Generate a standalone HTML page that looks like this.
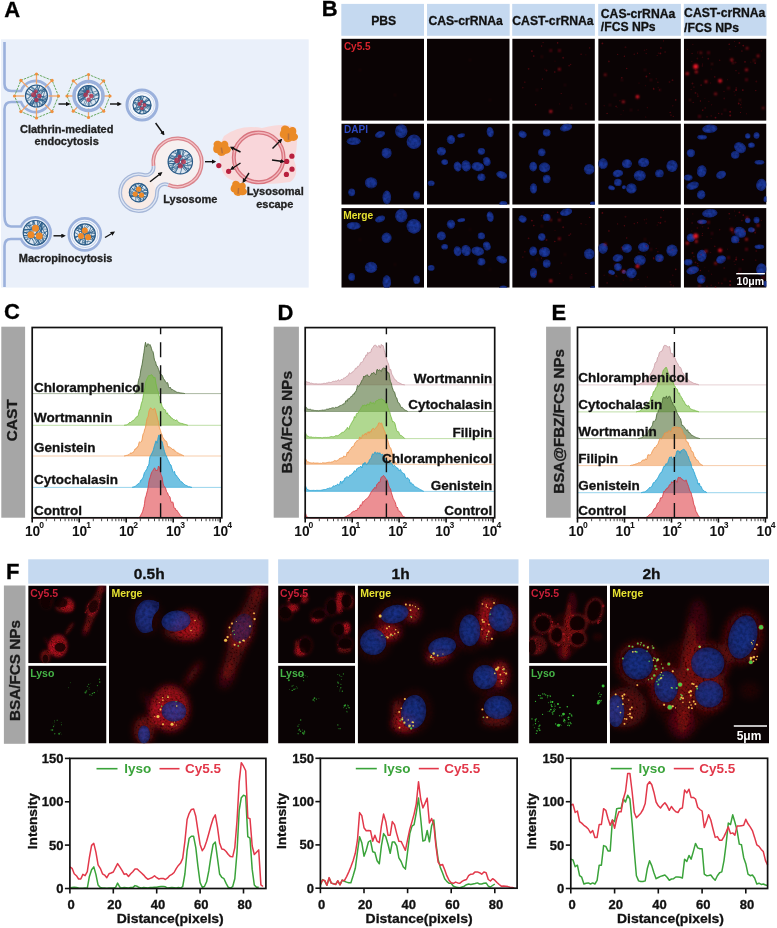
<!DOCTYPE html>
<html><head><meta charset="utf-8"><title>Figure</title>
<style>
html,body{margin:0;padding:0;background:#fff;}
svg{display:block;}
svg text{font-family:"Liberation Sans", Arial, Helvetica, sans-serif;}
</style></head><body>
<svg width="777" height="928" viewBox="0 0 777 928">
<defs>
<radialGradient id="nucg" cx="50%" cy="50%" r="50%">
  <stop offset="0" stop-color="#2040b4"/>
  <stop offset="0.65" stop-color="#1c3aa2"/>
  <stop offset="1" stop-color="#14287a"/>
</radialGradient>
<filter id="b06" x="-20%" y="-20%" width="140%" height="140%"><feGaussianBlur stdDeviation="0.6"/></filter>
<filter id="b08" x="-50%" y="-50%" width="200%" height="200%"><feGaussianBlur stdDeviation="0.8"/></filter>
<filter id="b1" x="-50%" y="-50%" width="200%" height="200%"><feGaussianBlur stdDeviation="1"/></filter>
<filter id="b2" x="-50%" y="-50%" width="200%" height="200%"><feGaussianBlur stdDeviation="2"/></filter>
<filter id="b4" x="-50%" y="-50%" width="200%" height="200%"><feGaussianBlur stdDeviation="4"/></filter>
<filter id="ntex" x="-10%" y="-10%" width="120%" height="120%">
  <feGaussianBlur in="SourceGraphic" stdDeviation="0.7" result="b"/>
  <feTurbulence type="fractalNoise" baseFrequency="0.3" numOctaves="2" seed="7" result="n"/>
  <feColorMatrix in="n" type="matrix" values="1 0 0 0 0  1 0 0 0 0  1 0 0 0 0  0 0 0 0 1" result="g"/>
  <feComposite in="b" in2="g" operator="arithmetic" k1="1.2" k2="0.25" k3="0" k4="0"/>
</filter>
<filter id="rtex" x="-20%" y="-20%" width="140%" height="140%">
  <feGaussianBlur in="SourceGraphic" stdDeviation="3.5" result="b"/>
  <feTurbulence type="fractalNoise" baseFrequency="0.45" numOctaves="2" seed="3" result="n"/>
  <feColorMatrix in="n" type="matrix" values="1 0 0 0 0  1 0 0 0 0  1 0 0 0 0  0 0 0 0 1" result="g"/>
  <feComposite in="b" in2="g" operator="arithmetic" k1="1.9" k2="-0.1" k3="0" k4="0"/>
</filter>

<marker id="ah" viewBox="0 0 10 10" refX="6" refY="5" markerWidth="3.2" markerHeight="3.2" orient="auto-start-reverse"><path d="M0,0 L10,5 L0,10 z" fill="#111"/></marker>
<clipPath id="ballclip"><circle cx="0" cy="0" r="1"/></clipPath>
<clipPath id="c1"><rect x="341.3" y="38.6" width="82.7" height="82.2"/></clipPath>
<clipPath id="c2"><rect x="341.3" y="123.5" width="82.7" height="81.2"/></clipPath>
<clipPath id="c3"><rect x="341.3" y="208.1" width="82.7" height="79.6"/></clipPath>
<clipPath id="c4"><rect x="427" y="38.6" width="82.7" height="82.2"/></clipPath>
<clipPath id="c5"><rect x="427" y="123.5" width="82.7" height="81.2"/></clipPath>
<clipPath id="c6"><rect x="427" y="208.1" width="82.7" height="79.6"/></clipPath>
<clipPath id="c7"><rect x="512.2" y="38.6" width="82.7" height="82.2"/></clipPath>
<clipPath id="c8"><rect x="512.2" y="123.5" width="82.7" height="81.2"/></clipPath>
<clipPath id="c9"><rect x="512.2" y="208.1" width="82.7" height="79.6"/></clipPath>
<clipPath id="c10"><rect x="598.2" y="38.6" width="82.7" height="82.2"/></clipPath>
<clipPath id="c11"><rect x="598.2" y="123.5" width="82.7" height="81.2"/></clipPath>
<clipPath id="c12"><rect x="598.2" y="208.1" width="82.7" height="79.6"/></clipPath>
<clipPath id="c13"><rect x="683.8" y="38.6" width="82.7" height="82.2"/></clipPath>
<clipPath id="c14"><rect x="683.8" y="123.5" width="82.7" height="81.2"/></clipPath>
<clipPath id="c15"><rect x="683.8" y="208.1" width="82.7" height="79.6"/></clipPath><clipPath id="c16"><rect x="109" y="585.5" width="159.4" height="158"/></clipPath>
<clipPath id="c17"><rect x="28.2" y="585.5" width="78.3" height="77.7"/></clipPath>
<clipPath id="c18"><rect x="28.2" y="665.6" width="78.3" height="77.9"/></clipPath>
<clipPath id="c19"><rect x="357.7" y="585.5" width="160.8" height="158"/></clipPath>
<clipPath id="c20"><rect x="278.1" y="585.5" width="77" height="77.7"/></clipPath>
<clipPath id="c21"><rect x="278.1" y="665.6" width="77" height="77.9"/></clipPath>
<clipPath id="c22"><rect x="609.8" y="585.5" width="159.2" height="158"/></clipPath>
<clipPath id="c23"><rect x="529.1" y="585.5" width="77.9" height="77.7"/></clipPath>
<clipPath id="c24"><rect x="529.1" y="665.6" width="77.9" height="77.9"/></clipPath></defs>
<rect width="777" height="928" fill="#fff"/>
<text x="4.2" y="16.5" font-size="22" fill="#000" text-anchor="start" font-weight="bold" stroke="#000" stroke-width="0.3" >A</text>
<rect x="1" y="39.3" width="307.7" height="248.3" fill="#eaf0fa" />
<path d="M4.5,42 L4.5,84 Q4.5,91 11.5,91 L21,91 A15.5,15.5 0 1 1 21,102 L11.5,102 Q4.5,102 4.5,109 L4.5,216 Q4.5,226.5 11,226.5 L21,226.5 A15.5,15.5 0 1 1 21,239 L11,239 Q4.5,239 4.5,246 L4.5,287" fill="none" stroke="#9bb1dc" stroke-width="2.6"/>
<line x1="48.6" y1="96" x2="58.5" y2="96" stroke="#f2a468" stroke-width="1.3"/><line x1="45.1" y1="104.6" x2="52.1" y2="111.6" stroke="#f2a468" stroke-width="1.3"/><line x1="36.5" y1="108.1" x2="36.5" y2="118" stroke="#f2a468" stroke-width="1.3"/><line x1="27.9" y1="104.6" x2="20.9" y2="111.6" stroke="#f2a468" stroke-width="1.3"/><line x1="24.4" y1="96" x2="14.5" y2="96" stroke="#f2a468" stroke-width="1.3"/><line x1="27.9" y1="87.4" x2="20.9" y2="80.4" stroke="#f2a468" stroke-width="1.3"/><line x1="36.5" y1="83.9" x2="36.5" y2="74" stroke="#f2a468" stroke-width="1.3"/><line x1="45.1" y1="87.4" x2="52.1" y2="80.4" stroke="#f2a468" stroke-width="1.3"/><polygon points="58.5,96 52.1,111.6 36.5,118 20.9,111.6 14.5,96 20.9,80.4 36.5,74 52.1,80.4" fill="none" stroke="#5aa050" stroke-width="0.9" stroke-dasharray="2.5,1"/><circle cx="58.5" cy="96" r="1.6" fill="#f09040"/><circle cx="52.1" cy="111.6" r="1.6" fill="#f09040"/><circle cx="36.5" cy="118" r="1.6" fill="#f09040"/><circle cx="20.9" cy="111.6" r="1.6" fill="#f09040"/><circle cx="14.5" cy="96" r="1.6" fill="#f09040"/><circle cx="20.9" cy="80.4" r="1.6" fill="#f09040"/><circle cx="36.5" cy="74" r="1.6" fill="#f09040"/><circle cx="52.1" cy="80.4" r="1.6" fill="#f09040"/>
<g transform="translate(36.5 96)"><circle r="11.5" fill="#dce6f0"/><path d="M-9.7,5.6 Q-5.7,-2.3 1.7,-11" fill="none" stroke="#2a5f8a" stroke-width="0.6"/><path d="M9.3,6.1 Q-1.8,-1.2 -2,11" fill="none" stroke="#2a5f8a" stroke-width="0.7"/><path d="M-9.7,5.4 Q-3.4,4.3 1,-11.1" fill="none" stroke="#2a5f8a" stroke-width="0.5"/><path d="M-5.3,-9.8 Q0.7,-4.1 10.1,-4.7" fill="none" stroke="#2a5f8a" stroke-width="0.6"/><path d="M3.5,-10.6 Q-2.1,2.2 1,11.1" fill="none" stroke="#2a5f8a" stroke-width="0.9"/><path d="M8.8,-6.9 Q-5.3,-3.8 10.6,3.4" fill="none" stroke="#2a5f8a" stroke-width="0.9"/><path d="M9.1,6.5 Q5.3,0.4 -7.1,8.6" fill="none" stroke="#2a5f8a" stroke-width="0.8"/><path d="M-4.5,10.2 Q3.8,-5.5 -5.9,-9.5" fill="none" stroke="#2a5f8a" stroke-width="0.8"/><path d="M11.1,-0.8 Q-2.5,3.3 -6.8,8.8" fill="none" stroke="#2a5f8a" stroke-width="0.5"/><path d="M-10.6,3.6 Q-2.4,-2.4 7.3,-8.4" fill="none" stroke="#2a5f8a" stroke-width="0.6"/><path d="M11.1,1.4 Q-3.3,-2.7 -7.3,8.5" fill="none" stroke="#2a5f8a" stroke-width="0.7"/><path d="M10.5,3.7 Q-4.1,1 -7.3,8.4" fill="none" stroke="#2a5f8a" stroke-width="0.8"/><path d="M8.9,6.7 Q2.2,-1 -7.2,8.5" fill="none" stroke="#2a5f8a" stroke-width="0.5"/><path d="M-10.9,-2.5 Q0.2,5.1 7.9,-7.9" fill="none" stroke="#2a5f8a" stroke-width="0.7"/><path d="M9.2,-6.4 Q-4.1,3.5 10,5" fill="none" stroke="#2a5f8a" stroke-width="0.7"/><path d="M5.7,9.6 Q-1.8,2.9 -9.5,-5.9" fill="none" stroke="#2a5f8a" stroke-width="0.8"/><path d="M8.3,-7.5 Q2.9,-1.7 2.8,10.8" fill="none" stroke="#2a5f8a" stroke-width="0.6"/><path d="M8.9,-6.8 Q5.3,1.9 6,9.4" fill="none" stroke="#2a5f8a" stroke-width="0.7"/><path d="M8.4,7.4 Q-0.6,0.9 -10.7,-3.1" fill="none" stroke="#2a5f8a" stroke-width="0.7"/><path d="M0.9,11.1 Q0.8,-5.7 -6.4,-9.1" fill="none" stroke="#2a5f8a" stroke-width="0.7"/><path d="M-5.2,9.9 Q4.4,-1.6 -8,-7.7" fill="none" stroke="#2a5f8a" stroke-width="0.9"/><path d="M-8,-7.8 Q4.9,2.2 0.4,-11.1" fill="none" stroke="#2a5f8a" stroke-width="0.9"/><path d="M5.2,9.9 Q5,2.3 -6.2,9.3" fill="none" stroke="#2a5f8a" stroke-width="0.5"/><circle cx="-2.9" cy="-1.2" r="2.5" fill="#b8304a" fill-opacity="0.8"/><circle cx="2.9" cy="0" r="2.3" fill="#b8304a" fill-opacity="0.8"/><circle cx="0" cy="4" r="2.3" fill="#b8304a" fill-opacity="0.8"/><circle cx="-0.6" cy="-4.6" r="1.8" fill="#b8304a" fill-opacity="0.8"/><circle r="11" fill="none" stroke="#2a5a86" stroke-width="1.2"/></g>
<line x1="100.3" y1="96" x2="110" y2="96" stroke="#f2a468" stroke-width="1.3"/><line x1="96.9" y1="104.4" x2="103.7" y2="111.2" stroke="#f2a468" stroke-width="1.3"/><line x1="88.5" y1="107.8" x2="88.5" y2="117.5" stroke="#f2a468" stroke-width="1.3"/><line x1="80.1" y1="104.4" x2="73.3" y2="111.2" stroke="#f2a468" stroke-width="1.3"/><line x1="76.7" y1="96" x2="67" y2="96" stroke="#f2a468" stroke-width="1.3"/><line x1="80.1" y1="87.6" x2="73.3" y2="80.8" stroke="#f2a468" stroke-width="1.3"/><line x1="88.5" y1="84.2" x2="88.5" y2="74.5" stroke="#f2a468" stroke-width="1.3"/><line x1="96.9" y1="87.6" x2="103.7" y2="80.8" stroke="#f2a468" stroke-width="1.3"/><polygon points="110,96 103.7,111.2 88.5,117.5 73.3,111.2 67,96 73.3,80.8 88.5,74.5 103.7,80.8" fill="none" stroke="#5aa050" stroke-width="0.9" stroke-dasharray="2.5,1"/><circle cx="110" cy="96" r="1.6" fill="#f09040"/><circle cx="103.7" cy="111.2" r="1.6" fill="#f09040"/><circle cx="88.5" cy="117.5" r="1.6" fill="#f09040"/><circle cx="73.3" cy="111.2" r="1.6" fill="#f09040"/><circle cx="67" cy="96" r="1.6" fill="#f09040"/><circle cx="73.3" cy="80.8" r="1.6" fill="#f09040"/><circle cx="88.5" cy="74.5" r="1.6" fill="#f09040"/><circle cx="103.7" cy="80.8" r="1.6" fill="#f09040"/>
<circle cx="88.5" cy="96" r="14.5" fill="none" stroke="#9bb1dc" stroke-width="3.5"/>
<circle cx="88.5" cy="96" r="12.6" fill="#f4f7fc"/>
<g transform="translate(88.5 96)"><circle r="11" fill="#dce6f0"/><path d="M-9.8,4.2 Q0.5,-0.7 -9.6,-4.6" fill="none" stroke="#2a5f8a" stroke-width="0.7"/><path d="M-5.2,9.3 Q1.3,-2.2 -10.6,-1.5" fill="none" stroke="#2a5f8a" stroke-width="0.6"/><path d="M-7.7,-7.4 Q-4,0.1 9.2,-5.3" fill="none" stroke="#2a5f8a" stroke-width="0.6"/><path d="M2.3,-10.4 Q-0.1,3.8 4.3,9.8" fill="none" stroke="#2a5f8a" stroke-width="0.5"/><path d="M-10.7,-0.4 Q-0.8,-4.4 -6.1,-8.8" fill="none" stroke="#2a5f8a" stroke-width="0.6"/><path d="M-8.8,-6.1 Q-4.3,-3.1 3,-10.2" fill="none" stroke="#2a5f8a" stroke-width="0.6"/><path d="M-10.5,2.1 Q1.5,-0.2 -5.8,-9" fill="none" stroke="#2a5f8a" stroke-width="0.7"/><path d="M-8.1,7 Q0.9,-3.7 1.1,-10.6" fill="none" stroke="#2a5f8a" stroke-width="0.8"/><path d="M10.4,-2.4 Q4.3,-1.7 -0.1,10.7" fill="none" stroke="#2a5f8a" stroke-width="0.7"/><path d="M-9.6,4.7 Q3,0.4 -3.7,-10" fill="none" stroke="#2a5f8a" stroke-width="0.9"/><path d="M-10.3,-2.9 Q-1.5,3.9 -3.4,-10.1" fill="none" stroke="#2a5f8a" stroke-width="0.7"/><path d="M10.5,1.8 Q-4.8,5.4 1.1,10.6" fill="none" stroke="#2a5f8a" stroke-width="0.9"/><path d="M3.3,-10.1 Q2.9,-3.6 7.8,7.3" fill="none" stroke="#2a5f8a" stroke-width="0.6"/><path d="M-10.5,-1.6 Q-5,5.3 1,-10.6" fill="none" stroke="#2a5f8a" stroke-width="0.7"/><path d="M-10.7,-0.3 Q-2.6,-1.2 -1.1,-10.6" fill="none" stroke="#2a5f8a" stroke-width="0.8"/><path d="M-0.9,-10.6 Q-5.4,3.3 10.6,-1" fill="none" stroke="#2a5f8a" stroke-width="0.6"/><path d="M-9.3,-5.3 Q1.8,-1.2 -2.1,-10.5" fill="none" stroke="#2a5f8a" stroke-width="0.7"/><path d="M-9.2,5.4 Q0.6,5.2 -6.1,-8.8" fill="none" stroke="#2a5f8a" stroke-width="0.5"/><path d="M-4.1,9.8 Q2.6,1.7 -10.2,3" fill="none" stroke="#2a5f8a" stroke-width="0.6"/><path d="M-9.2,5.3 Q1.8,-3.6 -0.1,-10.7" fill="none" stroke="#2a5f8a" stroke-width="0.9"/><path d="M1.9,-10.5 Q4.1,2.7 10.1,-3.4" fill="none" stroke="#2a5f8a" stroke-width="0.8"/><path d="M-10.3,-2.9 Q4.6,1 -0.6,-10.7" fill="none" stroke="#2a5f8a" stroke-width="0.6"/><circle cx="-2.8" cy="-1.1" r="2.4" fill="#b8304a" fill-opacity="0.8"/><circle cx="2.8" cy="0" r="2.2" fill="#b8304a" fill-opacity="0.8"/><circle cx="0" cy="3.8" r="2.2" fill="#b8304a" fill-opacity="0.8"/><circle cx="-0.6" cy="-4.4" r="1.8" fill="#b8304a" fill-opacity="0.8"/><circle r="10.5" fill="none" stroke="#2a5a86" stroke-width="1.2"/></g>
<circle cx="142" cy="105" r="15" fill="#f4f7fc" stroke="#9bb1dc" stroke-width="3"/>
<circle cx="142" cy="105" r="12.3" fill="none" stroke="#c8d4ec" stroke-width="0.8"/>
<g transform="translate(142 105)"><circle r="9.5" fill="#dce6f0"/><path d="M-8.7,-2.9 Q-2,0.1 7.6,-5.2" fill="none" stroke="#2a5f8a" stroke-width="0.9"/><path d="M7.3,-5.6 Q-2.8,-4.3 8.5,3.6" fill="none" stroke="#2a5f8a" stroke-width="0.7"/><path d="M9.1,1.7 Q1.4,-2.1 -3,8.7" fill="none" stroke="#2a5f8a" stroke-width="0.8"/><path d="M-7.8,-5 Q0.6,-2.3 -1.4,-9.1" fill="none" stroke="#2a5f8a" stroke-width="0.7"/><path d="M-1.9,9 Q-0.6,-3.3 -6.2,-6.8" fill="none" stroke="#2a5f8a" stroke-width="0.7"/><path d="M1.7,-9 Q-2.6,-1.1 9.2,0.3" fill="none" stroke="#2a5f8a" stroke-width="0.9"/><path d="M9.1,-1.4 Q3.8,3.3 -3.8,8.4" fill="none" stroke="#2a5f8a" stroke-width="0.7"/><path d="M7.7,5 Q0.5,-1.3 -8.3,4.1" fill="none" stroke="#2a5f8a" stroke-width="0.6"/><path d="M-7.7,5.1 Q-2.2,-2 -3.8,-8.4" fill="none" stroke="#2a5f8a" stroke-width="0.7"/><path d="M5.9,-7.1 Q-2.1,-2.1 4.2,8.2" fill="none" stroke="#2a5f8a" stroke-width="0.7"/><path d="M2.5,8.9 Q0.1,-3.9 -7.3,5.6" fill="none" stroke="#2a5f8a" stroke-width="0.7"/><path d="M-6,7 Q2.3,1.8 -2,-9" fill="none" stroke="#2a5f8a" stroke-width="0.8"/><path d="M-6.5,6.6 Q-1.5,0.7 -2.1,-9" fill="none" stroke="#2a5f8a" stroke-width="0.6"/><path d="M-8.7,3.1 Q-2.4,4.5 -7.7,-5" fill="none" stroke="#2a5f8a" stroke-width="0.6"/><path d="M-3.3,-8.6 Q2.1,-0.2 9.1,1.5" fill="none" stroke="#2a5f8a" stroke-width="0.7"/><path d="M8.4,3.8 Q-2.9,-3.3 1.9,9" fill="none" stroke="#2a5f8a" stroke-width="0.5"/><path d="M6.3,6.7 Q-3,4.3 -8.4,3.8" fill="none" stroke="#2a5f8a" stroke-width="0.8"/><path d="M-8.9,-2.3 Q-2.2,4.1 7.2,-5.7" fill="none" stroke="#2a5f8a" stroke-width="0.8"/><path d="M-1.4,-9.1 Q3.2,2.3 9.2,0.4" fill="none" stroke="#2a5f8a" stroke-width="0.8"/><circle cx="-2.4" cy="-1" r="2.1" fill="#b8304a" fill-opacity="0.8"/><circle cx="2.4" cy="0" r="1.9" fill="#b8304a" fill-opacity="0.8"/><circle cx="0" cy="3.3" r="1.9" fill="#b8304a" fill-opacity="0.8"/><circle cx="-0.5" cy="-3.8" r="1.5" fill="#b8304a" fill-opacity="0.8"/><circle r="9" fill="none" stroke="#2a5a86" stroke-width="1.2"/></g>
<line x1="58.5" y1="104" x2="68.5" y2="104" stroke="#111" stroke-width="1.4" marker-end="url(#ah)"/>
<line x1="110" y1="104" x2="120" y2="104" stroke="#111" stroke-width="1.4" marker-end="url(#ah)"/>
<line x1="155.6" y1="123" x2="163.5" y2="134" stroke="#111" stroke-width="1.4" marker-end="url(#ah)"/>
<g transform="translate(35.5 232.8)"><circle r="12.8" fill="#dce6f0"/><path d="M12.2,-2.6 Q6.1,2.7 -1.4,12.3" fill="none" stroke="#2a5f8a" stroke-width="0.8"/><path d="M2.6,12.1 Q-6.3,-3.2 -7,-10.2" fill="none" stroke="#2a5f8a" stroke-width="0.7"/><path d="M2.3,-12.2 Q4.6,6.2 12.2,-2.4" fill="none" stroke="#2a5f8a" stroke-width="0.6"/><path d="M-10.2,-7.1 Q-1.5,-5.8 -1.7,-12.3" fill="none" stroke="#2a5f8a" stroke-width="0.9"/><path d="M-11.4,4.8 Q3.7,4.7 8.2,-9.3" fill="none" stroke="#2a5f8a" stroke-width="0.6"/><path d="M11.1,5.6 Q-4.2,3 -9.7,7.7" fill="none" stroke="#2a5f8a" stroke-width="0.7"/><path d="M-12.2,-2.2 Q0.3,-5 11.9,-3.6" fill="none" stroke="#2a5f8a" stroke-width="0.6"/><path d="M-11.9,-3.5 Q1.8,-1.3 6.6,-10.5" fill="none" stroke="#2a5f8a" stroke-width="0.8"/><path d="M-9.9,7.5 Q3.4,-4.1 -2.1,-12.2" fill="none" stroke="#2a5f8a" stroke-width="0.7"/><path d="M-12.4,-0.2 Q-3.2,0.7 7.2,-10.1" fill="none" stroke="#2a5f8a" stroke-width="0.7"/><path d="M9.8,-7.6 Q1.8,-3.9 8,9.5" fill="none" stroke="#2a5f8a" stroke-width="0.7"/><path d="M5.1,11.3 Q-0.9,4.2 -9.9,-7.4" fill="none" stroke="#2a5f8a" stroke-width="0.7"/><path d="M10.3,-7 Q-2.2,0.9 6.6,10.5" fill="none" stroke="#2a5f8a" stroke-width="0.8"/><path d="M8,-9.5 Q-5.3,1.2 5.4,11.2" fill="none" stroke="#2a5f8a" stroke-width="0.6"/><path d="M-1.4,-12.3 Q0.2,1.3 7.6,9.8" fill="none" stroke="#2a5f8a" stroke-width="0.5"/><path d="M-12,-3.1 Q1.5,-1.7 -3.2,-12" fill="none" stroke="#2a5f8a" stroke-width="0.8"/><path d="M11.8,3.7 Q2.4,0.2 3,12" fill="none" stroke="#2a5f8a" stroke-width="0.7"/><path d="M6.9,-10.3 Q4,0.1 8.7,8.8" fill="none" stroke="#2a5f8a" stroke-width="0.9"/><path d="M-6.2,-10.8 Q-1.7,4.7 6.8,-10.4" fill="none" stroke="#2a5f8a" stroke-width="0.6"/><path d="M4.6,11.5 Q-1.4,1.5 -12.1,2.6" fill="none" stroke="#2a5f8a" stroke-width="0.7"/><path d="M-0.9,12.4 Q-1,5.2 -12.3,-1.5" fill="none" stroke="#2a5f8a" stroke-width="0.9"/><path d="M-8.9,-8.7 Q3,2.3 2.1,-12.2" fill="none" stroke="#2a5f8a" stroke-width="0.8"/><path d="M-7.1,10.2 Q1.4,-4.8 -12.4,0.5" fill="none" stroke="#2a5f8a" stroke-width="0.8"/><path d="M3.4,-11.9 Q5.7,-4.2 11.8,4" fill="none" stroke="#2a5f8a" stroke-width="0.9"/><path d="M-12.1,2.7 Q3.2,6.2 6.4,-10.7" fill="none" stroke="#2a5f8a" stroke-width="0.9"/><circle cx="0" cy="-4.5" r="3.5" fill="#ee8a2a"/><circle cx="-4.5" cy="1.9" r="3.5" fill="#ee8a2a"/><circle cx="3.8" cy="3.2" r="3.5" fill="#ee8a2a"/><circle r="12.3" fill="none" stroke="#2a5a86" stroke-width="1.2"/></g>
<circle cx="84.8" cy="234.4" r="16" fill="#f4f7fc" stroke="#9bb1dc" stroke-width="2.6"/>
<circle cx="84.8" cy="234.4" r="13.2" fill="none" stroke="#b8c8e8" stroke-width="0.9"/>
<g transform="translate(84.8 234.4)"><circle r="11" fill="#dce6f0"/><path d="M1.9,10.5 Q-3.2,4.6 -7.5,-7.6" fill="none" stroke="#2a5f8a" stroke-width="0.7"/><path d="M-8.1,-6.9 Q0.2,-2.2 10.6,-1.1" fill="none" stroke="#2a5f8a" stroke-width="0.6"/><path d="M9.3,5.2 Q-0.6,-3.8 -10,3.7" fill="none" stroke="#2a5f8a" stroke-width="0.9"/><path d="M-1.6,10.5 Q-2.2,1.4 -10.4,-2.2" fill="none" stroke="#2a5f8a" stroke-width="0.7"/><path d="M-8.6,-6.3 Q-2.4,-2.7 4,-9.9" fill="none" stroke="#2a5f8a" stroke-width="0.6"/><path d="M6.6,8.4 Q5.1,5.1 -4.8,9.5" fill="none" stroke="#2a5f8a" stroke-width="0.6"/><path d="M10.5,1.6 Q2.2,3.1 2.2,10.4" fill="none" stroke="#2a5f8a" stroke-width="0.5"/><path d="M-9.4,-5 Q0.2,1.5 -2.9,-10.3" fill="none" stroke="#2a5f8a" stroke-width="0.9"/><path d="M-0.6,10.7 Q4.1,4.7 -6.7,-8.3" fill="none" stroke="#2a5f8a" stroke-width="0.5"/><path d="M-10.5,2 Q-1.1,3.5 9,-5.8" fill="none" stroke="#2a5f8a" stroke-width="0.7"/><path d="M1.4,-10.6 Q-5.2,-4.5 10.1,3.5" fill="none" stroke="#2a5f8a" stroke-width="0.5"/><path d="M-0.1,10.7 Q1.4,3.5 -4.2,-9.8" fill="none" stroke="#2a5f8a" stroke-width="0.7"/><path d="M-7,-8 Q4.7,4.5 10.6,1.4" fill="none" stroke="#2a5f8a" stroke-width="0.8"/><path d="M8.9,6 Q-5.1,0.5 -5.5,9.1" fill="none" stroke="#2a5f8a" stroke-width="0.8"/><path d="M10.1,3.4 Q-1.5,-2.8 0.8,10.6" fill="none" stroke="#2a5f8a" stroke-width="0.8"/><path d="M-6.4,8.5 Q-0.1,0.9 -4.4,-9.7" fill="none" stroke="#2a5f8a" stroke-width="0.9"/><path d="M10,-3.7 Q3.8,-1.7 8.4,6.6" fill="none" stroke="#2a5f8a" stroke-width="0.5"/><path d="M-7.9,7.1 Q5.1,-1.4 -5,-9.5" fill="none" stroke="#2a5f8a" stroke-width="0.5"/><path d="M6.8,-8.2 Q-0.2,3.8 10.6,1.5" fill="none" stroke="#2a5f8a" stroke-width="0.7"/><path d="M-10.1,3.5 Q-5.3,0.8 5.1,-9.4" fill="none" stroke="#2a5f8a" stroke-width="0.7"/><path d="M10.6,-1 Q-4.9,-3.4 -7.2,7.9" fill="none" stroke="#2a5f8a" stroke-width="0.7"/><path d="M-3.1,-10.2 Q-1.5,4.6 9.8,-4.2" fill="none" stroke="#2a5f8a" stroke-width="0.9"/><circle cx="0" cy="-3.8" r="3" fill="#ee8a2a"/><circle cx="-3.8" cy="1.6" r="3" fill="#ee8a2a"/><circle cx="3.3" cy="2.8" r="3" fill="#ee8a2a"/><circle r="10.5" fill="none" stroke="#2a5a86" stroke-width="1.2"/></g>
<line x1="53.5" y1="235.8" x2="64" y2="235.8" stroke="#111" stroke-width="1.4" marker-end="url(#ah)"/>
<line x1="105" y1="237.5" x2="113.5" y2="232.5" stroke="#111" stroke-width="1.4" marker-end="url(#ah)"/>
<path d="M153.55,166.00 A24.2,24.2 0 1 1 168.10,184.80 A8,8 0 0 0 157.00,192.30 A18.4,18.4 0 1 1 143.51,174.87 A8,8 0 0 0 153.55,166.00 Z" fill="#f6f0f0"/>
<circle cx="138.6" cy="192.6" r="17" fill="#f8ebe6"/>
<path d="M153.55,166.00 A24.2,24.2 0 1 1 168.10,184.80" fill="none" stroke="#d9848c" stroke-width="3.8"/>
<path d="M168.10,184.80 A8,8 0 0 0 157.00,192.30 A18.4,18.4 0 1 1 143.51,174.87 A8,8 0 0 0 153.55,166.00" fill="none" stroke="#a6b7d8" stroke-width="3.8"/>
<path d="M153.55,166.00 A24.2,24.2 0 1 1 168.10,184.80" fill="none" stroke="#f4c4c8" stroke-width="1.3"/>
<path d="M168.10,184.80 A8,8 0 0 0 157.00,192.30 A18.4,18.4 0 1 1 143.51,174.87 A8,8 0 0 0 153.55,166.00" fill="none" stroke="#dfe7f5" stroke-width="1.3"/>
<g transform="translate(180.3 161.7)"><circle r="12.7" fill="#dce6f0"/><path d="M9.6,-7.7 Q4.1,-5.8 8.7,8.8" fill="none" stroke="#2a5f8a" stroke-width="0.5"/><path d="M-10.2,-6.9 Q-1,-2.1 9.5,-7.8" fill="none" stroke="#2a5f8a" stroke-width="0.7"/><path d="M-11.4,4.7 Q0.2,1 3.8,-11.7" fill="none" stroke="#2a5f8a" stroke-width="0.8"/><path d="M12.3,-0.8 Q-1.1,4.8 -8.9,8.5" fill="none" stroke="#2a5f8a" stroke-width="0.8"/><path d="M11.6,4.1 Q3.8,3 -10.4,6.6" fill="none" stroke="#2a5f8a" stroke-width="0.8"/><path d="M-11.9,-3.1 Q5.8,-1.2 -3.2,-11.9" fill="none" stroke="#2a5f8a" stroke-width="0.6"/><path d="M-2.5,-12.1 Q-3.1,2.2 6.5,10.4" fill="none" stroke="#2a5f8a" stroke-width="0.7"/><path d="M-2.5,-12.1 Q-1.9,-3.1 7.7,9.6" fill="none" stroke="#2a5f8a" stroke-width="0.7"/><path d="M-0.3,-12.3 Q-1.2,6.2 9.8,7.5" fill="none" stroke="#2a5f8a" stroke-width="0.7"/><path d="M-8.6,8.8 Q-5.3,-1.3 -1.8,-12.2" fill="none" stroke="#2a5f8a" stroke-width="0.8"/><path d="M1.1,-12.3 Q-3.9,-0.4 12.2,-1.4" fill="none" stroke="#2a5f8a" stroke-width="0.6"/><path d="M-1.2,-12.3 Q-2.1,4.4 10.9,-5.8" fill="none" stroke="#2a5f8a" stroke-width="0.7"/><path d="M9.3,-8.1 Q4.3,-4.1 -5.5,11" fill="none" stroke="#2a5f8a" stroke-width="0.7"/><path d="M-12.2,1.8 Q3.1,4.1 -1.4,-12.2" fill="none" stroke="#2a5f8a" stroke-width="0.8"/><path d="M7.9,9.5 Q-5.6,-3.9 -12.3,0.7" fill="none" stroke="#2a5f8a" stroke-width="0.9"/><path d="M-10.2,6.9 Q2.3,-4.3 -10.8,-5.9" fill="none" stroke="#2a5f8a" stroke-width="0.8"/><path d="M-0.1,12.3 Q5.8,-5.5 -9.6,7.7" fill="none" stroke="#2a5f8a" stroke-width="0.7"/><path d="M-6.7,10.3 Q4.4,1.3 -5.3,-11.1" fill="none" stroke="#2a5f8a" stroke-width="0.7"/><path d="M9.1,8.3 Q-3.8,-0.1 -12.1,2.3" fill="none" stroke="#2a5f8a" stroke-width="0.5"/><path d="M-4.9,11.3 Q0.7,0.6 -2.5,-12.1" fill="none" stroke="#2a5f8a" stroke-width="0.6"/><path d="M5.8,-10.9 Q-4.8,0.8 11.9,3.3" fill="none" stroke="#2a5f8a" stroke-width="0.6"/><path d="M1.9,-12.2 Q3.6,1.4 11.9,-3.1" fill="none" stroke="#2a5f8a" stroke-width="0.5"/><path d="M-11.4,-4.6 Q5.6,3.6 10,-7.2" fill="none" stroke="#2a5f8a" stroke-width="0.8"/><path d="M-12.3,0.2 Q4,-6.2 -8,-9.4" fill="none" stroke="#2a5f8a" stroke-width="0.7"/><path d="M-11.2,-5 Q-5.6,0.9 -1.5,-12.2" fill="none" stroke="#2a5f8a" stroke-width="0.7"/><circle cx="-3.2" cy="-1.3" r="2.8" fill="#b8304a" fill-opacity="0.8"/><circle cx="3.2" cy="0" r="2.5" fill="#b8304a" fill-opacity="0.8"/><circle cx="0" cy="4.4" r="2.5" fill="#b8304a" fill-opacity="0.8"/><circle cx="-0.6" cy="-5.1" r="2" fill="#b8304a" fill-opacity="0.8"/><circle r="12.2" fill="none" stroke="#2a5a86" stroke-width="1.2"/></g>
<g transform="translate(138.6 192.6)"><circle r="9.8" fill="#dce6f0"/><path d="M8.4,4.4 Q-0.6,2.2 -9.1,2.8" fill="none" stroke="#2a5f8a" stroke-width="0.9"/><path d="M-9.2,-2.3 Q-4.2,-2.3 4.3,-8.5" fill="none" stroke="#2a5f8a" stroke-width="0.7"/><path d="M-4.1,-8.6 Q-1.2,-4.3 8.8,3.6" fill="none" stroke="#2a5f8a" stroke-width="0.6"/><path d="M8,-5.1 Q-0.5,4.2 7.5,5.8" fill="none" stroke="#2a5f8a" stroke-width="0.5"/><path d="M-7.7,-5.6 Q-2.6,0.5 9.3,1.8" fill="none" stroke="#2a5f8a" stroke-width="0.9"/><path d="M6.4,7.1 Q2.5,1.7 -8.5,4.2" fill="none" stroke="#2a5f8a" stroke-width="0.7"/><path d="M2.7,9.1 Q-1.3,-0.2 -9.5,0.7" fill="none" stroke="#2a5f8a" stroke-width="0.6"/><path d="M5,-8.1 Q-1.8,0.7 2.4,9.2" fill="none" stroke="#2a5f8a" stroke-width="0.6"/><path d="M-9.1,2.8 Q1.5,-1.3 -3.4,-8.9" fill="none" stroke="#2a5f8a" stroke-width="0.7"/><path d="M-1.8,-9.3 Q4,-3.1 9.4,-1.3" fill="none" stroke="#2a5f8a" stroke-width="0.8"/><path d="M-8.4,4.5 Q1.3,0.2 -3.8,-8.7" fill="none" stroke="#2a5f8a" stroke-width="0.7"/><path d="M9.5,0.1 Q2.1,0.2 5.2,8" fill="none" stroke="#2a5f8a" stroke-width="0.8"/><path d="M9.1,-2.6 Q-4.4,-1.9 -2.9,9" fill="none" stroke="#2a5f8a" stroke-width="0.7"/><path d="M0.9,9.5 Q4.4,3.4 -4.6,-8.3" fill="none" stroke="#2a5f8a" stroke-width="0.7"/><path d="M5.2,-8 Q-1.9,-0.4 9.5,0.6" fill="none" stroke="#2a5f8a" stroke-width="0.8"/><path d="M-9.5,0.8 Q-1.5,-1.7 -5.3,-7.9" fill="none" stroke="#2a5f8a" stroke-width="0.6"/><path d="M4.8,8.2 Q-0.5,2.7 -8.5,4.3" fill="none" stroke="#2a5f8a" stroke-width="0.8"/><path d="M-9.4,-1.3 Q2.7,3.8 2.7,-9.1" fill="none" stroke="#2a5f8a" stroke-width="0.8"/><path d="M3,-9 Q-4.5,3.7 1.4,9.4" fill="none" stroke="#2a5f8a" stroke-width="0.6"/><circle cx="0" cy="-3.4" r="2.6" fill="#ee8a2a"/><circle cx="-3.4" cy="1.5" r="2.6" fill="#ee8a2a"/><circle cx="2.9" cy="2.5" r="2.6" fill="#ee8a2a"/><circle r="9.3" fill="none" stroke="#2a5a86" stroke-width="1.2"/></g>
<line x1="150" y1="181.8" x2="161" y2="173.2" stroke="#111" stroke-width="1.4" marker-end="url(#ah)"/>
<line x1="205" y1="161.7" x2="214.5" y2="161.7" stroke="#111" stroke-width="1.4" marker-end="url(#ah)"/>
<path d="M224,136 Q240,124 262,128 Q285,122 296,128 Q299,145 294,160 Q300,176 290,182 Q265,186 240,182 Q222,180 221,165 Q216,150 224,136 Z" fill="#f8d9da"/>
<circle cx="258.7" cy="157.4" r="24.9" fill="#f9d6da" stroke="#d8747e" stroke-width="4"/>
<circle cx="258.7" cy="157.4" r="24.9" fill="none" stroke="#f2b8be" stroke-width="1.3"/>
<g transform="translate(288.5 134.5) rotate(0) scale(1.05)"><path d="M-7,-4 C-8,-9 -1,-10 1,-6 C4,-9 9,-6 7,-1 C11,1 9,7 3,6 C1,8 -4,8 -5,4 C-9,3 -9,-1 -7,-4 Z" fill="#ea8a26"/><path d="M0,-1 L0,5" stroke="#b8703a" stroke-width="1.5"/></g>
<g transform="translate(221.5 148.5) rotate(-10) scale(1.0)"><path d="M-7,-4 C-8,-9 -1,-10 1,-6 C4,-9 9,-6 7,-1 C11,1 9,7 3,6 C1,8 -4,8 -5,4 C-9,3 -9,-1 -7,-4 Z" fill="#ea8a26"/><path d="M0,-1 L0,5" stroke="#b8703a" stroke-width="1.5"/></g>
<g transform="translate(238.5 189) rotate(5) scale(0.95)"><path d="M-7,-4 C-8,-9 -1,-10 1,-6 C4,-9 9,-6 7,-1 C11,1 9,7 3,6 C1,8 -4,8 -5,4 C-9,3 -9,-1 -7,-4 Z" fill="#ea8a26"/><path d="M0,-1 L0,5" stroke="#b8703a" stroke-width="1.5"/></g>
<circle cx="218.8" cy="165.6" r="2.6" fill="#b8203e"/>
<circle cx="228.6" cy="171.3" r="2.6" fill="#b8203e"/>
<circle cx="286.7" cy="161.4" r="2.6" fill="#b8203e"/>
<circle cx="291.9" cy="156.2" r="2.6" fill="#b8203e"/>
<circle cx="292" cy="169.2" r="2.6" fill="#b8203e"/>
<circle cx="286.4" cy="174.4" r="2.6" fill="#b8203e"/>
<line x1="240.5" y1="152" x2="231.5" y2="147.5" stroke="#111" stroke-width="1.4" marker-end="url(#ah)"/>
<line x1="240.5" y1="163" x2="231.5" y2="169" stroke="#111" stroke-width="1.4" marker-end="url(#ah)"/>
<line x1="272.5" y1="148.5" x2="281" y2="140" stroke="#111" stroke-width="1.4" marker-end="url(#ah)"/>
<line x1="272" y1="160" x2="283" y2="161.5" stroke="#111" stroke-width="1.4" marker-end="url(#ah)"/>
<line x1="249" y1="173" x2="243.5" y2="181.5" stroke="#111" stroke-width="1.4" marker-end="url(#ah)"/>
<text x="66.7" y="132.8" font-size="11" fill="#222" text-anchor="middle" font-weight="bold" stroke="#222" stroke-width="0.3" >Clathrin-mediated</text>
<text x="66.7" y="144.6" font-size="11" fill="#222" text-anchor="middle" font-weight="bold" stroke="#222" stroke-width="0.3" >endocytosis</text>
<text x="65.6" y="262.2" font-size="11" fill="#222" text-anchor="middle" font-weight="bold" stroke="#222" stroke-width="0.3" >Macropinocytosis</text>
<text x="190.3" y="202.6" font-size="11" fill="#222" text-anchor="middle" font-weight="bold" stroke="#222" stroke-width="0.3" >Lysosome</text>
<text x="275.2" y="195" font-size="11" fill="#222" text-anchor="middle" font-weight="bold" stroke="#222" stroke-width="0.3" >Lysosomal</text>
<text x="274.8" y="207.7" font-size="11" fill="#222" text-anchor="middle" font-weight="bold" stroke="#222" stroke-width="0.3" >escape</text>
<rect x="341.3" y="3.9" width="82.7" height="31.9" fill="#c5d9f0" />
<text x="371.2" y="24.5" font-size="12.2" fill="#111" text-anchor="start" font-weight="bold" stroke="#111" stroke-width="0.3" >PBS</text>
<rect x="427" y="3.9" width="82.7" height="31.9" fill="#c5d9f0" />
<text x="428.4" y="24.5" font-size="12.2" fill="#111" text-anchor="start" font-weight="bold" stroke="#111" stroke-width="0.3" >CAS-crRNAa</text>
<rect x="512.2" y="3.9" width="82.7" height="31.9" fill="#c5d9f0" />
<text x="512.3" y="24.8" font-size="12.2" fill="#111" text-anchor="start" font-weight="bold" stroke="#111" stroke-width="0.3" >CAST-crRNAa</text>
<rect x="598.2" y="3.9" width="82.7" height="31.9" fill="#c5d9f0" />
<text x="600.8" y="17.9" font-size="12.2" fill="#111" text-anchor="start" font-weight="bold" stroke="#111" stroke-width="0.3" >CAS-crRNAa</text>
<text x="600.8" y="31.4" font-size="12.2" fill="#111" text-anchor="start" font-weight="bold" stroke="#111" stroke-width="0.3" >/FCS NPs</text>
<rect x="683.8" y="3.9" width="82.7" height="31.9" fill="#c5d9f0" />
<text x="684.1" y="17.4" font-size="12.2" fill="#111" text-anchor="start" font-weight="bold" stroke="#111" stroke-width="0.3" >CAST-crRNAa</text>
<text x="684.1" y="31.5" font-size="12.2" fill="#111" text-anchor="start" font-weight="bold" stroke="#111" stroke-width="0.3" >/FCS NPs</text>
<text x="321.8" y="16.4" font-size="22" fill="#000" text-anchor="start" font-weight="bold" stroke="#000" stroke-width="0.3" >B</text>
<g clip-path="url(#c1)"><rect x="341.3" y="38.6" width="82.7" height="82.2" fill="#0a0304" /><circle cx="360" cy="70" r="0.8" fill="#f01828" fill-opacity="0.2" filter="url(#b08)"/><circle cx="395" cy="95" r="0.8" fill="#f01828" fill-opacity="0.2" filter="url(#b08)"/></g>
<g clip-path="url(#c2)"><rect x="341.3" y="123.5" width="82.7" height="81.2" fill="#0a0304" /><g filter="url(#ntex)" opacity="0.88"><ellipse cx="353.7" cy="141.2" rx="7" ry="3.9" fill="url(#nucg)" /><ellipse cx="380.1" cy="134.4" rx="5.2" ry="3.3" fill="url(#nucg)" transform="rotate(-20 380.1 134.4)" /><ellipse cx="401.3" cy="131.1" rx="6.2" ry="6.8" fill="url(#nucg)" /><ellipse cx="413.9" cy="141.8" rx="7.3" ry="7.3" fill="url(#nucg)" /><ellipse cx="386.6" cy="153.1" rx="5" ry="5.3" fill="url(#nucg)" /><ellipse cx="371.1" cy="182.8" rx="6.2" ry="5.6" fill="url(#nucg)" /><ellipse cx="351.7" cy="192.3" rx="3.4" ry="3.9" fill="url(#nucg)" /><ellipse cx="386.8" cy="197.4" rx="4.3" ry="6.8" fill="url(#nucg)" /><ellipse cx="416.6" cy="195.2" rx="3.4" ry="4.2" fill="url(#nucg)" /></g></g>
<g clip-path="url(#c3)"><rect x="341.3" y="208.1" width="82.7" height="79.6" fill="#0a0304" /><g filter="url(#ntex)" opacity="0.88"><ellipse cx="353.7" cy="225.8" rx="7" ry="3.9" fill="url(#nucg)" /><ellipse cx="380.1" cy="219" rx="5.2" ry="3.3" fill="url(#nucg)" transform="rotate(-20 380.1 219)" /><ellipse cx="401.3" cy="215.7" rx="6.2" ry="6.8" fill="url(#nucg)" /><ellipse cx="413.9" cy="226.4" rx="7.3" ry="7.3" fill="url(#nucg)" /><ellipse cx="386.6" cy="237.7" rx="5" ry="5.3" fill="url(#nucg)" /><ellipse cx="371.1" cy="267.4" rx="6.2" ry="5.6" fill="url(#nucg)" /><ellipse cx="351.7" cy="276.9" rx="3.4" ry="3.9" fill="url(#nucg)" /><ellipse cx="386.8" cy="282" rx="4.3" ry="6.8" fill="url(#nucg)" /><ellipse cx="416.6" cy="279.8" rx="3.4" ry="4.2" fill="url(#nucg)" /></g><circle cx="360" cy="239.5" r="0.8" fill="#f01828" fill-opacity="0.2" filter="url(#b08)"/><circle cx="395" cy="264.5" r="0.8" fill="#f01828" fill-opacity="0.2" filter="url(#b08)"/></g>
<g clip-path="url(#c4)"><rect x="427" y="38.6" width="82.7" height="82.2" fill="#0a0304" /><circle cx="470" cy="60" r="0.8" fill="#f01828" fill-opacity="0.2" filter="url(#b08)"/><circle cx="490" cy="100" r="0.8" fill="#f01828" fill-opacity="0.2" filter="url(#b08)"/></g>
<g clip-path="url(#c5)"><rect x="427" y="123.5" width="82.7" height="81.2" fill="#0a0304" /><g filter="url(#ntex)" opacity="0.88"><ellipse cx="451" cy="139.6" rx="4.2" ry="4.5" fill="url(#nucg)" /><ellipse cx="461.2" cy="135.5" rx="4" ry="2" fill="url(#nucg)" transform="rotate(-10 461.2 135.5)" /><ellipse cx="490.2" cy="132.1" rx="3.5" ry="5.2" fill="url(#nucg)" transform="rotate(-10 490.2 132.1)" /><ellipse cx="441.4" cy="151.3" rx="4.5" ry="4.3" fill="url(#nucg)" /><ellipse cx="481.4" cy="151.3" rx="3.7" ry="3.4" fill="url(#nucg)" /><ellipse cx="444.7" cy="162.1" rx="3.4" ry="2.8" fill="url(#nucg)" /><ellipse cx="457.6" cy="166.6" rx="3.9" ry="5" fill="url(#nucg)" transform="rotate(-10 457.6 166.6)" /><ellipse cx="466.1" cy="165.9" rx="4.7" ry="5.6" fill="url(#nucg)" transform="rotate(-15 466.1 165.9)" /><ellipse cx="477.8" cy="166.6" rx="6.4" ry="4.5" fill="url(#nucg)" transform="rotate(10 477.8 166.6)" /><ellipse cx="486.8" cy="161.4" rx="3.7" ry="4.5" fill="url(#nucg)" transform="rotate(-20 486.8 161.4)" /><ellipse cx="481.4" cy="177.2" rx="4" ry="3.8" fill="url(#nucg)" /><ellipse cx="501.7" cy="174.9" rx="5.6" ry="3.6" fill="url(#nucg)" transform="rotate(20 501.7 174.9)" /><ellipse cx="431.2" cy="183.3" rx="3.4" ry="2.8" fill="url(#nucg)" /><ellipse cx="503.3" cy="203.5" rx="4" ry="2.5" fill="url(#nucg)" /></g></g>
<g clip-path="url(#c6)"><rect x="427" y="208.1" width="82.7" height="79.6" fill="#0a0304" /><g filter="url(#ntex)" opacity="0.88"><ellipse cx="451" cy="224.2" rx="4.2" ry="4.5" fill="url(#nucg)" /><ellipse cx="461.2" cy="220.1" rx="4" ry="2" fill="url(#nucg)" transform="rotate(-10 461.2 220.1)" /><ellipse cx="490.2" cy="216.7" rx="3.5" ry="5.2" fill="url(#nucg)" transform="rotate(-10 490.2 216.7)" /><ellipse cx="441.4" cy="235.9" rx="4.5" ry="4.3" fill="url(#nucg)" /><ellipse cx="481.4" cy="235.9" rx="3.7" ry="3.4" fill="url(#nucg)" /><ellipse cx="444.7" cy="246.7" rx="3.4" ry="2.8" fill="url(#nucg)" /><ellipse cx="457.6" cy="251.2" rx="3.9" ry="5" fill="url(#nucg)" transform="rotate(-10 457.6 251.2)" /><ellipse cx="466.1" cy="250.5" rx="4.7" ry="5.6" fill="url(#nucg)" transform="rotate(-15 466.1 250.5)" /><ellipse cx="477.8" cy="251.2" rx="6.4" ry="4.5" fill="url(#nucg)" transform="rotate(10 477.8 251.2)" /><ellipse cx="486.8" cy="246" rx="3.7" ry="4.5" fill="url(#nucg)" transform="rotate(-20 486.8 246)" /><ellipse cx="481.4" cy="261.8" rx="4" ry="3.8" fill="url(#nucg)" /><ellipse cx="501.7" cy="259.5" rx="5.6" ry="3.6" fill="url(#nucg)" transform="rotate(20 501.7 259.5)" /><ellipse cx="431.2" cy="267.9" rx="3.4" ry="2.8" fill="url(#nucg)" /><ellipse cx="503.3" cy="288.1" rx="4" ry="2.5" fill="url(#nucg)" /></g><circle cx="470" cy="229.5" r="0.8" fill="#f01828" fill-opacity="0.2" filter="url(#b08)"/><circle cx="490" cy="269.5" r="0.8" fill="#f01828" fill-opacity="0.2" filter="url(#b08)"/></g>
<g clip-path="url(#c7)"><rect x="512.2" y="38.6" width="82.7" height="82.2" fill="#0a0304" /><circle cx="561.2" cy="93.5" r="0.6" fill="#c01020" fill-opacity="0.4"/><circle cx="559.7" cy="103.9" r="0.6" fill="#c01020" fill-opacity="0.2"/><circle cx="542.4" cy="79.1" r="0.7" fill="#c01020" fill-opacity="0.4"/><circle cx="528.6" cy="68.8" r="0.9" fill="#c01020" fill-opacity="0.3"/><circle cx="555" cy="61.1" r="0.6" fill="#c01020" fill-opacity="0.2"/><circle cx="557.6" cy="42.9" r="0.8" fill="#c01020" fill-opacity="0.4"/><circle cx="533.8" cy="56.1" r="0.8" fill="#c01020" fill-opacity="0.4"/><circle cx="554.8" cy="72" r="0.8" fill="#c01020" fill-opacity="0.4"/><circle cx="581.1" cy="54.3" r="0.8" fill="#c01020" fill-opacity="0.3"/><circle cx="541.6" cy="46.1" r="0.8" fill="#c01020" fill-opacity="0.3"/><circle cx="585.9" cy="103.9" r="0.6" fill="#c01020" fill-opacity="0.4"/><circle cx="541.5" cy="88.6" r="0.6" fill="#c01020" fill-opacity="0.4"/><circle cx="535.6" cy="104.7" r="0.8" fill="#c01020" fill-opacity="0.4"/><circle cx="589.7" cy="47.9" r="0.7" fill="#c01020" fill-opacity="0.4"/><circle cx="569.1" cy="65.7" r="0.7" fill="#c01020" fill-opacity="0.4"/><circle cx="563.2" cy="57.7" r="1" fill="#c01020" fill-opacity="0.3"/><circle cx="570.6" cy="64.5" r="0.8" fill="#c01020" fill-opacity="0.3"/><circle cx="543.1" cy="42.6" r="0.7" fill="#c01020" fill-opacity="0.3"/><circle cx="544.9" cy="69.1" r="0.7" fill="#c01020" fill-opacity="0.2"/><circle cx="531.9" cy="51.1" r="0.9" fill="#c01020" fill-opacity="0.4"/><circle cx="524.8" cy="82.2" r="0.9" fill="#c01020" fill-opacity="0.2"/><circle cx="546.5" cy="70.6" r="1" fill="#c01020" fill-opacity="0.3"/><circle cx="585.9" cy="54.8" r="0.6" fill="#c01020" fill-opacity="0.2"/><circle cx="522.8" cy="87.6" r="0.9" fill="#c01020" fill-opacity="0.2"/><circle cx="571.7" cy="104.9" r="0.7" fill="#c01020" fill-opacity="0.2"/><circle cx="550.8" cy="50.6" r="1.1" fill="#f01828" fill-opacity="0.6" filter="url(#b08)"/><circle cx="559.4" cy="50.6" r="1.1" fill="#f01828" fill-opacity="0.7" filter="url(#b08)"/><circle cx="541.8" cy="56.7" r="0.9" fill="#f01828" fill-opacity="0.3" filter="url(#b08)"/><circle cx="559.4" cy="69.3" r="1.2" fill="#f01828" fill-opacity="0.7" filter="url(#b08)"/><circle cx="550.8" cy="111.5" r="1.4" fill="#f01828" fill-opacity="0.9" filter="url(#b08)"/><circle cx="571" cy="108" r="0.9" fill="#f01828" fill-opacity="0.4" filter="url(#b08)"/><circle cx="537" cy="90" r="0.8" fill="#f01828" fill-opacity="0.3" filter="url(#b08)"/><circle cx="565" cy="85" r="0.8" fill="#f01828" fill-opacity="0.3" filter="url(#b08)"/></g>
<g clip-path="url(#c8)"><rect x="512.2" y="123.5" width="82.7" height="81.2" fill="#0a0304" /><g filter="url(#ntex)" opacity="0.88"><ellipse cx="522.6" cy="134.4" rx="4.2" ry="3.4" fill="url(#nucg)" transform="rotate(30 522.6 134.4)" /><ellipse cx="546.7" cy="132.8" rx="3.9" ry="3.7" fill="url(#nucg)" /><ellipse cx="566.1" cy="127.6" rx="6.2" ry="3.6" fill="url(#nucg)" transform="rotate(-15 566.1 127.6)" /><ellipse cx="541.8" cy="152.4" rx="3.7" ry="3.8" fill="url(#nucg)" /><ellipse cx="533.2" cy="166.6" rx="3.9" ry="4.8" fill="url(#nucg)" /><ellipse cx="544.5" cy="167.5" rx="5.6" ry="5" fill="url(#nucg)" /><ellipse cx="546.7" cy="179" rx="3.9" ry="4.2" fill="url(#nucg)" /><ellipse cx="533.5" cy="188.4" rx="3.6" ry="5.2" fill="url(#nucg)" /><ellipse cx="589.2" cy="169.3" rx="5.3" ry="5.3" fill="url(#nucg)" /><ellipse cx="593" cy="203.5" rx="3" ry="2" fill="url(#nucg)" /></g></g>
<g clip-path="url(#c9)"><rect x="512.2" y="208.1" width="82.7" height="79.6" fill="#0a0304" /><g filter="url(#ntex)" opacity="0.88"><ellipse cx="522.6" cy="219" rx="4.2" ry="3.4" fill="url(#nucg)" transform="rotate(30 522.6 219)" /><ellipse cx="546.7" cy="217.4" rx="3.9" ry="3.7" fill="url(#nucg)" /><ellipse cx="566.1" cy="212.2" rx="6.2" ry="3.6" fill="url(#nucg)" transform="rotate(-15 566.1 212.2)" /><ellipse cx="541.8" cy="237" rx="3.7" ry="3.8" fill="url(#nucg)" /><ellipse cx="533.2" cy="251.2" rx="3.9" ry="4.8" fill="url(#nucg)" /><ellipse cx="544.5" cy="252.1" rx="5.6" ry="5" fill="url(#nucg)" /><ellipse cx="546.7" cy="263.6" rx="3.9" ry="4.2" fill="url(#nucg)" /><ellipse cx="533.5" cy="273" rx="3.6" ry="5.2" fill="url(#nucg)" /><ellipse cx="589.2" cy="253.9" rx="5.3" ry="5.3" fill="url(#nucg)" /><ellipse cx="593" cy="288.1" rx="3" ry="2" fill="url(#nucg)" /></g><circle cx="561.2" cy="263" r="0.6" fill="#c01020" fill-opacity="0.4"/><circle cx="559.7" cy="273.4" r="0.6" fill="#c01020" fill-opacity="0.2"/><circle cx="542.4" cy="248.6" r="0.7" fill="#c01020" fill-opacity="0.4"/><circle cx="528.6" cy="238.3" r="0.9" fill="#c01020" fill-opacity="0.3"/><circle cx="555" cy="230.6" r="0.6" fill="#c01020" fill-opacity="0.2"/><circle cx="557.6" cy="212.4" r="0.8" fill="#c01020" fill-opacity="0.4"/><circle cx="533.8" cy="225.6" r="0.8" fill="#c01020" fill-opacity="0.4"/><circle cx="554.8" cy="241.5" r="0.8" fill="#c01020" fill-opacity="0.4"/><circle cx="581.1" cy="223.8" r="0.8" fill="#c01020" fill-opacity="0.3"/><circle cx="541.6" cy="215.6" r="0.8" fill="#c01020" fill-opacity="0.3"/><circle cx="585.9" cy="273.4" r="0.6" fill="#c01020" fill-opacity="0.4"/><circle cx="541.5" cy="258.1" r="0.6" fill="#c01020" fill-opacity="0.4"/><circle cx="535.6" cy="274.2" r="0.8" fill="#c01020" fill-opacity="0.4"/><circle cx="589.7" cy="217.4" r="0.7" fill="#c01020" fill-opacity="0.4"/><circle cx="569.1" cy="235.2" r="0.7" fill="#c01020" fill-opacity="0.4"/><circle cx="563.2" cy="227.2" r="1" fill="#c01020" fill-opacity="0.3"/><circle cx="570.6" cy="234" r="0.8" fill="#c01020" fill-opacity="0.3"/><circle cx="543.1" cy="212.1" r="0.7" fill="#c01020" fill-opacity="0.3"/><circle cx="544.9" cy="238.6" r="0.7" fill="#c01020" fill-opacity="0.2"/><circle cx="531.9" cy="220.6" r="0.9" fill="#c01020" fill-opacity="0.4"/><circle cx="524.8" cy="251.7" r="0.9" fill="#c01020" fill-opacity="0.2"/><circle cx="546.5" cy="240.1" r="1" fill="#c01020" fill-opacity="0.3"/><circle cx="585.9" cy="224.3" r="0.6" fill="#c01020" fill-opacity="0.2"/><circle cx="522.8" cy="257.1" r="0.9" fill="#c01020" fill-opacity="0.2"/><circle cx="571.7" cy="274.4" r="0.7" fill="#c01020" fill-opacity="0.2"/><circle cx="550.8" cy="220.1" r="1.1" fill="#f01828" fill-opacity="0.6" filter="url(#b08)"/><circle cx="559.4" cy="220.1" r="1.1" fill="#f01828" fill-opacity="0.7" filter="url(#b08)"/><circle cx="541.8" cy="226.2" r="0.9" fill="#f01828" fill-opacity="0.3" filter="url(#b08)"/><circle cx="559.4" cy="238.8" r="1.2" fill="#f01828" fill-opacity="0.7" filter="url(#b08)"/><circle cx="550.8" cy="281" r="1.4" fill="#f01828" fill-opacity="0.9" filter="url(#b08)"/><circle cx="571" cy="277.5" r="0.9" fill="#f01828" fill-opacity="0.4" filter="url(#b08)"/><circle cx="537" cy="259.5" r="0.8" fill="#f01828" fill-opacity="0.3" filter="url(#b08)"/><circle cx="565" cy="254.5" r="0.8" fill="#f01828" fill-opacity="0.3" filter="url(#b08)"/></g>
<g clip-path="url(#c10)"><rect x="598.2" y="38.6" width="82.7" height="82.2" fill="#0a0304" /><circle cx="634.2" cy="54.2" r="0.6" fill="#c01020" fill-opacity="0.4"/><circle cx="646.4" cy="76.5" r="0.9" fill="#c01020" fill-opacity="0.4"/><circle cx="624.4" cy="56.3" r="0.7" fill="#c01020" fill-opacity="0.4"/><circle cx="653.5" cy="88.2" r="0.8" fill="#c01020" fill-opacity="0.2"/><circle cx="626.7" cy="68.5" r="0.7" fill="#c01020" fill-opacity="0.4"/><circle cx="659.6" cy="89.9" r="0.7" fill="#c01020" fill-opacity="0.3"/><circle cx="658.2" cy="87.2" r="0.5" fill="#c01020" fill-opacity="0.3"/><circle cx="646.6" cy="49.6" r="0.7" fill="#c01020" fill-opacity="0.2"/><circle cx="646.2" cy="53.6" r="0.7" fill="#c01020" fill-opacity="0.3"/><circle cx="619.8" cy="100.8" r="0.8" fill="#c01020" fill-opacity="0.2"/><circle cx="660.9" cy="47.9" r="0.9" fill="#c01020" fill-opacity="0.3"/><circle cx="647.4" cy="107.6" r="0.8" fill="#c01020" fill-opacity="0.2"/><circle cx="657.9" cy="82.3" r="0.7" fill="#c01020" fill-opacity="0.3"/><circle cx="617.6" cy="54.4" r="0.7" fill="#c01020" fill-opacity="0.3"/><circle cx="665.1" cy="52" r="0.9" fill="#c01020" fill-opacity="0.2"/><circle cx="644.5" cy="50.3" r="0.8" fill="#c01020" fill-opacity="0.2"/><circle cx="623.3" cy="110.7" r="0.6" fill="#c01020" fill-opacity="0.2"/><circle cx="602.4" cy="43.4" r="0.9" fill="#c01020" fill-opacity="0.4"/><circle cx="621" cy="114.4" r="0.5" fill="#c01020" fill-opacity="0.2"/><circle cx="653.7" cy="89" r="0.9" fill="#c01020" fill-opacity="0.3"/><circle cx="672.5" cy="80.2" r="0.9" fill="#c01020" fill-opacity="0.3"/><circle cx="617.1" cy="107.3" r="0.6" fill="#c01020" fill-opacity="0.2"/><circle cx="656.2" cy="78.8" r="0.6" fill="#c01020" fill-opacity="0.3"/><circle cx="625.5" cy="47.2" r="1" fill="#c01020" fill-opacity="0.2"/><circle cx="671" cy="115.2" r="0.9" fill="#c01020" fill-opacity="0.2"/><circle cx="604.2" cy="105.7" r="0.7" fill="#c01020" fill-opacity="0.2"/><circle cx="669.5" cy="82" r="1" fill="#c01020" fill-opacity="0.2"/><circle cx="637.5" cy="53.2" r="0.6" fill="#c01020" fill-opacity="0.4"/><circle cx="672.7" cy="105.7" r="0.8" fill="#c01020" fill-opacity="0.2"/><circle cx="645.8" cy="117" r="0.6" fill="#c01020" fill-opacity="0.3"/><circle cx="673.3" cy="116.3" r="0.6" fill="#c01020" fill-opacity="0.4"/><circle cx="675.7" cy="99.9" r="0.8" fill="#c01020" fill-opacity="0.4"/><circle cx="645.4" cy="85.7" r="0.6" fill="#c01020" fill-opacity="0.2"/><circle cx="660.4" cy="53.4" r="0.9" fill="#c01020" fill-opacity="0.4"/><circle cx="607.1" cy="113.4" r="0.7" fill="#c01020" fill-opacity="0.4"/><circle cx="621.8" cy="77.8" r="0.8" fill="#c01020" fill-opacity="0.4"/><circle cx="639" cy="82.9" r="0.5" fill="#c01020" fill-opacity="0.3"/><circle cx="670.2" cy="112.4" r="0.7" fill="#c01020" fill-opacity="0.4"/><circle cx="638.1" cy="110" r="0.6" fill="#c01020" fill-opacity="0.3"/><circle cx="663.5" cy="40.9" r="0.6" fill="#c01020" fill-opacity="0.3"/><circle cx="608.9" cy="61.4" r="0.9" fill="#c01020" fill-opacity="0.3"/><circle cx="657.2" cy="55.5" r="0.6" fill="#c01020" fill-opacity="0.3"/><circle cx="649.6" cy="73.5" r="0.7" fill="#c01020" fill-opacity="0.3"/><circle cx="658.3" cy="53.1" r="0.6" fill="#c01020" fill-opacity="0.3"/><circle cx="616.1" cy="106.4" r="0.8" fill="#c01020" fill-opacity="0.3"/><circle cx="605.3" cy="74.7" r="1.2" fill="#f01828" fill-opacity="0.6" filter="url(#b08)"/><circle cx="637.5" cy="96.8" r="1.7" fill="#f01828" fill-opacity="1" filter="url(#b08)"/><circle cx="623.3" cy="101.8" r="1.4" fill="#f01828" fill-opacity="0.8" filter="url(#b08)"/><circle cx="651" cy="79.9" r="0.9" fill="#f01828" fill-opacity="0.4" filter="url(#b08)"/><circle cx="622" cy="80" r="0.9" fill="#f01828" fill-opacity="0.3" filter="url(#b08)"/><circle cx="631" cy="110" r="0.9" fill="#f01828" fill-opacity="0.3" filter="url(#b08)"/><circle cx="615" cy="95" r="0.9" fill="#f01828" fill-opacity="0.3" filter="url(#b08)"/><circle cx="660" cy="90" r="0.9" fill="#f01828" fill-opacity="0.3" filter="url(#b08)"/><circle cx="645" cy="70" r="0.9" fill="#f01828" fill-opacity="0.3" filter="url(#b08)"/><circle cx="610" cy="105" r="0.9" fill="#f01828" fill-opacity="0.3" filter="url(#b08)"/></g>
<g clip-path="url(#c11)"><rect x="598.2" y="123.5" width="82.7" height="81.2" fill="#0a0304" /><g filter="url(#ntex)" opacity="0.88"><ellipse cx="603" cy="163.7" rx="4.8" ry="5.4" fill="url(#nucg)" /><ellipse cx="626.9" cy="163.7" rx="5" ry="4.5" fill="url(#nucg)" /><ellipse cx="643.6" cy="162.5" rx="5.6" ry="4.7" fill="url(#nucg)" /><ellipse cx="672" cy="165.9" rx="5.6" ry="6" fill="url(#nucg)" /><ellipse cx="617.9" cy="173.4" rx="5.3" ry="3.7" fill="url(#nucg)" transform="rotate(-10 617.9 173.4)" /><ellipse cx="639.8" cy="175.6" rx="6" ry="5.3" fill="url(#nucg)" /><ellipse cx="659.4" cy="173.4" rx="4.3" ry="3.9" fill="url(#nucg)" /><ellipse cx="617.9" cy="182.4" rx="3.9" ry="3.7" fill="url(#nucg)" /><ellipse cx="611.6" cy="187.8" rx="3.4" ry="2.3" fill="url(#nucg)" transform="rotate(20 611.6 187.8)" /><ellipse cx="631.4" cy="188.4" rx="5.3" ry="5.2" fill="url(#nucg)" /><ellipse cx="624" cy="187.3" rx="2" ry="2" fill="url(#nucg)" /></g></g>
<g clip-path="url(#c12)"><rect x="598.2" y="208.1" width="82.7" height="79.6" fill="#0a0304" /><g filter="url(#ntex)" opacity="0.88"><ellipse cx="603" cy="248.3" rx="4.8" ry="5.4" fill="url(#nucg)" /><ellipse cx="626.9" cy="248.3" rx="5" ry="4.5" fill="url(#nucg)" /><ellipse cx="643.6" cy="247.1" rx="5.6" ry="4.7" fill="url(#nucg)" /><ellipse cx="672" cy="250.5" rx="5.6" ry="6" fill="url(#nucg)" /><ellipse cx="617.9" cy="258" rx="5.3" ry="3.7" fill="url(#nucg)" transform="rotate(-10 617.9 258)" /><ellipse cx="639.8" cy="260.2" rx="6" ry="5.3" fill="url(#nucg)" /><ellipse cx="659.4" cy="258" rx="4.3" ry="3.9" fill="url(#nucg)" /><ellipse cx="617.9" cy="267" rx="3.9" ry="3.7" fill="url(#nucg)" /><ellipse cx="611.6" cy="272.4" rx="3.4" ry="2.3" fill="url(#nucg)" transform="rotate(20 611.6 272.4)" /><ellipse cx="631.4" cy="273" rx="5.3" ry="5.2" fill="url(#nucg)" /><ellipse cx="624" cy="271.9" rx="2" ry="2" fill="url(#nucg)" /></g><circle cx="634.2" cy="223.7" r="0.6" fill="#c01020" fill-opacity="0.4"/><circle cx="646.4" cy="246" r="0.9" fill="#c01020" fill-opacity="0.4"/><circle cx="624.4" cy="225.8" r="0.7" fill="#c01020" fill-opacity="0.4"/><circle cx="653.5" cy="257.7" r="0.8" fill="#c01020" fill-opacity="0.2"/><circle cx="626.7" cy="238" r="0.7" fill="#c01020" fill-opacity="0.4"/><circle cx="659.6" cy="259.4" r="0.7" fill="#c01020" fill-opacity="0.3"/><circle cx="658.2" cy="256.7" r="0.5" fill="#c01020" fill-opacity="0.3"/><circle cx="646.6" cy="219.1" r="0.7" fill="#c01020" fill-opacity="0.2"/><circle cx="646.2" cy="223.1" r="0.7" fill="#c01020" fill-opacity="0.3"/><circle cx="619.8" cy="270.3" r="0.8" fill="#c01020" fill-opacity="0.2"/><circle cx="660.9" cy="217.4" r="0.9" fill="#c01020" fill-opacity="0.3"/><circle cx="647.4" cy="277.1" r="0.8" fill="#c01020" fill-opacity="0.2"/><circle cx="657.9" cy="251.8" r="0.7" fill="#c01020" fill-opacity="0.3"/><circle cx="617.6" cy="223.9" r="0.7" fill="#c01020" fill-opacity="0.3"/><circle cx="665.1" cy="221.5" r="0.9" fill="#c01020" fill-opacity="0.2"/><circle cx="644.5" cy="219.8" r="0.8" fill="#c01020" fill-opacity="0.2"/><circle cx="623.3" cy="280.2" r="0.6" fill="#c01020" fill-opacity="0.2"/><circle cx="602.4" cy="212.9" r="0.9" fill="#c01020" fill-opacity="0.4"/><circle cx="621" cy="283.9" r="0.5" fill="#c01020" fill-opacity="0.2"/><circle cx="653.7" cy="258.5" r="0.9" fill="#c01020" fill-opacity="0.3"/><circle cx="672.5" cy="249.7" r="0.9" fill="#c01020" fill-opacity="0.3"/><circle cx="617.1" cy="276.8" r="0.6" fill="#c01020" fill-opacity="0.2"/><circle cx="656.2" cy="248.3" r="0.6" fill="#c01020" fill-opacity="0.3"/><circle cx="625.5" cy="216.7" r="1" fill="#c01020" fill-opacity="0.2"/><circle cx="671" cy="284.7" r="0.9" fill="#c01020" fill-opacity="0.2"/><circle cx="604.2" cy="275.2" r="0.7" fill="#c01020" fill-opacity="0.2"/><circle cx="669.5" cy="251.5" r="1" fill="#c01020" fill-opacity="0.2"/><circle cx="637.5" cy="222.7" r="0.6" fill="#c01020" fill-opacity="0.4"/><circle cx="672.7" cy="275.2" r="0.8" fill="#c01020" fill-opacity="0.2"/><circle cx="645.8" cy="286.5" r="0.6" fill="#c01020" fill-opacity="0.3"/><circle cx="673.3" cy="285.8" r="0.6" fill="#c01020" fill-opacity="0.4"/><circle cx="675.7" cy="269.4" r="0.8" fill="#c01020" fill-opacity="0.4"/><circle cx="645.4" cy="255.2" r="0.6" fill="#c01020" fill-opacity="0.2"/><circle cx="660.4" cy="222.9" r="0.9" fill="#c01020" fill-opacity="0.4"/><circle cx="607.1" cy="282.9" r="0.7" fill="#c01020" fill-opacity="0.4"/><circle cx="621.8" cy="247.3" r="0.8" fill="#c01020" fill-opacity="0.4"/><circle cx="639" cy="252.4" r="0.5" fill="#c01020" fill-opacity="0.3"/><circle cx="670.2" cy="281.9" r="0.7" fill="#c01020" fill-opacity="0.4"/><circle cx="638.1" cy="279.5" r="0.6" fill="#c01020" fill-opacity="0.3"/><circle cx="663.5" cy="210.4" r="0.6" fill="#c01020" fill-opacity="0.3"/><circle cx="608.9" cy="230.9" r="0.9" fill="#c01020" fill-opacity="0.3"/><circle cx="657.2" cy="225" r="0.6" fill="#c01020" fill-opacity="0.3"/><circle cx="649.6" cy="243" r="0.7" fill="#c01020" fill-opacity="0.3"/><circle cx="658.3" cy="222.6" r="0.6" fill="#c01020" fill-opacity="0.3"/><circle cx="616.1" cy="275.9" r="0.8" fill="#c01020" fill-opacity="0.3"/><circle cx="605.3" cy="244.2" r="1.2" fill="#f01828" fill-opacity="0.6" filter="url(#b08)"/><circle cx="637.5" cy="266.3" r="1.7" fill="#f01828" fill-opacity="1" filter="url(#b08)"/><circle cx="623.3" cy="271.3" r="1.4" fill="#f01828" fill-opacity="0.8" filter="url(#b08)"/><circle cx="651" cy="249.4" r="0.9" fill="#f01828" fill-opacity="0.4" filter="url(#b08)"/><circle cx="622" cy="249.5" r="0.9" fill="#f01828" fill-opacity="0.3" filter="url(#b08)"/><circle cx="631" cy="279.5" r="0.9" fill="#f01828" fill-opacity="0.3" filter="url(#b08)"/><circle cx="615" cy="264.5" r="0.9" fill="#f01828" fill-opacity="0.3" filter="url(#b08)"/><circle cx="660" cy="259.5" r="0.9" fill="#f01828" fill-opacity="0.3" filter="url(#b08)"/><circle cx="645" cy="239.5" r="0.9" fill="#f01828" fill-opacity="0.3" filter="url(#b08)"/><circle cx="610" cy="274.5" r="0.9" fill="#f01828" fill-opacity="0.3" filter="url(#b08)"/></g>
<g clip-path="url(#c13)"><rect x="683.8" y="38.6" width="82.7" height="82.2" fill="#0a0304" /><circle cx="697.4" cy="58.5" r="0.9" fill="#c01020" fill-opacity="0.2"/><circle cx="700.4" cy="101" r="0.7" fill="#c01020" fill-opacity="0.4"/><circle cx="724" cy="91.5" r="0.8" fill="#c01020" fill-opacity="0.2"/><circle cx="711.6" cy="104.7" r="0.7" fill="#c01020" fill-opacity="0.2"/><circle cx="718.7" cy="113.4" r="0.6" fill="#c01020" fill-opacity="0.4"/><circle cx="695.5" cy="92.9" r="0.9" fill="#c01020" fill-opacity="0.3"/><circle cx="746.5" cy="113.7" r="0.7" fill="#c01020" fill-opacity="0.2"/><circle cx="702.5" cy="57.3" r="0.8" fill="#c01020" fill-opacity="0.2"/><circle cx="687.6" cy="49.4" r="0.6" fill="#c01020" fill-opacity="0.2"/><circle cx="736.3" cy="88.1" r="1" fill="#c01020" fill-opacity="0.2"/><circle cx="734.2" cy="91.8" r="0.7" fill="#c01020" fill-opacity="0.2"/><circle cx="741.3" cy="107.5" r="0.7" fill="#c01020" fill-opacity="0.2"/><circle cx="708.8" cy="101.5" r="0.7" fill="#c01020" fill-opacity="0.2"/><circle cx="695.2" cy="69.3" r="0.7" fill="#c01020" fill-opacity="0.2"/><circle cx="741.9" cy="51.1" r="0.8" fill="#c01020" fill-opacity="0.3"/><circle cx="740.7" cy="104.7" r="0.7" fill="#c01020" fill-opacity="0.3"/><circle cx="756.3" cy="81.4" r="1" fill="#c01020" fill-opacity="0.2"/><circle cx="711.2" cy="115.9" r="0.8" fill="#c01020" fill-opacity="0.2"/><circle cx="701.1" cy="85.1" r="0.9" fill="#c01020" fill-opacity="0.3"/><circle cx="745" cy="61.9" r="0.8" fill="#c01020" fill-opacity="0.4"/><circle cx="750.8" cy="62.2" r="0.6" fill="#c01020" fill-opacity="0.2"/><circle cx="702.4" cy="64.1" r="0.5" fill="#c01020" fill-opacity="0.4"/><circle cx="707" cy="116.8" r="0.9" fill="#c01020" fill-opacity="0.2"/><circle cx="702.6" cy="110.2" r="0.7" fill="#c01020" fill-opacity="0.4"/><circle cx="697.7" cy="94" r="0.6" fill="#c01020" fill-opacity="0.4"/><circle cx="703.2" cy="109.8" r="0.6" fill="#c01020" fill-opacity="0.2"/><circle cx="693.9" cy="87.1" r="0.9" fill="#c01020" fill-opacity="0.2"/><circle cx="697.7" cy="51.9" r="0.7" fill="#c01020" fill-opacity="0.2"/><circle cx="734.5" cy="41.4" r="0.5" fill="#c01020" fill-opacity="0.3"/><circle cx="730.1" cy="111.8" r="1" fill="#c01020" fill-opacity="0.4"/><circle cx="731.9" cy="61.1" r="0.7" fill="#c01020" fill-opacity="0.3"/><circle cx="742.8" cy="90.1" r="0.9" fill="#c01020" fill-opacity="0.4"/><circle cx="755.2" cy="63.2" r="0.9" fill="#c01020" fill-opacity="0.3"/><circle cx="740.5" cy="112.5" r="0.6" fill="#c01020" fill-opacity="0.4"/><circle cx="727.5" cy="79.7" r="0.6" fill="#c01020" fill-opacity="0.2"/><circle cx="710.5" cy="83" r="0.8" fill="#c01020" fill-opacity="0.2"/><circle cx="697.6" cy="53.1" r="0.6" fill="#c01020" fill-opacity="0.2"/><circle cx="736" cy="70.7" r="0.6" fill="#c01020" fill-opacity="0.4"/><circle cx="736.1" cy="89.9" r="1" fill="#c01020" fill-opacity="0.4"/><circle cx="692.1" cy="53.5" r="0.7" fill="#c01020" fill-opacity="0.3"/><circle cx="729.2" cy="44.3" r="0.8" fill="#c01020" fill-opacity="0.4"/><circle cx="755.8" cy="90.6" r="0.7" fill="#c01020" fill-opacity="0.4"/><circle cx="735.7" cy="46.2" r="0.5" fill="#c01020" fill-opacity="0.4"/><circle cx="708.3" cy="58.7" r="0.9" fill="#c01020" fill-opacity="0.3"/><circle cx="692.5" cy="83.5" r="1" fill="#c01020" fill-opacity="0.3"/><circle cx="719.7" cy="60.2" r="0.7" fill="#c01020" fill-opacity="0.3"/><circle cx="714.8" cy="76.9" r="0.8" fill="#c01020" fill-opacity="0.3"/><circle cx="702.3" cy="65.9" r="0.7" fill="#c01020" fill-opacity="0.3"/><circle cx="697.9" cy="96.2" r="1" fill="#c01020" fill-opacity="0.2"/><circle cx="715.5" cy="117.7" r="0.9" fill="#c01020" fill-opacity="0.4"/><circle cx="711.2" cy="69.1" r="0.6" fill="#c01020" fill-opacity="0.2"/><circle cx="738.7" cy="103.5" r="0.9" fill="#c01020" fill-opacity="0.4"/><circle cx="730.2" cy="115.4" r="1" fill="#c01020" fill-opacity="0.4"/><circle cx="721.8" cy="114.1" r="1" fill="#c01020" fill-opacity="0.2"/><circle cx="735.1" cy="95" r="0.6" fill="#c01020" fill-opacity="0.3"/><circle cx="729.8" cy="49.3" r="0.7" fill="#c01020" fill-opacity="0.2"/><circle cx="704.9" cy="98.3" r="0.5" fill="#c01020" fill-opacity="0.2"/><circle cx="735.6" cy="62.6" r="1" fill="#c01020" fill-opacity="0.2"/><circle cx="738.9" cy="73.1" r="0.7" fill="#c01020" fill-opacity="0.4"/><circle cx="724.2" cy="98.5" r="0.9" fill="#c01020" fill-opacity="0.2"/><circle cx="741.6" cy="102.8" r="0.5" fill="#c01020" fill-opacity="0.2"/><circle cx="692.8" cy="44.4" r="0.7" fill="#c01020" fill-opacity="0.2"/><circle cx="695.9" cy="67" r="0.9" fill="#c01020" fill-opacity="0.2"/><circle cx="691.2" cy="89.5" r="0.8" fill="#c01020" fill-opacity="0.2"/><circle cx="743.3" cy="45.6" r="0.9" fill="#c01020" fill-opacity="0.4"/><circle cx="693.2" cy="102.4" r="0.7" fill="#c01020" fill-opacity="0.3"/><circle cx="761.4" cy="50.9" r="0.7" fill="#c01020" fill-opacity="0.2"/><circle cx="739.4" cy="42.9" r="0.9" fill="#c01020" fill-opacity="0.4"/><circle cx="705.2" cy="107.9" r="0.9" fill="#c01020" fill-opacity="0.2"/><circle cx="691.8" cy="61.4" r="0.7" fill="#c01020" fill-opacity="0.2"/><circle cx="695.7" cy="66.6" r="2.5" fill="#f01828" fill-opacity="1" filter="url(#b08)"/><circle cx="687.3" cy="73.6" r="1.7" fill="#f01828" fill-opacity="0.8" filter="url(#b08)"/><circle cx="696.3" cy="72" r="1.4" fill="#f01828" fill-opacity="0.8" filter="url(#b08)"/><circle cx="720.1" cy="80.8" r="1.9" fill="#f01828" fill-opacity="1" filter="url(#b08)"/><circle cx="706" cy="81.7" r="1.4" fill="#f01828" fill-opacity="0.7" filter="url(#b08)"/><circle cx="731.7" cy="59.8" r="1.5" fill="#f01828" fill-opacity="0.7" filter="url(#b08)"/><circle cx="747.1" cy="48.2" r="1.3" fill="#f01828" fill-opacity="0.6" filter="url(#b08)"/><circle cx="746.5" cy="69.7" r="1.5" fill="#f01828" fill-opacity="0.7" filter="url(#b08)"/><circle cx="758.1" cy="56" r="1.4" fill="#f01828" fill-opacity="0.6" filter="url(#b08)"/><circle cx="708.5" cy="52.7" r="1.2" fill="#f01828" fill-opacity="0.5" filter="url(#b08)"/><circle cx="700.8" cy="52.7" r="1.2" fill="#f01828" fill-opacity="0.5" filter="url(#b08)"/><circle cx="715.6" cy="93.9" r="1.4" fill="#f01828" fill-opacity="0.6" filter="url(#b08)"/><circle cx="728.5" cy="88.1" r="1.2" fill="#f01828" fill-opacity="0.5" filter="url(#b08)"/><circle cx="746.5" cy="79.8" r="1.2" fill="#f01828" fill-opacity="0.5" filter="url(#b08)"/><circle cx="699.5" cy="116.4" r="1.2" fill="#f01828" fill-opacity="0.5" filter="url(#b08)"/><circle cx="754.2" cy="60.5" r="1.1" fill="#f01828" fill-opacity="0.5" filter="url(#b08)"/><circle cx="763.2" cy="108" r="1.2" fill="#f01828" fill-opacity="0.5" filter="url(#b08)"/><circle cx="733" cy="63" r="1" fill="#f01828" fill-opacity="0.5" filter="url(#b08)"/><circle cx="690" cy="100" r="0.9" fill="#f01828" fill-opacity="0.4" filter="url(#b08)"/><circle cx="740" cy="100" r="0.9" fill="#f01828" fill-opacity="0.4" filter="url(#b08)"/><circle cx="725" cy="110" r="0.9" fill="#f01828" fill-opacity="0.3" filter="url(#b08)"/><circle cx="712" cy="64" r="0.9" fill="#f01828" fill-opacity="0.4" filter="url(#b08)"/></g>
<g clip-path="url(#c14)"><rect x="683.8" y="123.5" width="82.7" height="81.2" fill="#0a0304" /><g filter="url(#ntex)" opacity="0.88"><ellipse cx="709.8" cy="128.7" rx="7.7" ry="4.2" fill="url(#nucg)" transform="rotate(-5 709.8 128.7)" /><ellipse cx="702.1" cy="137.2" rx="4.8" ry="2.4" fill="url(#nucg)" /><ellipse cx="690.9" cy="153.1" rx="4.2" ry="4.2" fill="url(#nucg)" /><ellipse cx="701.7" cy="171.2" rx="4.8" ry="6.1" fill="url(#nucg)" transform="rotate(10 701.7 171.2)" /><ellipse cx="688.3" cy="177.6" rx="4.2" ry="3.2" fill="url(#nucg)" /><ellipse cx="692.7" cy="185.7" rx="6.4" ry="3.9" fill="url(#nucg)" transform="rotate(-15 692.7 185.7)" /><ellipse cx="701.2" cy="194.7" rx="4.2" ry="4.5" fill="url(#nucg)" transform="rotate(15 701.2 194.7)" /><ellipse cx="721.1" cy="174.8" rx="5.1" ry="3.9" fill="url(#nucg)" transform="rotate(-25 721.1 174.8)" /><ellipse cx="740.1" cy="147.7" rx="6.4" ry="5.1" fill="url(#nucg)" transform="rotate(35 740.1 147.7)" /><ellipse cx="735.2" cy="154.8" rx="4.2" ry="3.9" fill="url(#nucg)" /><ellipse cx="747.8" cy="135.9" rx="2.7" ry="2.7" fill="url(#nucg)" /><ellipse cx="756.5" cy="135.5" rx="3" ry="3.3" fill="url(#nucg)" /><ellipse cx="751.4" cy="145.2" rx="3.4" ry="2.6" fill="url(#nucg)" /><ellipse cx="759.4" cy="162.2" rx="4.8" ry="2.3" fill="url(#nucg)" /><ellipse cx="761.3" cy="184.8" rx="5.1" ry="6.1" fill="url(#nucg)" transform="rotate(10 761.3 184.8)" /><ellipse cx="765.5" cy="199.2" rx="2" ry="3" fill="url(#nucg)" /></g></g>
<g clip-path="url(#c15)"><rect x="683.8" y="208.1" width="82.7" height="79.6" fill="#0a0304" /><g filter="url(#ntex)" opacity="0.88"><ellipse cx="709.8" cy="213.3" rx="7.7" ry="4.2" fill="url(#nucg)" transform="rotate(-5 709.8 213.3)" /><ellipse cx="702.1" cy="221.8" rx="4.8" ry="2.4" fill="url(#nucg)" /><ellipse cx="690.9" cy="237.7" rx="4.2" ry="4.2" fill="url(#nucg)" /><ellipse cx="701.7" cy="255.8" rx="4.8" ry="6.1" fill="url(#nucg)" transform="rotate(10 701.7 255.8)" /><ellipse cx="688.3" cy="262.2" rx="4.2" ry="3.2" fill="url(#nucg)" /><ellipse cx="692.7" cy="270.3" rx="6.4" ry="3.9" fill="url(#nucg)" transform="rotate(-15 692.7 270.3)" /><ellipse cx="701.2" cy="279.3" rx="4.2" ry="4.5" fill="url(#nucg)" transform="rotate(15 701.2 279.3)" /><ellipse cx="721.1" cy="259.4" rx="5.1" ry="3.9" fill="url(#nucg)" transform="rotate(-25 721.1 259.4)" /><ellipse cx="740.1" cy="232.3" rx="6.4" ry="5.1" fill="url(#nucg)" transform="rotate(35 740.1 232.3)" /><ellipse cx="735.2" cy="239.4" rx="4.2" ry="3.9" fill="url(#nucg)" /><ellipse cx="747.8" cy="220.5" rx="2.7" ry="2.7" fill="url(#nucg)" /><ellipse cx="756.5" cy="220.1" rx="3" ry="3.3" fill="url(#nucg)" /><ellipse cx="751.4" cy="229.8" rx="3.4" ry="2.6" fill="url(#nucg)" /><ellipse cx="759.4" cy="246.8" rx="4.8" ry="2.3" fill="url(#nucg)" /><ellipse cx="761.3" cy="269.4" rx="5.1" ry="6.1" fill="url(#nucg)" transform="rotate(10 761.3 269.4)" /><ellipse cx="765.5" cy="283.8" rx="2" ry="3" fill="url(#nucg)" /></g><circle cx="697.4" cy="228" r="0.9" fill="#c01020" fill-opacity="0.2"/><circle cx="700.4" cy="270.5" r="0.7" fill="#c01020" fill-opacity="0.4"/><circle cx="724" cy="261" r="0.8" fill="#c01020" fill-opacity="0.2"/><circle cx="711.6" cy="274.2" r="0.7" fill="#c01020" fill-opacity="0.2"/><circle cx="718.7" cy="282.9" r="0.6" fill="#c01020" fill-opacity="0.4"/><circle cx="695.5" cy="262.4" r="0.9" fill="#c01020" fill-opacity="0.3"/><circle cx="746.5" cy="283.2" r="0.7" fill="#c01020" fill-opacity="0.2"/><circle cx="702.5" cy="226.8" r="0.8" fill="#c01020" fill-opacity="0.2"/><circle cx="687.6" cy="218.9" r="0.6" fill="#c01020" fill-opacity="0.2"/><circle cx="736.3" cy="257.6" r="1" fill="#c01020" fill-opacity="0.2"/><circle cx="734.2" cy="261.3" r="0.7" fill="#c01020" fill-opacity="0.2"/><circle cx="741.3" cy="277" r="0.7" fill="#c01020" fill-opacity="0.2"/><circle cx="708.8" cy="271" r="0.7" fill="#c01020" fill-opacity="0.2"/><circle cx="695.2" cy="238.8" r="0.7" fill="#c01020" fill-opacity="0.2"/><circle cx="741.9" cy="220.6" r="0.8" fill="#c01020" fill-opacity="0.3"/><circle cx="740.7" cy="274.2" r="0.7" fill="#c01020" fill-opacity="0.3"/><circle cx="756.3" cy="250.9" r="1" fill="#c01020" fill-opacity="0.2"/><circle cx="711.2" cy="285.4" r="0.8" fill="#c01020" fill-opacity="0.2"/><circle cx="701.1" cy="254.6" r="0.9" fill="#c01020" fill-opacity="0.3"/><circle cx="745" cy="231.4" r="0.8" fill="#c01020" fill-opacity="0.4"/><circle cx="750.8" cy="231.7" r="0.6" fill="#c01020" fill-opacity="0.2"/><circle cx="702.4" cy="233.6" r="0.5" fill="#c01020" fill-opacity="0.4"/><circle cx="707" cy="286.3" r="0.9" fill="#c01020" fill-opacity="0.2"/><circle cx="702.6" cy="279.7" r="0.7" fill="#c01020" fill-opacity="0.4"/><circle cx="697.7" cy="263.5" r="0.6" fill="#c01020" fill-opacity="0.4"/><circle cx="703.2" cy="279.3" r="0.6" fill="#c01020" fill-opacity="0.2"/><circle cx="693.9" cy="256.6" r="0.9" fill="#c01020" fill-opacity="0.2"/><circle cx="697.7" cy="221.4" r="0.7" fill="#c01020" fill-opacity="0.2"/><circle cx="734.5" cy="210.9" r="0.5" fill="#c01020" fill-opacity="0.3"/><circle cx="730.1" cy="281.3" r="1" fill="#c01020" fill-opacity="0.4"/><circle cx="731.9" cy="230.6" r="0.7" fill="#c01020" fill-opacity="0.3"/><circle cx="742.8" cy="259.6" r="0.9" fill="#c01020" fill-opacity="0.4"/><circle cx="755.2" cy="232.7" r="0.9" fill="#c01020" fill-opacity="0.3"/><circle cx="740.5" cy="282" r="0.6" fill="#c01020" fill-opacity="0.4"/><circle cx="727.5" cy="249.2" r="0.6" fill="#c01020" fill-opacity="0.2"/><circle cx="710.5" cy="252.5" r="0.8" fill="#c01020" fill-opacity="0.2"/><circle cx="697.6" cy="222.6" r="0.6" fill="#c01020" fill-opacity="0.2"/><circle cx="736" cy="240.2" r="0.6" fill="#c01020" fill-opacity="0.4"/><circle cx="736.1" cy="259.4" r="1" fill="#c01020" fill-opacity="0.4"/><circle cx="692.1" cy="223" r="0.7" fill="#c01020" fill-opacity="0.3"/><circle cx="729.2" cy="213.8" r="0.8" fill="#c01020" fill-opacity="0.4"/><circle cx="755.8" cy="260.1" r="0.7" fill="#c01020" fill-opacity="0.4"/><circle cx="735.7" cy="215.7" r="0.5" fill="#c01020" fill-opacity="0.4"/><circle cx="708.3" cy="228.2" r="0.9" fill="#c01020" fill-opacity="0.3"/><circle cx="692.5" cy="253" r="1" fill="#c01020" fill-opacity="0.3"/><circle cx="719.7" cy="229.7" r="0.7" fill="#c01020" fill-opacity="0.3"/><circle cx="714.8" cy="246.4" r="0.8" fill="#c01020" fill-opacity="0.3"/><circle cx="702.3" cy="235.4" r="0.7" fill="#c01020" fill-opacity="0.3"/><circle cx="697.9" cy="265.7" r="1" fill="#c01020" fill-opacity="0.2"/><circle cx="715.5" cy="287.2" r="0.9" fill="#c01020" fill-opacity="0.4"/><circle cx="711.2" cy="238.6" r="0.6" fill="#c01020" fill-opacity="0.2"/><circle cx="738.7" cy="273" r="0.9" fill="#c01020" fill-opacity="0.4"/><circle cx="730.2" cy="284.9" r="1" fill="#c01020" fill-opacity="0.4"/><circle cx="721.8" cy="283.6" r="1" fill="#c01020" fill-opacity="0.2"/><circle cx="735.1" cy="264.5" r="0.6" fill="#c01020" fill-opacity="0.3"/><circle cx="729.8" cy="218.8" r="0.7" fill="#c01020" fill-opacity="0.2"/><circle cx="704.9" cy="267.8" r="0.5" fill="#c01020" fill-opacity="0.2"/><circle cx="735.6" cy="232.1" r="1" fill="#c01020" fill-opacity="0.2"/><circle cx="738.9" cy="242.6" r="0.7" fill="#c01020" fill-opacity="0.4"/><circle cx="724.2" cy="268" r="0.9" fill="#c01020" fill-opacity="0.2"/><circle cx="741.6" cy="272.3" r="0.5" fill="#c01020" fill-opacity="0.2"/><circle cx="692.8" cy="213.9" r="0.7" fill="#c01020" fill-opacity="0.2"/><circle cx="695.9" cy="236.5" r="0.9" fill="#c01020" fill-opacity="0.2"/><circle cx="691.2" cy="259" r="0.8" fill="#c01020" fill-opacity="0.2"/><circle cx="743.3" cy="215.1" r="0.9" fill="#c01020" fill-opacity="0.4"/><circle cx="693.2" cy="271.9" r="0.7" fill="#c01020" fill-opacity="0.3"/><circle cx="761.4" cy="220.4" r="0.7" fill="#c01020" fill-opacity="0.2"/><circle cx="739.4" cy="212.4" r="0.9" fill="#c01020" fill-opacity="0.4"/><circle cx="705.2" cy="277.4" r="0.9" fill="#c01020" fill-opacity="0.2"/><circle cx="691.8" cy="230.9" r="0.7" fill="#c01020" fill-opacity="0.2"/><circle cx="695.7" cy="236.1" r="2.5" fill="#f01828" fill-opacity="1" filter="url(#b08)"/><circle cx="687.3" cy="243.1" r="1.7" fill="#f01828" fill-opacity="0.8" filter="url(#b08)"/><circle cx="696.3" cy="241.5" r="1.4" fill="#f01828" fill-opacity="0.8" filter="url(#b08)"/><circle cx="720.1" cy="250.3" r="1.9" fill="#f01828" fill-opacity="1" filter="url(#b08)"/><circle cx="706" cy="251.2" r="1.4" fill="#f01828" fill-opacity="0.7" filter="url(#b08)"/><circle cx="731.7" cy="229.3" r="1.5" fill="#f01828" fill-opacity="0.7" filter="url(#b08)"/><circle cx="747.1" cy="217.7" r="1.3" fill="#f01828" fill-opacity="0.6" filter="url(#b08)"/><circle cx="746.5" cy="239.2" r="1.5" fill="#f01828" fill-opacity="0.7" filter="url(#b08)"/><circle cx="758.1" cy="225.5" r="1.4" fill="#f01828" fill-opacity="0.6" filter="url(#b08)"/><circle cx="708.5" cy="222.2" r="1.2" fill="#f01828" fill-opacity="0.5" filter="url(#b08)"/><circle cx="700.8" cy="222.2" r="1.2" fill="#f01828" fill-opacity="0.5" filter="url(#b08)"/><circle cx="715.6" cy="263.4" r="1.4" fill="#f01828" fill-opacity="0.6" filter="url(#b08)"/><circle cx="728.5" cy="257.6" r="1.2" fill="#f01828" fill-opacity="0.5" filter="url(#b08)"/><circle cx="746.5" cy="249.3" r="1.2" fill="#f01828" fill-opacity="0.5" filter="url(#b08)"/><circle cx="699.5" cy="285.9" r="1.2" fill="#f01828" fill-opacity="0.5" filter="url(#b08)"/><circle cx="754.2" cy="230" r="1.1" fill="#f01828" fill-opacity="0.5" filter="url(#b08)"/><circle cx="763.2" cy="277.5" r="1.2" fill="#f01828" fill-opacity="0.5" filter="url(#b08)"/><circle cx="733" cy="232.5" r="1" fill="#f01828" fill-opacity="0.5" filter="url(#b08)"/><circle cx="690" cy="269.5" r="0.9" fill="#f01828" fill-opacity="0.4" filter="url(#b08)"/><circle cx="740" cy="269.5" r="0.9" fill="#f01828" fill-opacity="0.4" filter="url(#b08)"/><circle cx="725" cy="279.5" r="0.9" fill="#f01828" fill-opacity="0.3" filter="url(#b08)"/><circle cx="712" cy="233.5" r="0.9" fill="#f01828" fill-opacity="0.4" filter="url(#b08)"/></g>
<text x="343.9" y="50.4" font-size="10" fill="#d8232c" text-anchor="start" font-weight="bold" >Cy5.5</text>
<text x="344.1" y="133.4" font-size="10" fill="#2c48c0" text-anchor="start" font-weight="bold" >DAPI</text>
<text x="343.2" y="219.3" font-size="10.2" fill="#e6e232" text-anchor="start" font-weight="bold" >Merge</text>
<line x1="736.2" y1="273.7" x2="764.9" y2="273.7" stroke="#fff" stroke-width="1.4"/>
<text x="750.3" y="285.3" font-size="10.5" fill="#fff" text-anchor="middle" font-weight="bold" >10μm</text>
<rect x="1.3" y="326.7" width="23.8" height="191" fill="#a6a6a6" />
<text x="11.8" y="420.3" font-size="15.5" font-weight="bold" fill="#1a1a1a" stroke="#1a1a1a" stroke-width="0.3" text-anchor="middle" dominant-baseline="central" transform="rotate(-90 11.8 420.3)">CAST</text>
<text x="4" y="319.3" font-size="22" fill="#000" text-anchor="start" font-weight="bold" stroke="#000" stroke-width="0.3" >C</text>
<path d="M32.2,393.6 L134,393.6 L134,393.6 L134.5,393.4 L135,393.2 L135.5,392.9 L136,392.7 L136.5,390.5 L137,387.9 L137.5,385.5 L138,383.6 L138.5,380.7 L139,378.7 L139.5,377.8 L140,375.7 L140.5,372 L141,369 L141.5,367.1 L142,364.8 L142.5,362 L143,358.4 L143.5,355.1 L144,352.2 L144.5,348.2 L145,344.9 L145.5,342.3 L146,344.4 L146.5,346.8 L147,345.6 L147.5,344.1 L148,343.6 L148.5,344.2 L149,345.4 L149.5,345.1 L150,344.6 L150.5,345.6 L151,347 L151.5,348.6 L152,350.4 L152.5,351.1 L153,351.7 L153.5,354 L154,357.3 L154.5,360.1 L155,361.3 L155.5,361.7 L156,363.7 L156.5,366 L157,366.3 L157.5,366.3 L158,367.9 L158.5,369.4 L159,370.6 L159.5,372.3 L160,373.7 L160.5,374.2 L161,374.4 L161.5,374.7 L162,375.1 L162.5,376.2 L163,377.3 L163.5,378.5 L164,379.6 L164.5,379.8 L165,380.7 L165.5,382 L166,382.6 L166.5,382.9 L167,382.7 L167.5,382.6 L168,383.9 L168.5,386.6 L169,387.8 L169.5,387.6 L170,387.3 L170.5,387.5 L171,388.6 L171.5,389.7 L172,389.7 L172.5,389.5 L173,389.8 L173.5,390.1 L174,390.6 L174.5,390.9 L175,391.1 L175.5,391.3 L176,391.7 L176.5,392 L177,392.3 L177.5,392.4 L178,392.4 L178.5,392.4 L179,392.5 L179.5,392.7 L180,392.8 L180.5,392.9 L181,392.9 L181.5,393 L182,393.1 L182.5,393.2 L183,393.2 L183.5,393.3 L184,393.4 L184.5,393.5 L185,393.6 L221.8,393.6 Z" fill="#537139" fill-opacity="0.6" stroke="none"/>
<line x1="32.2" y1="393.6" x2="221.8" y2="393.6" stroke="#456332" stroke-width="1" stroke-opacity="0.45"/>
<path d="M134,393.6 L134.5,393.4 L135,393.2 L135.5,392.9 L136,392.7 L136.5,390.5 L137,387.9 L137.5,385.5 L138,383.6 L138.5,380.7 L139,378.7 L139.5,377.8 L140,375.7 L140.5,372 L141,369 L141.5,367.1 L142,364.8 L142.5,362 L143,358.4 L143.5,355.1 L144,352.2 L144.5,348.2 L145,344.9 L145.5,342.3 L146,344.4 L146.5,346.8 L147,345.6 L147.5,344.1 L148,343.6 L148.5,344.2 L149,345.4 L149.5,345.1 L150,344.6 L150.5,345.6 L151,347 L151.5,348.6 L152,350.4 L152.5,351.1 L153,351.7 L153.5,354 L154,357.3 L154.5,360.1 L155,361.3 L155.5,361.7 L156,363.7 L156.5,366 L157,366.3 L157.5,366.3 L158,367.9 L158.5,369.4 L159,370.6 L159.5,372.3 L160,373.7 L160.5,374.2 L161,374.4 L161.5,374.7 L162,375.1 L162.5,376.2 L163,377.3 L163.5,378.5 L164,379.6 L164.5,379.8 L165,380.7 L165.5,382 L166,382.6 L166.5,382.9 L167,382.7 L167.5,382.6 L168,383.9 L168.5,386.6 L169,387.8 L169.5,387.6 L170,387.3 L170.5,387.5 L171,388.6 L171.5,389.7 L172,389.7 L172.5,389.5 L173,389.8 L173.5,390.1 L174,390.6 L174.5,390.9 L175,391.1 L175.5,391.3 L176,391.7 L176.5,392 L177,392.3 L177.5,392.4 L178,392.4 L178.5,392.4 L179,392.5 L179.5,392.7 L180,392.8 L180.5,392.9 L181,392.9 L181.5,393 L182,393.1 L182.5,393.2 L183,393.2 L183.5,393.3 L184,393.4 L184.5,393.5 L185,393.6" fill="none" stroke="#456332" stroke-width="0.9" stroke-opacity="0.9"/>
<path d="M32.2,425.3 L124,425.3 L124,425.3 L124.5,425.2 L125,425.1 L125.5,425 L126,425 L126.5,424.9 L127,424.7 L127.5,424.4 L128,424.2 L128.5,423.8 L129,423.1 L129.5,422.5 L130,422.5 L130.5,422.5 L131,422.1 L131.5,421.7 L132,421.2 L132.5,420.7 L133,420.7 L133.5,420.6 L134,420 L134.5,419.2 L135,418.5 L135.5,418.2 L136,417.5 L136.5,416.8 L137,416.6 L137.5,416.6 L138,415.8 L138.5,414.3 L139,411.5 L139.5,409.9 L140,410 L140.5,408.2 L141,405.2 L141.5,403.2 L142,402 L142.5,400.4 L143,397.5 L143.5,394.6 L144,392 L144.5,390 L145,387.8 L145.5,383.7 L146,380.7 L146.5,380.3 L147,378.9 L147.5,377.8 L148,376.9 L148.5,375.9 L149,375.2 L149.5,375.6 L150,375.8 L150.5,375.4 L151,374.7 L151.5,374.7 L152,375.5 L152.5,375.6 L153,376.4 L153.5,377.9 L154,377.8 L154.5,377.3 L155,377.3 L155.5,380.3 L156,383.7 L156.5,385.8 L157,388.3 L157.5,390.5 L158,391.2 L158.5,392.9 L159,395.3 L159.5,397.2 L160,399.4 L160.5,401.6 L161,402.5 L161.5,403.8 L162,406.2 L162.5,406.9 L163,407.6 L163.5,409.4 L164,409.8 L164.5,409.5 L165,409.5 L165.5,410.2 L166,412.5 L166.5,413.6 L167,412.7 L167.5,413 L168,414.5 L168.5,415 L169,415.1 L169.5,415.7 L170,416 L170.5,416.9 L171,418.1 L171.5,417.9 L172,418 L172.5,418.4 L173,419 L173.5,419.8 L174,419.5 L174.5,419.7 L175,420.4 L175.5,420.5 L176,420.3 L176.5,419.8 L177,420.2 L177.5,421.2 L178,421.9 L178.5,422.3 L179,422.5 L179.5,422.8 L180,423.1 L180.5,423.2 L181,423.3 L181.5,423.4 L182,423.6 L182.5,423.6 L183,423.6 L183.5,424 L184,424.2 L184.5,424.3 L185,424.4 L185.5,424.5 L186,424.6 L186.5,424.8 L187,425 L187.5,425.2 L188,425.3 L221.8,425.3 Z" fill="#7bbe46" fill-opacity="0.6" stroke="none"/>
<line x1="32.2" y1="425.3" x2="221.8" y2="425.3" stroke="#72b83e" stroke-width="1" stroke-opacity="0.45"/>
<path d="M124,425.3 L124.5,425.2 L125,425.1 L125.5,425 L126,425 L126.5,424.9 L127,424.7 L127.5,424.4 L128,424.2 L128.5,423.8 L129,423.1 L129.5,422.5 L130,422.5 L130.5,422.5 L131,422.1 L131.5,421.7 L132,421.2 L132.5,420.7 L133,420.7 L133.5,420.6 L134,420 L134.5,419.2 L135,418.5 L135.5,418.2 L136,417.5 L136.5,416.8 L137,416.6 L137.5,416.6 L138,415.8 L138.5,414.3 L139,411.5 L139.5,409.9 L140,410 L140.5,408.2 L141,405.2 L141.5,403.2 L142,402 L142.5,400.4 L143,397.5 L143.5,394.6 L144,392 L144.5,390 L145,387.8 L145.5,383.7 L146,380.7 L146.5,380.3 L147,378.9 L147.5,377.8 L148,376.9 L148.5,375.9 L149,375.2 L149.5,375.6 L150,375.8 L150.5,375.4 L151,374.7 L151.5,374.7 L152,375.5 L152.5,375.6 L153,376.4 L153.5,377.9 L154,377.8 L154.5,377.3 L155,377.3 L155.5,380.3 L156,383.7 L156.5,385.8 L157,388.3 L157.5,390.5 L158,391.2 L158.5,392.9 L159,395.3 L159.5,397.2 L160,399.4 L160.5,401.6 L161,402.5 L161.5,403.8 L162,406.2 L162.5,406.9 L163,407.6 L163.5,409.4 L164,409.8 L164.5,409.5 L165,409.5 L165.5,410.2 L166,412.5 L166.5,413.6 L167,412.7 L167.5,413 L168,414.5 L168.5,415 L169,415.1 L169.5,415.7 L170,416 L170.5,416.9 L171,418.1 L171.5,417.9 L172,418 L172.5,418.4 L173,419 L173.5,419.8 L174,419.5 L174.5,419.7 L175,420.4 L175.5,420.5 L176,420.3 L176.5,419.8 L177,420.2 L177.5,421.2 L178,421.9 L178.5,422.3 L179,422.5 L179.5,422.8 L180,423.1 L180.5,423.2 L181,423.3 L181.5,423.4 L182,423.6 L182.5,423.6 L183,423.6 L183.5,424 L184,424.2 L184.5,424.3 L185,424.4 L185.5,424.5 L186,424.6 L186.5,424.8 L187,425 L187.5,425.2 L188,425.3" fill="none" stroke="#72b83e" stroke-width="0.9" stroke-opacity="0.9"/>
<path d="M32.2,456 L124,456 L124,456 L124.5,455.9 L125,455.8 L125.5,455.7 L126,455.6 L126.5,455.4 L127,455.3 L127.5,455.2 L128,455 L128.5,454.8 L129,454.5 L129.5,454 L130,453.4 L130.5,453.1 L131,453.1 L131.5,453.1 L132,453 L132.5,452.7 L133,452.1 L133.5,451.8 L134,451.5 L134.5,450.2 L135,448.9 L135.5,448.8 L136,449.1 L136.5,448.4 L137,447.1 L137.5,446.8 L138,446.7 L138.5,445.2 L139,442.8 L139.5,441.7 L140,442.4 L140.5,442.2 L141,441.7 L141.5,441.5 L142,440 L142.5,437 L143,434.3 L143.5,433.3 L144,432.4 L144.5,429.9 L145,428.7 L145.5,427.2 L146,424.3 L146.5,421.5 L147,418.9 L147.5,417.6 L148,416.8 L148.5,414.2 L149,411 L149.5,409.8 L150,408.9 L150.5,407.9 L151,407.9 L151.5,408.7 L152,409 L152.5,409.6 L153,409.9 L153.5,409.8 L154,408.4 L154.5,408.2 L155,409 L155.5,410.5 L156,412.8 L156.5,414.6 L157,416.2 L157.5,419.1 L158,420.3 L158.5,422.3 L159,425.7 L159.5,427.8 L160,429.1 L160.5,430.5 L161,432.7 L161.5,433.9 L162,434.8 L162.5,436.6 L163,437.8 L163.5,438.2 L164,439.4 L164.5,439.8 L165,440.1 L165.5,441.3 L166,441.4 L166.5,441.4 L167,442.9 L167.5,445.4 L168,447.1 L168.5,446.9 L169,446.5 L169.5,447.1 L170,447.5 L170.5,447.6 L171,448.3 L171.5,448.4 L172,448.7 L172.5,449.5 L173,449.4 L173.5,448.9 L174,449.9 L174.5,451.1 L175,451.4 L175.5,451.2 L176,451.5 L176.5,452.1 L177,452.7 L177.5,452.9 L178,452.9 L178.5,453.2 L179,453.6 L179.5,453.9 L180,454 L180.5,454.2 L181,454.5 L181.5,454.7 L182,454.9 L182.5,455.2 L183,455.5 L183.5,455.7 L184,456 L221.8,456 Z" fill="#f39d57" fill-opacity="0.6" stroke="none"/>
<line x1="32.2" y1="456" x2="221.8" y2="456" stroke="#ee9145" stroke-width="1" stroke-opacity="0.45"/>
<path d="M124,456 L124.5,455.9 L125,455.8 L125.5,455.7 L126,455.6 L126.5,455.4 L127,455.3 L127.5,455.2 L128,455 L128.5,454.8 L129,454.5 L129.5,454 L130,453.4 L130.5,453.1 L131,453.1 L131.5,453.1 L132,453 L132.5,452.7 L133,452.1 L133.5,451.8 L134,451.5 L134.5,450.2 L135,448.9 L135.5,448.8 L136,449.1 L136.5,448.4 L137,447.1 L137.5,446.8 L138,446.7 L138.5,445.2 L139,442.8 L139.5,441.7 L140,442.4 L140.5,442.2 L141,441.7 L141.5,441.5 L142,440 L142.5,437 L143,434.3 L143.5,433.3 L144,432.4 L144.5,429.9 L145,428.7 L145.5,427.2 L146,424.3 L146.5,421.5 L147,418.9 L147.5,417.6 L148,416.8 L148.5,414.2 L149,411 L149.5,409.8 L150,408.9 L150.5,407.9 L151,407.9 L151.5,408.7 L152,409 L152.5,409.6 L153,409.9 L153.5,409.8 L154,408.4 L154.5,408.2 L155,409 L155.5,410.5 L156,412.8 L156.5,414.6 L157,416.2 L157.5,419.1 L158,420.3 L158.5,422.3 L159,425.7 L159.5,427.8 L160,429.1 L160.5,430.5 L161,432.7 L161.5,433.9 L162,434.8 L162.5,436.6 L163,437.8 L163.5,438.2 L164,439.4 L164.5,439.8 L165,440.1 L165.5,441.3 L166,441.4 L166.5,441.4 L167,442.9 L167.5,445.4 L168,447.1 L168.5,446.9 L169,446.5 L169.5,447.1 L170,447.5 L170.5,447.6 L171,448.3 L171.5,448.4 L172,448.7 L172.5,449.5 L173,449.4 L173.5,448.9 L174,449.9 L174.5,451.1 L175,451.4 L175.5,451.2 L176,451.5 L176.5,452.1 L177,452.7 L177.5,452.9 L178,452.9 L178.5,453.2 L179,453.6 L179.5,453.9 L180,454 L180.5,454.2 L181,454.5 L181.5,454.7 L182,454.9 L182.5,455.2 L183,455.5 L183.5,455.7 L184,456" fill="none" stroke="#ee9145" stroke-width="0.9" stroke-opacity="0.9"/>
<path d="M32.2,487.4 L132,487.4 L132,487.4 L132.5,487.2 L133,487.1 L133.5,486.9 L134,486.8 L134.5,486.7 L135,486.5 L135.5,486 L136,485.6 L136.5,485.3 L137,484.8 L137.5,484.3 L138,483.9 L138.5,483.6 L139,483.5 L139.5,483 L140,482.3 L140.5,480.8 L141,479.9 L141.5,479.8 L142,479.5 L142.5,478.3 L143,477.5 L143.5,476.3 L144,474 L144.5,472.4 L145,471.9 L145.5,471.2 L146,470.1 L146.5,469.8 L147,468.7 L147.5,466.5 L148,466 L148.5,465.9 L149,463.5 L149.5,459.4 L150,456.5 L150.5,455.7 L151,455 L151.5,454 L152,453.1 L152.5,452 L153,450.9 L153.5,449.3 L154,447.2 L154.5,445.5 L155,443.9 L155.5,442.2 L156,440.8 L156.5,441.6 L157,443.2 L157.5,441.5 L158,438 L158.5,436.2 L159,434.9 L159.5,437.6 L160,440.2 L160.5,440.3 L161,440.7 L161.5,441.1 L162,441.3 L162.5,443.2 L163,445.5 L163.5,447.8 L164,449.8 L164.5,451.5 L165,453 L165.5,454.8 L166,455.8 L166.5,455.9 L167,457.7 L167.5,459 L168,459.8 L168.5,460.9 L169,461.8 L169.5,463.3 L170,464.6 L170.5,464.6 L171,465 L171.5,466.9 L172,468.6 L172.5,470.1 L173,471.6 L173.5,472.2 L174,471.7 L174.5,471.5 L175,473.6 L175.5,475.2 L176,474.9 L176.5,475.4 L177,476.4 L177.5,476.9 L178,477.8 L178.5,478.5 L179,478.8 L179.5,479.5 L180,480.6 L180.5,481.3 L181,481.8 L181.5,481.8 L182,481.9 L182.5,482.5 L183,483.1 L183.5,483.6 L184,484.1 L184.5,484.5 L185,484.9 L185.5,485.2 L186,485.4 L186.5,485.5 L187,485.7 L187.5,486.1 L188,486.5 L188.5,486.7 L189,486.7 L189.5,486.7 L190,486.8 L190.5,487 L191,487.1 L191.5,487.3 L192,487.4 L221.8,487.4 Z" fill="#1499cf" fill-opacity="0.6" stroke="none"/>
<line x1="32.2" y1="487.4" x2="221.8" y2="487.4" stroke="#1aa0d4" stroke-width="1" stroke-opacity="0.45"/>
<path d="M132,487.4 L132.5,487.2 L133,487.1 L133.5,486.9 L134,486.8 L134.5,486.7 L135,486.5 L135.5,486 L136,485.6 L136.5,485.3 L137,484.8 L137.5,484.3 L138,483.9 L138.5,483.6 L139,483.5 L139.5,483 L140,482.3 L140.5,480.8 L141,479.9 L141.5,479.8 L142,479.5 L142.5,478.3 L143,477.5 L143.5,476.3 L144,474 L144.5,472.4 L145,471.9 L145.5,471.2 L146,470.1 L146.5,469.8 L147,468.7 L147.5,466.5 L148,466 L148.5,465.9 L149,463.5 L149.5,459.4 L150,456.5 L150.5,455.7 L151,455 L151.5,454 L152,453.1 L152.5,452 L153,450.9 L153.5,449.3 L154,447.2 L154.5,445.5 L155,443.9 L155.5,442.2 L156,440.8 L156.5,441.6 L157,443.2 L157.5,441.5 L158,438 L158.5,436.2 L159,434.9 L159.5,437.6 L160,440.2 L160.5,440.3 L161,440.7 L161.5,441.1 L162,441.3 L162.5,443.2 L163,445.5 L163.5,447.8 L164,449.8 L164.5,451.5 L165,453 L165.5,454.8 L166,455.8 L166.5,455.9 L167,457.7 L167.5,459 L168,459.8 L168.5,460.9 L169,461.8 L169.5,463.3 L170,464.6 L170.5,464.6 L171,465 L171.5,466.9 L172,468.6 L172.5,470.1 L173,471.6 L173.5,472.2 L174,471.7 L174.5,471.5 L175,473.6 L175.5,475.2 L176,474.9 L176.5,475.4 L177,476.4 L177.5,476.9 L178,477.8 L178.5,478.5 L179,478.8 L179.5,479.5 L180,480.6 L180.5,481.3 L181,481.8 L181.5,481.8 L182,481.9 L182.5,482.5 L183,483.1 L183.5,483.6 L184,484.1 L184.5,484.5 L185,484.9 L185.5,485.2 L186,485.4 L186.5,485.5 L187,485.7 L187.5,486.1 L188,486.5 L188.5,486.7 L189,486.7 L189.5,486.7 L190,486.8 L190.5,487 L191,487.1 L191.5,487.3 L192,487.4" fill="none" stroke="#1aa0d4" stroke-width="0.9" stroke-opacity="0.9"/>
<path d="M32.2,518 L137,518 L137,518 L137.5,517.8 L138,517.6 L138.5,517.5 L139,517.3 L139.5,517.1 L140,517 L140.5,516 L141,514.7 L141.5,513.8 L142,513 L142.5,511.7 L143,510.1 L143.5,508 L144,506.6 L144.5,503.7 L145,499.4 L145.5,497.1 L146,496.2 L146.5,494.1 L147,492.1 L147.5,490.3 L148,487.8 L148.5,484.6 L149,481.1 L149.5,479.1 L150,477.8 L150.5,476.2 L151,474.2 L151.5,472.8 L152,471.7 L152.5,471.2 L153,470.3 L153.5,469.4 L154,468.7 L154.5,467.8 L155,468.6 L155.5,469.6 L156,471 L156.5,470.3 L157,470.5 L157.5,470.4 L158,468.2 L158.5,466 L159,466.6 L159.5,467.7 L160,469.5 L160.5,472.1 L161,474.6 L161.5,475.9 L162,476.9 L162.5,479.8 L163,483.2 L163.5,485.2 L164,486.3 L164.5,486.6 L165,487.3 L165.5,487.8 L166,489.6 L166.5,491.6 L167,492.4 L167.5,492.8 L168,494.1 L168.5,495.5 L169,495.9 L169.5,496.3 L170,497.1 L170.5,499.7 L171,501.9 L171.5,502.2 L172,502.5 L172.5,501.9 L173,502.2 L173.5,505.1 L174,507.6 L174.5,508.2 L175,507.9 L175.5,509 L176,510.5 L176.5,510.4 L177,510.3 L177.5,511.2 L178,512.1 L178.5,512.8 L179,513.4 L179.5,514.2 L180,515.1 L180.5,515.7 L181,516.2 L181.5,516.6 L182,517 L182.5,517.2 L183,517.5 L183.5,517.8 L184,518 L221.8,518 Z" fill="#df444b" fill-opacity="0.6" stroke="none"/>
<line x1="32.2" y1="518" x2="221.8" y2="518" stroke="#d8343e" stroke-width="1" stroke-opacity="0.45"/>
<path d="M137,518 L137.5,517.8 L138,517.6 L138.5,517.5 L139,517.3 L139.5,517.1 L140,517 L140.5,516 L141,514.7 L141.5,513.8 L142,513 L142.5,511.7 L143,510.1 L143.5,508 L144,506.6 L144.5,503.7 L145,499.4 L145.5,497.1 L146,496.2 L146.5,494.1 L147,492.1 L147.5,490.3 L148,487.8 L148.5,484.6 L149,481.1 L149.5,479.1 L150,477.8 L150.5,476.2 L151,474.2 L151.5,472.8 L152,471.7 L152.5,471.2 L153,470.3 L153.5,469.4 L154,468.7 L154.5,467.8 L155,468.6 L155.5,469.6 L156,471 L156.5,470.3 L157,470.5 L157.5,470.4 L158,468.2 L158.5,466 L159,466.6 L159.5,467.7 L160,469.5 L160.5,472.1 L161,474.6 L161.5,475.9 L162,476.9 L162.5,479.8 L163,483.2 L163.5,485.2 L164,486.3 L164.5,486.6 L165,487.3 L165.5,487.8 L166,489.6 L166.5,491.6 L167,492.4 L167.5,492.8 L168,494.1 L168.5,495.5 L169,495.9 L169.5,496.3 L170,497.1 L170.5,499.7 L171,501.9 L171.5,502.2 L172,502.5 L172.5,501.9 L173,502.2 L173.5,505.1 L174,507.6 L174.5,508.2 L175,507.9 L175.5,509 L176,510.5 L176.5,510.4 L177,510.3 L177.5,511.2 L178,512.1 L178.5,512.8 L179,513.4 L179.5,514.2 L180,515.1 L180.5,515.7 L181,516.2 L181.5,516.6 L182,517 L182.5,517.2 L183,517.5 L183.5,517.8 L184,518" fill="none" stroke="#d8343e" stroke-width="0.9" stroke-opacity="0.9"/>
<line x1="160.6" y1="327.5" x2="160.6" y2="517.8" stroke="#111" stroke-width="1.4" stroke-dasharray="14.9,8.1" stroke-dashoffset="8.2"/>
<text x="34.1" y="392" font-size="13.5" fill="#111" text-anchor="start" font-weight="bold" stroke="#111" stroke-width="0.3" >Chloramphenicol</text>
<text x="34.1" y="421.5" font-size="13.5" fill="#111" text-anchor="start" font-weight="bold" stroke="#111" stroke-width="0.3" >Wortmannin</text>
<text x="34.1" y="452.3" font-size="13.5" fill="#111" text-anchor="start" font-weight="bold" stroke="#111" stroke-width="0.3" >Genistein</text>
<text x="34.1" y="484" font-size="13.5" fill="#111" text-anchor="start" font-weight="bold" stroke="#111" stroke-width="0.3" >Cytochalasin</text>
<text x="34.1" y="514.5" font-size="13.5" fill="#111" text-anchor="start" font-weight="bold" stroke="#111" stroke-width="0.3" >Control</text>
<rect x="32.2" y="327.5" width="189.6" height="190.3" fill="none" stroke="#111" stroke-width="1.7"/>
<line x1="32.2" y1="517.8" x2="32.2" y2="522.6" stroke="#111" stroke-width="1.6"/>
<line x1="46.3" y1="517.8" x2="46.3" y2="521.2" stroke="#333" stroke-width="0.9"/>
<line x1="54.6" y1="517.8" x2="54.6" y2="521.2" stroke="#333" stroke-width="0.9"/>
<line x1="60.5" y1="517.8" x2="60.5" y2="521.2" stroke="#333" stroke-width="0.9"/>
<line x1="65.1" y1="517.8" x2="65.1" y2="521.2" stroke="#333" stroke-width="0.9"/>
<line x1="68.8" y1="517.8" x2="68.8" y2="521.2" stroke="#333" stroke-width="0.9"/>
<line x1="71.9" y1="517.8" x2="71.9" y2="521.2" stroke="#333" stroke-width="0.9"/>
<line x1="74.6" y1="517.8" x2="74.6" y2="521.2" stroke="#333" stroke-width="0.9"/>
<line x1="77" y1="517.8" x2="77" y2="521.2" stroke="#333" stroke-width="0.9"/>
<text x="24.9" y="535.9" font-size="14.5" font-weight="bold" fill="#111" textLength="15.3" lengthAdjust="spacingAndGlyphs">10</text>
<text x="39.2" y="527.7" font-size="8.6" font-weight="bold" fill="#111">0</text>
<line x1="79.2" y1="517.8" x2="79.2" y2="522.6" stroke="#111" stroke-width="1.6"/>
<line x1="93.3" y1="517.8" x2="93.3" y2="521.2" stroke="#333" stroke-width="0.9"/>
<line x1="101.6" y1="517.8" x2="101.6" y2="521.2" stroke="#333" stroke-width="0.9"/>
<line x1="107.5" y1="517.8" x2="107.5" y2="521.2" stroke="#333" stroke-width="0.9"/>
<line x1="112.1" y1="517.8" x2="112.1" y2="521.2" stroke="#333" stroke-width="0.9"/>
<line x1="115.8" y1="517.8" x2="115.8" y2="521.2" stroke="#333" stroke-width="0.9"/>
<line x1="118.9" y1="517.8" x2="118.9" y2="521.2" stroke="#333" stroke-width="0.9"/>
<line x1="121.6" y1="517.8" x2="121.6" y2="521.2" stroke="#333" stroke-width="0.9"/>
<line x1="124" y1="517.8" x2="124" y2="521.2" stroke="#333" stroke-width="0.9"/>
<text x="71.9" y="535.9" font-size="14.5" font-weight="bold" fill="#111" textLength="15.3" lengthAdjust="spacingAndGlyphs">10</text>
<text x="86.2" y="527.7" font-size="8.6" font-weight="bold" fill="#111">1</text>
<line x1="126.2" y1="517.8" x2="126.2" y2="522.6" stroke="#111" stroke-width="1.6"/>
<line x1="140.3" y1="517.8" x2="140.3" y2="521.2" stroke="#333" stroke-width="0.9"/>
<line x1="148.6" y1="517.8" x2="148.6" y2="521.2" stroke="#333" stroke-width="0.9"/>
<line x1="154.5" y1="517.8" x2="154.5" y2="521.2" stroke="#333" stroke-width="0.9"/>
<line x1="159.1" y1="517.8" x2="159.1" y2="521.2" stroke="#333" stroke-width="0.9"/>
<line x1="162.8" y1="517.8" x2="162.8" y2="521.2" stroke="#333" stroke-width="0.9"/>
<line x1="165.9" y1="517.8" x2="165.9" y2="521.2" stroke="#333" stroke-width="0.9"/>
<line x1="168.6" y1="517.8" x2="168.6" y2="521.2" stroke="#333" stroke-width="0.9"/>
<line x1="171" y1="517.8" x2="171" y2="521.2" stroke="#333" stroke-width="0.9"/>
<text x="118.9" y="535.9" font-size="14.5" font-weight="bold" fill="#111" textLength="15.3" lengthAdjust="spacingAndGlyphs">10</text>
<text x="133.2" y="527.7" font-size="8.6" font-weight="bold" fill="#111">2</text>
<line x1="173.2" y1="517.8" x2="173.2" y2="522.6" stroke="#111" stroke-width="1.6"/>
<line x1="187.3" y1="517.8" x2="187.3" y2="521.2" stroke="#333" stroke-width="0.9"/>
<line x1="195.6" y1="517.8" x2="195.6" y2="521.2" stroke="#333" stroke-width="0.9"/>
<line x1="201.5" y1="517.8" x2="201.5" y2="521.2" stroke="#333" stroke-width="0.9"/>
<line x1="206.1" y1="517.8" x2="206.1" y2="521.2" stroke="#333" stroke-width="0.9"/>
<line x1="209.8" y1="517.8" x2="209.8" y2="521.2" stroke="#333" stroke-width="0.9"/>
<line x1="212.9" y1="517.8" x2="212.9" y2="521.2" stroke="#333" stroke-width="0.9"/>
<line x1="215.6" y1="517.8" x2="215.6" y2="521.2" stroke="#333" stroke-width="0.9"/>
<line x1="218" y1="517.8" x2="218" y2="521.2" stroke="#333" stroke-width="0.9"/>
<text x="165.9" y="535.9" font-size="14.5" font-weight="bold" fill="#111" textLength="15.3" lengthAdjust="spacingAndGlyphs">10</text>
<text x="180.2" y="527.7" font-size="8.6" font-weight="bold" fill="#111">3</text>
<line x1="220.2" y1="517.8" x2="220.2" y2="522.6" stroke="#111" stroke-width="1.6"/>
<text x="212.9" y="535.9" font-size="14.5" font-weight="bold" fill="#111" textLength="15.3" lengthAdjust="spacingAndGlyphs">10</text>
<text x="227.2" y="527.7" font-size="8.6" font-weight="bold" fill="#111">4</text>
<rect x="273.7" y="326.7" width="25.2" height="191" fill="#a6a6a6" />
<text x="286.5" y="422.2" font-size="15.5" font-weight="bold" fill="#1a1a1a" stroke="#1a1a1a" stroke-width="0.3" text-anchor="middle" dominant-baseline="central" transform="rotate(-90 286.5 422.2)">BSA/FCS NPs</text>
<text x="277.4" y="319.9" font-size="22" fill="#000" text-anchor="start" font-weight="bold" stroke="#000" stroke-width="0.3" >D</text>
<path d="M305.2,384.9 L304.8,384.9 L304.8,384.9 L305.3,380.9 L305.8,381.6 L306.3,381.7 L306.8,382 L307.3,382.2 L307.8,382.1 L308.3,382.3 L308.8,382.5 L309.3,382.6 L309.8,382.8 L310.3,383.2 L310.8,383.3 L311.3,383.2 L311.8,383.2 L312.3,383.4 L312.8,383.6 L313.3,383.7 L313.8,383.7 L314.3,383.8 L314.8,383.9 L315.3,383.8 L315.8,383.8 L316.3,383.8 L316.8,383.8 L317.3,383.9 L317.8,384 L318.3,384 L318.8,383.9 L319.3,383.9 L319.8,383.9 L320.3,384 L320.8,383.9 L321.3,383.9 L321.8,383.8 L322.3,383.8 L322.8,383.7 L323.3,383.5 L323.8,383.3 L324.3,383.3 L324.8,383.4 L325.3,383.5 L325.8,383.3 L326.3,383 L326.8,383 L327.3,383 L327.8,382.7 L328.3,382.4 L328.8,382.4 L329.3,382.4 L329.8,382.4 L330.3,382.5 L330.8,382.5 L331.3,382.4 L331.8,382.1 L332.3,381.7 L332.8,381.5 L333.3,381.4 L333.8,381.3 L334.3,381.4 L334.8,381.4 L335.3,381 L335.8,381 L336.3,381.1 L336.8,381 L337.3,380.7 L337.8,380.3 L338.3,379.7 L338.8,379.9 L339.3,380.9 L339.8,381.2 L340.3,380.6 L340.8,379.9 L341.3,379.3 L341.8,379.6 L342.3,380.1 L342.8,379.4 L343.3,378.4 L343.8,378 L344.3,377.9 L344.8,378 L345.3,377.8 L345.8,377.1 L346.3,376.5 L346.8,376.2 L347.3,376.1 L347.8,376 L348.3,375.2 L348.8,374.2 L349.3,373.1 L349.8,372.7 L350.3,373.2 L350.8,373.7 L351.3,373.3 L351.8,372.4 L352.3,372 L352.8,371.9 L353.3,371.6 L353.8,371 L354.3,370.3 L354.8,369.7 L355.3,368.6 L355.8,368 L356.3,368.2 L356.8,368.3 L357.3,367.1 L357.8,366.3 L358.3,366.5 L358.8,365.9 L359.3,365.3 L359.8,365 L360.3,363.5 L360.8,362.5 L361.3,362.5 L361.8,362.2 L362.3,361.9 L362.8,361.5 L363.3,360.6 L363.8,358.8 L364.3,357.8 L364.8,358.1 L365.3,357.4 L365.8,355.2 L366.3,354.8 L366.8,355.6 L367.3,353.9 L367.8,352.3 L368.3,353.2 L368.8,353.5 L369.3,352.5 L369.8,352.1 L370.3,352.6 L370.8,352 L371.3,350.1 L371.8,348.7 L372.3,348.3 L372.8,347.6 L373.3,347 L373.8,345.9 L374.3,345.3 L374.8,345.3 L375.3,345.2 L375.8,345.2 L376.3,345.8 L376.8,346.9 L377.3,347.3 L377.8,346.8 L378.3,346 L378.8,345.4 L379.3,345.6 L379.8,347.2 L380.3,348.1 L380.8,346.1 L381.3,344.4 L381.8,345 L382.3,345.6 L382.8,345.3 L383.3,346.1 L383.8,348.2 L384.3,350.5 L384.8,352.4 L385.3,354.1 L385.8,355.8 L386.3,357.7 L386.8,359.8 L387.3,361.4 L387.8,362.5 L388.3,363.4 L388.8,365.3 L389.3,368.6 L389.8,370.2 L390.3,369.2 L390.8,369.6 L391.3,372.2 L391.8,374.2 L392.3,374.9 L392.8,375.8 L393.3,376.9 L393.8,377.7 L394.3,378.8 L394.8,379.7 L395.3,379.8 L395.8,380 L396.3,380.6 L396.8,381.6 L397.3,382.1 L397.8,382.2 L398.3,382.4 L398.8,382.7 L399.3,383 L399.8,383.1 L400.3,383.4 L400.8,383.6 L401.3,383.9 L401.8,384.3 L402.3,384.5 L402.8,384.5 L403.3,384.6 L403.8,384.7 L404.3,384.8 L404.8,384.9 L494.7,384.9 Z" fill="#d9aab1" fill-opacity="0.6" stroke="none"/>
<line x1="305.2" y1="384.9" x2="494.7" y2="384.9" stroke="#c99aa2" stroke-width="1" stroke-opacity="0.45"/>
<path d="M304.8,384.9 L305.3,380.9 L305.8,381.6 L306.3,381.7 L306.8,382 L307.3,382.2 L307.8,382.1 L308.3,382.3 L308.8,382.5 L309.3,382.6 L309.8,382.8 L310.3,383.2 L310.8,383.3 L311.3,383.2 L311.8,383.2 L312.3,383.4 L312.8,383.6 L313.3,383.7 L313.8,383.7 L314.3,383.8 L314.8,383.9 L315.3,383.8 L315.8,383.8 L316.3,383.8 L316.8,383.8 L317.3,383.9 L317.8,384 L318.3,384 L318.8,383.9 L319.3,383.9 L319.8,383.9 L320.3,384 L320.8,383.9 L321.3,383.9 L321.8,383.8 L322.3,383.8 L322.8,383.7 L323.3,383.5 L323.8,383.3 L324.3,383.3 L324.8,383.4 L325.3,383.5 L325.8,383.3 L326.3,383 L326.8,383 L327.3,383 L327.8,382.7 L328.3,382.4 L328.8,382.4 L329.3,382.4 L329.8,382.4 L330.3,382.5 L330.8,382.5 L331.3,382.4 L331.8,382.1 L332.3,381.7 L332.8,381.5 L333.3,381.4 L333.8,381.3 L334.3,381.4 L334.8,381.4 L335.3,381 L335.8,381 L336.3,381.1 L336.8,381 L337.3,380.7 L337.8,380.3 L338.3,379.7 L338.8,379.9 L339.3,380.9 L339.8,381.2 L340.3,380.6 L340.8,379.9 L341.3,379.3 L341.8,379.6 L342.3,380.1 L342.8,379.4 L343.3,378.4 L343.8,378 L344.3,377.9 L344.8,378 L345.3,377.8 L345.8,377.1 L346.3,376.5 L346.8,376.2 L347.3,376.1 L347.8,376 L348.3,375.2 L348.8,374.2 L349.3,373.1 L349.8,372.7 L350.3,373.2 L350.8,373.7 L351.3,373.3 L351.8,372.4 L352.3,372 L352.8,371.9 L353.3,371.6 L353.8,371 L354.3,370.3 L354.8,369.7 L355.3,368.6 L355.8,368 L356.3,368.2 L356.8,368.3 L357.3,367.1 L357.8,366.3 L358.3,366.5 L358.8,365.9 L359.3,365.3 L359.8,365 L360.3,363.5 L360.8,362.5 L361.3,362.5 L361.8,362.2 L362.3,361.9 L362.8,361.5 L363.3,360.6 L363.8,358.8 L364.3,357.8 L364.8,358.1 L365.3,357.4 L365.8,355.2 L366.3,354.8 L366.8,355.6 L367.3,353.9 L367.8,352.3 L368.3,353.2 L368.8,353.5 L369.3,352.5 L369.8,352.1 L370.3,352.6 L370.8,352 L371.3,350.1 L371.8,348.7 L372.3,348.3 L372.8,347.6 L373.3,347 L373.8,345.9 L374.3,345.3 L374.8,345.3 L375.3,345.2 L375.8,345.2 L376.3,345.8 L376.8,346.9 L377.3,347.3 L377.8,346.8 L378.3,346 L378.8,345.4 L379.3,345.6 L379.8,347.2 L380.3,348.1 L380.8,346.1 L381.3,344.4 L381.8,345 L382.3,345.6 L382.8,345.3 L383.3,346.1 L383.8,348.2 L384.3,350.5 L384.8,352.4 L385.3,354.1 L385.8,355.8 L386.3,357.7 L386.8,359.8 L387.3,361.4 L387.8,362.5 L388.3,363.4 L388.8,365.3 L389.3,368.6 L389.8,370.2 L390.3,369.2 L390.8,369.6 L391.3,372.2 L391.8,374.2 L392.3,374.9 L392.8,375.8 L393.3,376.9 L393.8,377.7 L394.3,378.8 L394.8,379.7 L395.3,379.8 L395.8,380 L396.3,380.6 L396.8,381.6 L397.3,382.1 L397.8,382.2 L398.3,382.4 L398.8,382.7 L399.3,383 L399.8,383.1 L400.3,383.4 L400.8,383.6 L401.3,383.9 L401.8,384.3 L402.3,384.5 L402.8,384.5 L403.3,384.6 L403.8,384.7 L404.3,384.8 L404.8,384.9" fill="none" stroke="#c99aa2" stroke-width="0.9" stroke-opacity="0.9"/>
<path d="M305.2,411.5 L304.8,411.5 L304.8,411.5 L305.3,406.1 L305.8,406.9 L306.3,407.4 L306.8,408.5 L307.3,408.9 L307.8,408.9 L308.3,409.2 L308.8,409.5 L309.3,409.5 L309.8,409.2 L310.3,409.2 L310.8,409.6 L311.3,409.9 L311.8,409.9 L312.3,410 L312.8,410 L313.3,410.1 L313.8,410.3 L314.3,410.4 L314.8,410.5 L315.3,410.5 L315.8,410.5 L316.3,410.6 L316.8,410.6 L317.3,410.6 L317.8,410.6 L318.3,410.7 L318.8,410.7 L319.3,410.6 L319.8,410.4 L320.3,410.4 L320.8,410.5 L321.3,410.4 L321.8,410.2 L322.3,410.1 L322.8,410.1 L323.3,410.2 L323.8,410.1 L324.3,410 L324.8,410 L325.3,409.9 L325.8,409.8 L326.3,409.4 L326.8,409.1 L327.3,409.2 L327.8,409.1 L328.3,409 L328.8,409 L329.3,408.7 L329.8,408.4 L330.3,408.5 L330.8,408.5 L331.3,408.3 L331.8,407.9 L332.3,407.7 L332.8,407.9 L333.3,407.8 L333.8,407.9 L334.3,408.2 L334.8,408 L335.3,407.5 L335.8,407.2 L336.3,407.3 L336.8,407.6 L337.3,407.3 L337.8,407.2 L338.3,407.1 L338.8,406.3 L339.3,405.9 L339.8,406 L340.3,405.7 L340.8,405.4 L341.3,405.4 L341.8,404.9 L342.3,404.5 L342.8,405.1 L343.3,404.3 L343.8,403.6 L344.3,404.1 L344.8,403.5 L345.3,402.1 L345.8,400.8 L346.3,400.4 L346.8,401.4 L347.3,401.3 L347.8,399.3 L348.3,398.6 L348.8,399.2 L349.3,398.8 L349.8,398 L350.3,397.5 L350.8,396.6 L351.3,396.5 L351.8,396.7 L352.3,395.5 L352.8,394.5 L353.3,394.1 L353.8,394 L354.3,394.2 L354.8,392.6 L355.3,391.7 L355.8,391.7 L356.3,390.5 L356.8,388.6 L357.3,386.2 L357.8,385.3 L358.3,386.2 L358.8,386.5 L359.3,385.7 L359.8,384.6 L360.3,383.8 L360.8,383 L361.3,381.8 L361.8,380.5 L362.3,379.9 L362.8,379.5 L363.3,377.8 L363.8,376.1 L364.3,377 L364.8,376.9 L365.3,375.8 L365.8,375.7 L366.3,375.4 L366.8,374.9 L367.3,374.7 L367.8,375.8 L368.3,376.3 L368.8,376.1 L369.3,376.5 L369.8,376.1 L370.3,375.6 L370.8,375.2 L371.3,374 L371.8,373.2 L372.3,373.3 L372.8,373.7 L373.3,372.9 L373.8,372.3 L374.3,373.2 L374.8,373.9 L375.3,374 L375.8,374.6 L376.3,373.3 L376.8,370.1 L377.3,369.2 L377.8,370.1 L378.3,370.7 L378.8,370.5 L379.3,369.8 L379.8,369.9 L380.3,370.3 L380.8,371.2 L381.3,371.5 L381.8,370.1 L382.3,368.8 L382.8,368.7 L383.3,368.3 L383.8,367.7 L384.3,368.4 L384.8,368.5 L385.3,368 L385.8,369.6 L386.3,371.2 L386.8,371.2 L387.3,371.6 L387.8,373 L388.3,373 L388.8,372.7 L389.3,374.9 L389.8,378.3 L390.3,381.3 L390.8,382.3 L391.3,383.3 L391.8,385.8 L392.3,387.8 L392.8,389 L393.3,390.6 L393.8,391.8 L394.3,391.8 L394.8,392.8 L395.3,395.1 L395.8,397 L396.3,397.6 L396.8,398 L397.3,399.9 L397.8,402.1 L398.3,402.7 L398.8,402.8 L399.3,403.4 L399.8,404.3 L400.3,405.5 L400.8,406.7 L401.3,407.5 L401.8,407.5 L402.3,407.4 L402.8,408 L403.3,408.6 L403.8,409.1 L404.3,409.7 L404.8,410.1 L405.3,410.3 L405.8,410.4 L406.3,410.5 L406.8,410.9 L407.3,411.2 L407.8,411.5 L494.7,411.5 Z" fill="#537139" fill-opacity="0.6" stroke="none"/>
<line x1="305.2" y1="411.5" x2="494.7" y2="411.5" stroke="#456332" stroke-width="1" stroke-opacity="0.45"/>
<path d="M304.8,411.5 L305.3,406.1 L305.8,406.9 L306.3,407.4 L306.8,408.5 L307.3,408.9 L307.8,408.9 L308.3,409.2 L308.8,409.5 L309.3,409.5 L309.8,409.2 L310.3,409.2 L310.8,409.6 L311.3,409.9 L311.8,409.9 L312.3,410 L312.8,410 L313.3,410.1 L313.8,410.3 L314.3,410.4 L314.8,410.5 L315.3,410.5 L315.8,410.5 L316.3,410.6 L316.8,410.6 L317.3,410.6 L317.8,410.6 L318.3,410.7 L318.8,410.7 L319.3,410.6 L319.8,410.4 L320.3,410.4 L320.8,410.5 L321.3,410.4 L321.8,410.2 L322.3,410.1 L322.8,410.1 L323.3,410.2 L323.8,410.1 L324.3,410 L324.8,410 L325.3,409.9 L325.8,409.8 L326.3,409.4 L326.8,409.1 L327.3,409.2 L327.8,409.1 L328.3,409 L328.8,409 L329.3,408.7 L329.8,408.4 L330.3,408.5 L330.8,408.5 L331.3,408.3 L331.8,407.9 L332.3,407.7 L332.8,407.9 L333.3,407.8 L333.8,407.9 L334.3,408.2 L334.8,408 L335.3,407.5 L335.8,407.2 L336.3,407.3 L336.8,407.6 L337.3,407.3 L337.8,407.2 L338.3,407.1 L338.8,406.3 L339.3,405.9 L339.8,406 L340.3,405.7 L340.8,405.4 L341.3,405.4 L341.8,404.9 L342.3,404.5 L342.8,405.1 L343.3,404.3 L343.8,403.6 L344.3,404.1 L344.8,403.5 L345.3,402.1 L345.8,400.8 L346.3,400.4 L346.8,401.4 L347.3,401.3 L347.8,399.3 L348.3,398.6 L348.8,399.2 L349.3,398.8 L349.8,398 L350.3,397.5 L350.8,396.6 L351.3,396.5 L351.8,396.7 L352.3,395.5 L352.8,394.5 L353.3,394.1 L353.8,394 L354.3,394.2 L354.8,392.6 L355.3,391.7 L355.8,391.7 L356.3,390.5 L356.8,388.6 L357.3,386.2 L357.8,385.3 L358.3,386.2 L358.8,386.5 L359.3,385.7 L359.8,384.6 L360.3,383.8 L360.8,383 L361.3,381.8 L361.8,380.5 L362.3,379.9 L362.8,379.5 L363.3,377.8 L363.8,376.1 L364.3,377 L364.8,376.9 L365.3,375.8 L365.8,375.7 L366.3,375.4 L366.8,374.9 L367.3,374.7 L367.8,375.8 L368.3,376.3 L368.8,376.1 L369.3,376.5 L369.8,376.1 L370.3,375.6 L370.8,375.2 L371.3,374 L371.8,373.2 L372.3,373.3 L372.8,373.7 L373.3,372.9 L373.8,372.3 L374.3,373.2 L374.8,373.9 L375.3,374 L375.8,374.6 L376.3,373.3 L376.8,370.1 L377.3,369.2 L377.8,370.1 L378.3,370.7 L378.8,370.5 L379.3,369.8 L379.8,369.9 L380.3,370.3 L380.8,371.2 L381.3,371.5 L381.8,370.1 L382.3,368.8 L382.8,368.7 L383.3,368.3 L383.8,367.7 L384.3,368.4 L384.8,368.5 L385.3,368 L385.8,369.6 L386.3,371.2 L386.8,371.2 L387.3,371.6 L387.8,373 L388.3,373 L388.8,372.7 L389.3,374.9 L389.8,378.3 L390.3,381.3 L390.8,382.3 L391.3,383.3 L391.8,385.8 L392.3,387.8 L392.8,389 L393.3,390.6 L393.8,391.8 L394.3,391.8 L394.8,392.8 L395.3,395.1 L395.8,397 L396.3,397.6 L396.8,398 L397.3,399.9 L397.8,402.1 L398.3,402.7 L398.8,402.8 L399.3,403.4 L399.8,404.3 L400.3,405.5 L400.8,406.7 L401.3,407.5 L401.8,407.5 L402.3,407.4 L402.8,408 L403.3,408.6 L403.8,409.1 L404.3,409.7 L404.8,410.1 L405.3,410.3 L405.8,410.4 L406.3,410.5 L406.8,410.9 L407.3,411.2 L407.8,411.5" fill="none" stroke="#456332" stroke-width="0.9" stroke-opacity="0.9"/>
<path d="M305.2,438.6 L304.8,438.6 L304.8,438.6 L305.3,432 L305.8,433.7 L306.3,435 L306.8,435.6 L307.3,435.9 L307.8,436.1 L308.3,436.4 L308.8,436.6 L309.3,436.9 L309.8,437.1 L310.3,437 L310.8,436.9 L311.3,436.9 L311.8,437.1 L312.3,437.3 L312.8,437.4 L313.3,437.4 L313.8,437.3 L314.3,437.4 L314.8,437.5 L315.3,437.4 L315.8,437.3 L316.3,437.4 L316.8,437.5 L317.3,437.5 L317.8,437.5 L318.3,437.5 L318.8,437.6 L319.3,437.6 L319.8,437.5 L320.3,437.5 L320.8,437.6 L321.3,437.7 L321.8,437.7 L322.3,437.8 L322.8,437.7 L323.3,437.5 L323.8,437.4 L324.3,437.4 L324.8,437.5 L325.3,437.4 L325.8,437.4 L326.3,437.5 L326.8,437.4 L327.3,437.4 L327.8,437.3 L328.3,437.3 L328.8,437.4 L329.3,437.2 L329.8,437 L330.3,436.8 L330.8,436.7 L331.3,436.5 L331.8,436.6 L332.3,436.7 L332.8,436.7 L333.3,436.8 L333.8,436.8 L334.3,436.6 L334.8,436.1 L335.3,435.8 L335.8,435.7 L336.3,435.6 L336.8,435.8 L337.3,435.8 L337.8,435.7 L338.3,435.6 L338.8,434.9 L339.3,434.4 L339.8,434.4 L340.3,434.1 L340.8,433.5 L341.3,432.9 L341.8,432.6 L342.3,432.5 L342.8,432.2 L343.3,432.4 L343.8,432.1 L344.3,431.3 L344.8,431.1 L345.3,430.4 L345.8,429.6 L346.3,429.6 L346.8,428.6 L347.3,427.4 L347.8,427.7 L348.3,428.9 L348.8,429.4 L349.3,427.8 L349.8,426.1 L350.3,425.3 L350.8,424.5 L351.3,423.3 L351.8,422.6 L352.3,421.6 L352.8,420.7 L353.3,420.6 L353.8,419.1 L354.3,416.7 L354.8,416.7 L355.3,417.6 L355.8,416.5 L356.3,414.5 L356.8,413.3 L357.3,413.3 L357.8,413.5 L358.3,412.7 L358.8,411.1 L359.3,410.4 L359.8,410.2 L360.3,409.6 L360.8,408.5 L361.3,407.5 L361.8,407 L362.3,406 L362.8,405.2 L363.3,405.6 L363.8,405.6 L364.3,405 L364.8,405 L365.3,405.2 L365.8,405.8 L366.3,406 L366.8,404.8 L367.3,404 L367.8,404 L368.3,404.1 L368.8,404.6 L369.3,404.6 L369.8,403.3 L370.3,401.9 L370.8,402.3 L371.3,403.1 L371.8,403.1 L372.3,403.3 L372.8,403.1 L373.3,402.5 L373.8,403.4 L374.3,404.2 L374.8,403.5 L375.3,402.2 L375.8,401.1 L376.3,400.7 L376.8,401 L377.3,400.5 L377.8,400.2 L378.3,400 L378.8,399.3 L379.3,399.4 L379.8,399.5 L380.3,399 L380.8,399.2 L381.3,399.2 L381.8,398.8 L382.3,399.2 L382.8,399.9 L383.3,400.3 L383.8,400.1 L384.3,400.5 L384.8,401.6 L385.3,402.2 L385.8,403.1 L386.3,403.5 L386.8,403.2 L387.3,405.7 L387.8,408 L388.3,408.6 L388.8,410.2 L389.3,411.2 L389.8,412.2 L390.3,414.4 L390.8,416.2 L391.3,417.3 L391.8,419 L392.3,421 L392.8,422 L393.3,421.7 L393.8,421.7 L394.3,422.3 L394.8,423.1 L395.3,425 L395.8,427.3 L396.3,429.2 L396.8,430.9 L397.3,431.5 L397.8,431.6 L398.3,431.6 L398.8,432.3 L399.3,433.6 L399.8,434.8 L400.3,435.4 L400.8,435.4 L401.3,435.5 L401.8,436 L402.3,436.4 L402.8,436.6 L403.3,437 L403.8,437.6 L404.3,438.1 L404.8,438.6 L494.7,438.6 Z" fill="#7bbe46" fill-opacity="0.6" stroke="none"/>
<line x1="305.2" y1="438.6" x2="494.7" y2="438.6" stroke="#72b83e" stroke-width="1" stroke-opacity="0.45"/>
<path d="M304.8,438.6 L305.3,432 L305.8,433.7 L306.3,435 L306.8,435.6 L307.3,435.9 L307.8,436.1 L308.3,436.4 L308.8,436.6 L309.3,436.9 L309.8,437.1 L310.3,437 L310.8,436.9 L311.3,436.9 L311.8,437.1 L312.3,437.3 L312.8,437.4 L313.3,437.4 L313.8,437.3 L314.3,437.4 L314.8,437.5 L315.3,437.4 L315.8,437.3 L316.3,437.4 L316.8,437.5 L317.3,437.5 L317.8,437.5 L318.3,437.5 L318.8,437.6 L319.3,437.6 L319.8,437.5 L320.3,437.5 L320.8,437.6 L321.3,437.7 L321.8,437.7 L322.3,437.8 L322.8,437.7 L323.3,437.5 L323.8,437.4 L324.3,437.4 L324.8,437.5 L325.3,437.4 L325.8,437.4 L326.3,437.5 L326.8,437.4 L327.3,437.4 L327.8,437.3 L328.3,437.3 L328.8,437.4 L329.3,437.2 L329.8,437 L330.3,436.8 L330.8,436.7 L331.3,436.5 L331.8,436.6 L332.3,436.7 L332.8,436.7 L333.3,436.8 L333.8,436.8 L334.3,436.6 L334.8,436.1 L335.3,435.8 L335.8,435.7 L336.3,435.6 L336.8,435.8 L337.3,435.8 L337.8,435.7 L338.3,435.6 L338.8,434.9 L339.3,434.4 L339.8,434.4 L340.3,434.1 L340.8,433.5 L341.3,432.9 L341.8,432.6 L342.3,432.5 L342.8,432.2 L343.3,432.4 L343.8,432.1 L344.3,431.3 L344.8,431.1 L345.3,430.4 L345.8,429.6 L346.3,429.6 L346.8,428.6 L347.3,427.4 L347.8,427.7 L348.3,428.9 L348.8,429.4 L349.3,427.8 L349.8,426.1 L350.3,425.3 L350.8,424.5 L351.3,423.3 L351.8,422.6 L352.3,421.6 L352.8,420.7 L353.3,420.6 L353.8,419.1 L354.3,416.7 L354.8,416.7 L355.3,417.6 L355.8,416.5 L356.3,414.5 L356.8,413.3 L357.3,413.3 L357.8,413.5 L358.3,412.7 L358.8,411.1 L359.3,410.4 L359.8,410.2 L360.3,409.6 L360.8,408.5 L361.3,407.5 L361.8,407 L362.3,406 L362.8,405.2 L363.3,405.6 L363.8,405.6 L364.3,405 L364.8,405 L365.3,405.2 L365.8,405.8 L366.3,406 L366.8,404.8 L367.3,404 L367.8,404 L368.3,404.1 L368.8,404.6 L369.3,404.6 L369.8,403.3 L370.3,401.9 L370.8,402.3 L371.3,403.1 L371.8,403.1 L372.3,403.3 L372.8,403.1 L373.3,402.5 L373.8,403.4 L374.3,404.2 L374.8,403.5 L375.3,402.2 L375.8,401.1 L376.3,400.7 L376.8,401 L377.3,400.5 L377.8,400.2 L378.3,400 L378.8,399.3 L379.3,399.4 L379.8,399.5 L380.3,399 L380.8,399.2 L381.3,399.2 L381.8,398.8 L382.3,399.2 L382.8,399.9 L383.3,400.3 L383.8,400.1 L384.3,400.5 L384.8,401.6 L385.3,402.2 L385.8,403.1 L386.3,403.5 L386.8,403.2 L387.3,405.7 L387.8,408 L388.3,408.6 L388.8,410.2 L389.3,411.2 L389.8,412.2 L390.3,414.4 L390.8,416.2 L391.3,417.3 L391.8,419 L392.3,421 L392.8,422 L393.3,421.7 L393.8,421.7 L394.3,422.3 L394.8,423.1 L395.3,425 L395.8,427.3 L396.3,429.2 L396.8,430.9 L397.3,431.5 L397.8,431.6 L398.3,431.6 L398.8,432.3 L399.3,433.6 L399.8,434.8 L400.3,435.4 L400.8,435.4 L401.3,435.5 L401.8,436 L402.3,436.4 L402.8,436.6 L403.3,437 L403.8,437.6 L404.3,438.1 L404.8,438.6" fill="none" stroke="#72b83e" stroke-width="0.9" stroke-opacity="0.9"/>
<path d="M305.2,464.3 L304.8,464.3 L304.8,464.3 L305.3,458.3 L305.8,459.3 L306.3,460.1 L306.8,461.2 L307.3,461.9 L307.8,461.9 L308.3,461.9 L308.8,462.2 L309.3,462.5 L309.8,462.7 L310.3,462.8 L310.8,462.8 L311.3,462.9 L311.8,463 L312.3,463 L312.8,462.9 L313.3,462.8 L313.8,462.8 L314.3,463 L314.8,463.1 L315.3,463.1 L315.8,463.1 L316.3,463.1 L316.8,463 L317.3,463 L317.8,463.1 L318.3,463.2 L318.8,463.2 L319.3,463.3 L319.8,463.4 L320.3,463.3 L320.8,463.3 L321.3,463.4 L321.8,463.3 L322.3,462.9 L322.8,462.7 L323.3,462.8 L323.8,462.9 L324.3,462.9 L324.8,462.9 L325.3,462.9 L325.8,462.9 L326.3,462.8 L326.8,462.6 L327.3,462.5 L327.8,462.4 L328.3,462.3 L328.8,462.3 L329.3,462.2 L329.8,462.3 L330.3,462.4 L330.8,462.2 L331.3,462 L331.8,462 L332.3,461.9 L332.8,461.8 L333.3,461.5 L333.8,461.1 L334.3,460.8 L334.8,460.4 L335.3,460.6 L335.8,460.9 L336.3,460.9 L336.8,460.8 L337.3,460.5 L337.8,460.2 L338.3,460.1 L338.8,459.5 L339.3,458.6 L339.8,458.4 L340.3,458.3 L340.8,458 L341.3,457.9 L341.8,457.7 L342.3,457.7 L342.8,457.8 L343.3,456.8 L343.8,455.9 L344.3,456.3 L344.8,456.5 L345.3,456.6 L345.8,456.7 L346.3,455.8 L346.8,453.8 L347.3,452.1 L347.8,452.7 L348.3,453 L348.8,451.3 L349.3,450.5 L349.8,450.1 L350.3,449.3 L350.8,448.9 L351.3,448.2 L351.8,447 L352.3,446.6 L352.8,446.8 L353.3,446.6 L353.8,446 L354.3,444.6 L354.8,443.2 L355.3,442.5 L355.8,442.3 L356.3,441.6 L356.8,440.7 L357.3,440.7 L357.8,440.7 L358.3,440.2 L358.8,439.7 L359.3,438.4 L359.8,436.9 L360.3,437.5 L360.8,438.8 L361.3,438.5 L361.8,437.4 L362.3,435.5 L362.8,434.7 L363.3,435.2 L363.8,435.2 L364.3,434.9 L364.8,434 L365.3,433.3 L365.8,434.5 L366.3,434.9 L366.8,433.4 L367.3,432.4 L367.8,431.9 L368.3,431.8 L368.8,433.1 L369.3,433.2 L369.8,431.6 L370.3,431.4 L370.8,432.2 L371.3,431.2 L371.8,429.5 L372.3,428.9 L372.8,428.6 L373.3,428.3 L373.8,429.1 L374.3,429.5 L374.8,429.2 L375.3,428.6 L375.8,427.9 L376.3,427.3 L376.8,426.7 L377.3,426.2 L377.8,425.4 L378.3,424.1 L378.8,422.9 L379.3,422.7 L379.8,423.4 L380.3,423.8 L380.8,423.4 L381.3,422.8 L381.8,423.6 L382.3,425.5 L382.8,426.7 L383.3,428.1 L383.8,429.5 L384.3,430.6 L384.8,431.7 L385.3,433.1 L385.8,435.5 L386.3,436.9 L386.8,437.8 L387.3,439.1 L387.8,440.5 L388.3,442.4 L388.8,444.3 L389.3,446.2 L389.8,447.4 L390.3,447.6 L390.8,448.3 L391.3,450 L391.8,452.1 L392.3,453.9 L392.8,455.5 L393.3,457.9 L393.8,460 L394.3,461.1 L394.8,461.3 L395.3,461.9 L395.8,462.7 L396.3,463.4 L396.8,464.3 L494.7,464.3 Z" fill="#f39d57" fill-opacity="0.6" stroke="none"/>
<line x1="305.2" y1="464.3" x2="494.7" y2="464.3" stroke="#ee9145" stroke-width="1" stroke-opacity="0.45"/>
<path d="M304.8,464.3 L305.3,458.3 L305.8,459.3 L306.3,460.1 L306.8,461.2 L307.3,461.9 L307.8,461.9 L308.3,461.9 L308.8,462.2 L309.3,462.5 L309.8,462.7 L310.3,462.8 L310.8,462.8 L311.3,462.9 L311.8,463 L312.3,463 L312.8,462.9 L313.3,462.8 L313.8,462.8 L314.3,463 L314.8,463.1 L315.3,463.1 L315.8,463.1 L316.3,463.1 L316.8,463 L317.3,463 L317.8,463.1 L318.3,463.2 L318.8,463.2 L319.3,463.3 L319.8,463.4 L320.3,463.3 L320.8,463.3 L321.3,463.4 L321.8,463.3 L322.3,462.9 L322.8,462.7 L323.3,462.8 L323.8,462.9 L324.3,462.9 L324.8,462.9 L325.3,462.9 L325.8,462.9 L326.3,462.8 L326.8,462.6 L327.3,462.5 L327.8,462.4 L328.3,462.3 L328.8,462.3 L329.3,462.2 L329.8,462.3 L330.3,462.4 L330.8,462.2 L331.3,462 L331.8,462 L332.3,461.9 L332.8,461.8 L333.3,461.5 L333.8,461.1 L334.3,460.8 L334.8,460.4 L335.3,460.6 L335.8,460.9 L336.3,460.9 L336.8,460.8 L337.3,460.5 L337.8,460.2 L338.3,460.1 L338.8,459.5 L339.3,458.6 L339.8,458.4 L340.3,458.3 L340.8,458 L341.3,457.9 L341.8,457.7 L342.3,457.7 L342.8,457.8 L343.3,456.8 L343.8,455.9 L344.3,456.3 L344.8,456.5 L345.3,456.6 L345.8,456.7 L346.3,455.8 L346.8,453.8 L347.3,452.1 L347.8,452.7 L348.3,453 L348.8,451.3 L349.3,450.5 L349.8,450.1 L350.3,449.3 L350.8,448.9 L351.3,448.2 L351.8,447 L352.3,446.6 L352.8,446.8 L353.3,446.6 L353.8,446 L354.3,444.6 L354.8,443.2 L355.3,442.5 L355.8,442.3 L356.3,441.6 L356.8,440.7 L357.3,440.7 L357.8,440.7 L358.3,440.2 L358.8,439.7 L359.3,438.4 L359.8,436.9 L360.3,437.5 L360.8,438.8 L361.3,438.5 L361.8,437.4 L362.3,435.5 L362.8,434.7 L363.3,435.2 L363.8,435.2 L364.3,434.9 L364.8,434 L365.3,433.3 L365.8,434.5 L366.3,434.9 L366.8,433.4 L367.3,432.4 L367.8,431.9 L368.3,431.8 L368.8,433.1 L369.3,433.2 L369.8,431.6 L370.3,431.4 L370.8,432.2 L371.3,431.2 L371.8,429.5 L372.3,428.9 L372.8,428.6 L373.3,428.3 L373.8,429.1 L374.3,429.5 L374.8,429.2 L375.3,428.6 L375.8,427.9 L376.3,427.3 L376.8,426.7 L377.3,426.2 L377.8,425.4 L378.3,424.1 L378.8,422.9 L379.3,422.7 L379.8,423.4 L380.3,423.8 L380.8,423.4 L381.3,422.8 L381.8,423.6 L382.3,425.5 L382.8,426.7 L383.3,428.1 L383.8,429.5 L384.3,430.6 L384.8,431.7 L385.3,433.1 L385.8,435.5 L386.3,436.9 L386.8,437.8 L387.3,439.1 L387.8,440.5 L388.3,442.4 L388.8,444.3 L389.3,446.2 L389.8,447.4 L390.3,447.6 L390.8,448.3 L391.3,450 L391.8,452.1 L392.3,453.9 L392.8,455.5 L393.3,457.9 L393.8,460 L394.3,461.1 L394.8,461.3 L395.3,461.9 L395.8,462.7 L396.3,463.4 L396.8,464.3" fill="none" stroke="#ee9145" stroke-width="0.9" stroke-opacity="0.9"/>
<path d="M305.2,491.4 L304.8,491.4 L304.8,491.4 L305.3,486 L305.8,486.6 L306.3,487.9 L306.8,488.9 L307.3,489.3 L307.8,489.7 L308.3,489.9 L308.8,490 L309.3,490.2 L309.8,490.5 L310.3,490.5 L310.8,490.4 L311.3,490.4 L311.8,490.5 L312.3,490.5 L312.8,490.3 L313.3,490.3 L313.8,490.4 L314.3,490.4 L314.8,490.5 L315.3,490.5 L315.8,490.5 L316.3,490.4 L316.8,490.3 L317.3,490.3 L317.8,490.4 L318.3,490.4 L318.8,490.4 L319.3,490.4 L319.8,490.4 L320.3,490.4 L320.8,490.3 L321.3,490.2 L321.8,490.1 L322.3,490 L322.8,489.8 L323.3,489.7 L323.8,489.6 L324.3,489.5 L324.8,489.6 L325.3,489.6 L325.8,489.4 L326.3,489.2 L326.8,488.9 L327.3,488.6 L327.8,488.4 L328.3,488.4 L328.8,488.5 L329.3,488.2 L329.8,487.8 L330.3,487.9 L330.8,488.2 L331.3,488.1 L331.8,487.6 L332.3,487 L332.8,486.5 L333.3,485.9 L333.8,485.8 L334.3,486.2 L334.8,486 L335.3,485.5 L335.8,485.6 L336.3,485.6 L336.8,484.9 L337.3,484.3 L337.8,483.9 L338.3,484.7 L338.8,485.3 L339.3,484.5 L339.8,483.6 L340.3,481.9 L340.8,481 L341.3,482.3 L341.8,483.4 L342.3,482.7 L342.8,481.1 L343.3,480.9 L343.8,481.1 L344.3,479.8 L344.8,478.1 L345.3,478 L345.8,477.9 L346.3,477.2 L346.8,476.6 L347.3,476.7 L347.8,477.4 L348.3,477.5 L348.8,477.3 L349.3,476.4 L349.8,475.2 L350.3,475.1 L350.8,475.2 L351.3,475.1 L351.8,474.3 L352.3,473.3 L352.8,473.3 L353.3,473 L353.8,471.9 L354.3,471 L354.8,470.6 L355.3,471.2 L355.8,471.6 L356.3,470.1 L356.8,468.7 L357.3,468.7 L357.8,468.2 L358.3,467.4 L358.8,467.8 L359.3,467.5 L359.8,467.1 L360.3,466.9 L360.8,466.1 L361.3,466.8 L361.8,467.9 L362.3,466.8 L362.8,464.2 L363.3,463.3 L363.8,464.6 L364.3,464 L364.8,462.4 L365.3,462.6 L365.8,463.7 L366.3,464.7 L366.8,464.7 L367.3,463.4 L367.8,462.8 L368.3,463.2 L368.8,462.1 L369.3,460.1 L369.8,459.4 L370.3,459.1 L370.8,458.5 L371.3,457.6 L371.8,455.9 L372.3,454.2 L372.8,453.8 L373.3,454.3 L373.8,454.2 L374.3,453.1 L374.8,452.2 L375.3,451.9 L375.8,452.4 L376.3,453.9 L376.8,454.2 L377.3,452.9 L377.8,452.4 L378.3,452.9 L378.8,453.8 L379.3,453.8 L379.8,452.7 L380.3,453.4 L380.8,454.7 L381.3,454.7 L381.8,454.6 L382.3,454.4 L382.8,454.3 L383.3,456.4 L383.8,458.2 L384.3,458.4 L384.8,458.5 L385.3,458.5 L385.8,458.7 L386.3,459.6 L386.8,460.3 L387.3,460.8 L387.8,461.2 L388.3,461.5 L388.8,462.5 L389.3,463.1 L389.8,463.1 L390.3,462.9 L390.8,462.5 L391.3,462.8 L391.8,463.7 L392.3,464.3 L392.8,465.7 L393.3,466.4 L393.8,465.6 L394.3,465.3 L394.8,465.6 L395.3,466.2 L395.8,466.7 L396.3,467.3 L396.8,468.1 L397.3,468 L397.8,468.1 L398.3,469.3 L398.8,470.5 L399.3,470.5 L399.8,469.8 L400.3,469.4 L400.8,470 L401.3,471.5 L401.8,472.5 L402.3,472.4 L402.8,472.9 L403.3,473.5 L403.8,473.4 L404.3,473.7 L404.8,475 L405.3,476.7 L405.8,477.9 L406.3,478.4 L406.8,478 L407.3,477.7 L407.8,478 L408.3,479 L408.8,479.4 L409.3,479.5 L409.8,481.6 L410.3,483.3 L410.8,482.9 L411.3,482.7 L411.8,483.4 L412.3,484.4 L412.8,484.5 L413.3,484.4 L413.8,485.4 L414.3,486.3 L414.8,486.6 L415.3,486.9 L415.8,486.9 L416.3,486.9 L416.8,487.4 L417.3,487.9 L417.8,488.2 L418.3,488.4 L418.8,488.5 L419.3,488.8 L419.8,489.4 L420.3,489.7 L420.8,489.8 L421.3,490 L421.8,490.3 L422.3,490.6 L422.8,490.9 L423.3,491.1 L423.8,491.4 L494.7,491.4 Z" fill="#1499cf" fill-opacity="0.6" stroke="none"/>
<line x1="305.2" y1="491.4" x2="494.7" y2="491.4" stroke="#1aa0d4" stroke-width="1" stroke-opacity="0.45"/>
<path d="M304.8,491.4 L305.3,486 L305.8,486.6 L306.3,487.9 L306.8,488.9 L307.3,489.3 L307.8,489.7 L308.3,489.9 L308.8,490 L309.3,490.2 L309.8,490.5 L310.3,490.5 L310.8,490.4 L311.3,490.4 L311.8,490.5 L312.3,490.5 L312.8,490.3 L313.3,490.3 L313.8,490.4 L314.3,490.4 L314.8,490.5 L315.3,490.5 L315.8,490.5 L316.3,490.4 L316.8,490.3 L317.3,490.3 L317.8,490.4 L318.3,490.4 L318.8,490.4 L319.3,490.4 L319.8,490.4 L320.3,490.4 L320.8,490.3 L321.3,490.2 L321.8,490.1 L322.3,490 L322.8,489.8 L323.3,489.7 L323.8,489.6 L324.3,489.5 L324.8,489.6 L325.3,489.6 L325.8,489.4 L326.3,489.2 L326.8,488.9 L327.3,488.6 L327.8,488.4 L328.3,488.4 L328.8,488.5 L329.3,488.2 L329.8,487.8 L330.3,487.9 L330.8,488.2 L331.3,488.1 L331.8,487.6 L332.3,487 L332.8,486.5 L333.3,485.9 L333.8,485.8 L334.3,486.2 L334.8,486 L335.3,485.5 L335.8,485.6 L336.3,485.6 L336.8,484.9 L337.3,484.3 L337.8,483.9 L338.3,484.7 L338.8,485.3 L339.3,484.5 L339.8,483.6 L340.3,481.9 L340.8,481 L341.3,482.3 L341.8,483.4 L342.3,482.7 L342.8,481.1 L343.3,480.9 L343.8,481.1 L344.3,479.8 L344.8,478.1 L345.3,478 L345.8,477.9 L346.3,477.2 L346.8,476.6 L347.3,476.7 L347.8,477.4 L348.3,477.5 L348.8,477.3 L349.3,476.4 L349.8,475.2 L350.3,475.1 L350.8,475.2 L351.3,475.1 L351.8,474.3 L352.3,473.3 L352.8,473.3 L353.3,473 L353.8,471.9 L354.3,471 L354.8,470.6 L355.3,471.2 L355.8,471.6 L356.3,470.1 L356.8,468.7 L357.3,468.7 L357.8,468.2 L358.3,467.4 L358.8,467.8 L359.3,467.5 L359.8,467.1 L360.3,466.9 L360.8,466.1 L361.3,466.8 L361.8,467.9 L362.3,466.8 L362.8,464.2 L363.3,463.3 L363.8,464.6 L364.3,464 L364.8,462.4 L365.3,462.6 L365.8,463.7 L366.3,464.7 L366.8,464.7 L367.3,463.4 L367.8,462.8 L368.3,463.2 L368.8,462.1 L369.3,460.1 L369.8,459.4 L370.3,459.1 L370.8,458.5 L371.3,457.6 L371.8,455.9 L372.3,454.2 L372.8,453.8 L373.3,454.3 L373.8,454.2 L374.3,453.1 L374.8,452.2 L375.3,451.9 L375.8,452.4 L376.3,453.9 L376.8,454.2 L377.3,452.9 L377.8,452.4 L378.3,452.9 L378.8,453.8 L379.3,453.8 L379.8,452.7 L380.3,453.4 L380.8,454.7 L381.3,454.7 L381.8,454.6 L382.3,454.4 L382.8,454.3 L383.3,456.4 L383.8,458.2 L384.3,458.4 L384.8,458.5 L385.3,458.5 L385.8,458.7 L386.3,459.6 L386.8,460.3 L387.3,460.8 L387.8,461.2 L388.3,461.5 L388.8,462.5 L389.3,463.1 L389.8,463.1 L390.3,462.9 L390.8,462.5 L391.3,462.8 L391.8,463.7 L392.3,464.3 L392.8,465.7 L393.3,466.4 L393.8,465.6 L394.3,465.3 L394.8,465.6 L395.3,466.2 L395.8,466.7 L396.3,467.3 L396.8,468.1 L397.3,468 L397.8,468.1 L398.3,469.3 L398.8,470.5 L399.3,470.5 L399.8,469.8 L400.3,469.4 L400.8,470 L401.3,471.5 L401.8,472.5 L402.3,472.4 L402.8,472.9 L403.3,473.5 L403.8,473.4 L404.3,473.7 L404.8,475 L405.3,476.7 L405.8,477.9 L406.3,478.4 L406.8,478 L407.3,477.7 L407.8,478 L408.3,479 L408.8,479.4 L409.3,479.5 L409.8,481.6 L410.3,483.3 L410.8,482.9 L411.3,482.7 L411.8,483.4 L412.3,484.4 L412.8,484.5 L413.3,484.4 L413.8,485.4 L414.3,486.3 L414.8,486.6 L415.3,486.9 L415.8,486.9 L416.3,486.9 L416.8,487.4 L417.3,487.9 L417.8,488.2 L418.3,488.4 L418.8,488.5 L419.3,488.8 L419.8,489.4 L420.3,489.7 L420.8,489.8 L421.3,490 L421.8,490.3 L422.3,490.6 L422.8,490.9 L423.3,491.1 L423.8,491.4" fill="none" stroke="#1aa0d4" stroke-width="0.9" stroke-opacity="0.9"/>
<path d="M305.2,518 L304.8,518 L304.8,518 L305.3,512.7 L305.8,514.1 L306.3,515.8 L306.8,516.8 L307.3,517.1 L307.8,517.2 L308.3,517.4 L308.8,517.6 L309.3,517.7 L309.8,517.9 L310.3,518 L310.8,518 L311.3,518 L311.8,518 L312.3,518 L312.8,518 L313.3,518 L313.8,518 L314.3,518 L314.8,518 L315.3,518 L315.8,518 L316.3,518 L316.8,518 L317.3,518 L317.8,518 L318.3,518 L318.8,518 L319.3,518 L319.8,518 L320.3,518 L320.8,518 L321.3,518 L321.8,518 L322.3,518 L322.8,518 L323.3,518 L323.8,518 L324.3,518 L324.8,518 L325.3,518 L325.8,518 L326.3,518 L326.8,518 L327.3,518 L327.8,518 L328.3,518 L328.8,518 L329.3,518 L329.8,518 L330.3,518 L330.8,518 L331.3,518 L331.8,518 L332.3,518 L332.8,518 L333.3,518 L333.8,518 L334.3,518 L334.8,518 L335.3,518 L335.8,518 L336.3,518 L336.8,518 L337.3,518 L337.8,518 L338.3,518 L338.8,518 L339.3,518 L339.8,518 L340.3,518 L340.8,518 L341.3,518 L341.8,518 L342.3,518 L342.8,518 L343.3,517.9 L343.8,517.6 L344.3,517.4 L344.8,517.1 L345.3,516.8 L345.8,516.7 L346.3,516.4 L346.8,516.1 L347.3,515.7 L347.8,515.5 L348.3,515.3 L348.8,514.9 L349.3,514.6 L349.8,514.4 L350.3,514.2 L350.8,514 L351.3,513.1 L351.8,512.3 L352.3,512.1 L352.8,511.9 L353.3,511.2 L353.8,511.2 L354.3,511.6 L354.8,511.3 L355.3,510.5 L355.8,510 L356.3,510.6 L356.8,510.7 L357.3,509.4 L357.8,508.3 L358.3,508.3 L358.8,508.5 L359.3,508 L359.8,506.5 L360.3,504.8 L360.8,505.2 L361.3,505.6 L361.8,504.5 L362.3,502.8 L362.8,501.5 L363.3,501.8 L363.8,501.8 L364.3,500.9 L364.8,500.2 L365.3,499.7 L365.8,499.3 L366.3,499 L366.8,498.6 L367.3,498.3 L367.8,498 L368.3,497.2 L368.8,496.4 L369.3,495.6 L369.8,494.8 L370.3,493.7 L370.8,492.6 L371.3,492.1 L371.8,491.2 L372.3,490.4 L372.8,490 L373.3,489.1 L373.8,488.7 L374.3,488.5 L374.8,487.3 L375.3,487.8 L375.8,488.3 L376.3,486.4 L376.8,484.6 L377.3,483.9 L377.8,483.7 L378.3,483 L378.8,482.1 L379.3,482.4 L379.8,482.3 L380.3,480.5 L380.8,478.4 L381.3,477.2 L381.8,476.7 L382.3,476.7 L382.8,476.3 L383.3,475.5 L383.8,475.7 L384.3,476.4 L384.8,476.7 L385.3,477.8 L385.8,478.9 L386.3,479.2 L386.8,479.4 L387.3,480.2 L387.8,482 L388.3,484.1 L388.8,485.8 L389.3,487.4 L389.8,488.1 L390.3,488.5 L390.8,490.2 L391.3,492.4 L391.8,494.1 L392.3,495.5 L392.8,497.3 L393.3,498.9 L393.8,499.6 L394.3,500.6 L394.8,501.6 L395.3,502.5 L395.8,504.4 L396.3,506.7 L396.8,507.6 L397.3,507.1 L397.8,508.2 L398.3,510.5 L398.8,511.2 L399.3,511 L399.8,511.3 L400.3,511.7 L400.8,512.5 L401.3,513.5 L401.8,514.5 L402.3,515.4 L402.8,516.3 L403.3,516.6 L403.8,516.5 L404.3,516.8 L404.8,517.2 L405.3,517.5 L405.8,518 L494.7,518 Z" fill="#df444b" fill-opacity="0.6" stroke="none"/>
<line x1="305.2" y1="518" x2="494.7" y2="518" stroke="#d8343e" stroke-width="1" stroke-opacity="0.45"/>
<path d="M304.8,518 L305.3,512.7 L305.8,514.1 L306.3,515.8 L306.8,516.8 L307.3,517.1 L307.8,517.2 L308.3,517.4 L308.8,517.6 L309.3,517.7 L309.8,517.9 L310.3,518 L310.8,518 L311.3,518 L311.8,518 L312.3,518 L312.8,518 L313.3,518 L313.8,518 L314.3,518 L314.8,518 L315.3,518 L315.8,518 L316.3,518 L316.8,518 L317.3,518 L317.8,518 L318.3,518 L318.8,518 L319.3,518 L319.8,518 L320.3,518 L320.8,518 L321.3,518 L321.8,518 L322.3,518 L322.8,518 L323.3,518 L323.8,518 L324.3,518 L324.8,518 L325.3,518 L325.8,518 L326.3,518 L326.8,518 L327.3,518 L327.8,518 L328.3,518 L328.8,518 L329.3,518 L329.8,518 L330.3,518 L330.8,518 L331.3,518 L331.8,518 L332.3,518 L332.8,518 L333.3,518 L333.8,518 L334.3,518 L334.8,518 L335.3,518 L335.8,518 L336.3,518 L336.8,518 L337.3,518 L337.8,518 L338.3,518 L338.8,518 L339.3,518 L339.8,518 L340.3,518 L340.8,518 L341.3,518 L341.8,518 L342.3,518 L342.8,518 L343.3,517.9 L343.8,517.6 L344.3,517.4 L344.8,517.1 L345.3,516.8 L345.8,516.7 L346.3,516.4 L346.8,516.1 L347.3,515.7 L347.8,515.5 L348.3,515.3 L348.8,514.9 L349.3,514.6 L349.8,514.4 L350.3,514.2 L350.8,514 L351.3,513.1 L351.8,512.3 L352.3,512.1 L352.8,511.9 L353.3,511.2 L353.8,511.2 L354.3,511.6 L354.8,511.3 L355.3,510.5 L355.8,510 L356.3,510.6 L356.8,510.7 L357.3,509.4 L357.8,508.3 L358.3,508.3 L358.8,508.5 L359.3,508 L359.8,506.5 L360.3,504.8 L360.8,505.2 L361.3,505.6 L361.8,504.5 L362.3,502.8 L362.8,501.5 L363.3,501.8 L363.8,501.8 L364.3,500.9 L364.8,500.2 L365.3,499.7 L365.8,499.3 L366.3,499 L366.8,498.6 L367.3,498.3 L367.8,498 L368.3,497.2 L368.8,496.4 L369.3,495.6 L369.8,494.8 L370.3,493.7 L370.8,492.6 L371.3,492.1 L371.8,491.2 L372.3,490.4 L372.8,490 L373.3,489.1 L373.8,488.7 L374.3,488.5 L374.8,487.3 L375.3,487.8 L375.8,488.3 L376.3,486.4 L376.8,484.6 L377.3,483.9 L377.8,483.7 L378.3,483 L378.8,482.1 L379.3,482.4 L379.8,482.3 L380.3,480.5 L380.8,478.4 L381.3,477.2 L381.8,476.7 L382.3,476.7 L382.8,476.3 L383.3,475.5 L383.8,475.7 L384.3,476.4 L384.8,476.7 L385.3,477.8 L385.8,478.9 L386.3,479.2 L386.8,479.4 L387.3,480.2 L387.8,482 L388.3,484.1 L388.8,485.8 L389.3,487.4 L389.8,488.1 L390.3,488.5 L390.8,490.2 L391.3,492.4 L391.8,494.1 L392.3,495.5 L392.8,497.3 L393.3,498.9 L393.8,499.6 L394.3,500.6 L394.8,501.6 L395.3,502.5 L395.8,504.4 L396.3,506.7 L396.8,507.6 L397.3,507.1 L397.8,508.2 L398.3,510.5 L398.8,511.2 L399.3,511 L399.8,511.3 L400.3,511.7 L400.8,512.5 L401.3,513.5 L401.8,514.5 L402.3,515.4 L402.8,516.3 L403.3,516.6 L403.8,516.5 L404.3,516.8 L404.8,517.2 L405.3,517.5 L405.8,518" fill="none" stroke="#d8343e" stroke-width="0.9" stroke-opacity="0.9"/>
<line x1="386.4" y1="327.6" x2="386.4" y2="517.8" stroke="#111" stroke-width="1.4" stroke-dasharray="14.9,8.1" stroke-dashoffset="8.2"/>
<text x="492.2" y="383" font-size="13.5" fill="#111" text-anchor="end" font-weight="bold" stroke="#111" stroke-width="0.3" >Wortmannin</text>
<text x="492.2" y="408.8" font-size="13.5" fill="#111" text-anchor="end" font-weight="bold" stroke="#111" stroke-width="0.3" >Cytochalasin</text>
<text x="492.2" y="437.3" font-size="13.5" fill="#111" text-anchor="end" font-weight="bold" stroke="#111" stroke-width="0.3" >Filipin</text>
<text x="492.2" y="463" font-size="13.5" fill="#111" text-anchor="end" font-weight="bold" stroke="#111" stroke-width="0.3" >Chloramphenicol</text>
<text x="492.2" y="490" font-size="13.5" fill="#111" text-anchor="end" font-weight="bold" stroke="#111" stroke-width="0.3" >Genistein</text>
<text x="492.2" y="514.5" font-size="13.5" fill="#111" text-anchor="end" font-weight="bold" stroke="#111" stroke-width="0.3" >Control</text>
<rect x="305.2" y="327.6" width="189.5" height="190.2" fill="none" stroke="#111" stroke-width="1.7"/>
<line x1="305.2" y1="517.8" x2="305.2" y2="522.6" stroke="#111" stroke-width="1.6"/>
<line x1="319.3" y1="517.8" x2="319.3" y2="521.2" stroke="#333" stroke-width="0.9"/>
<line x1="327.6" y1="517.8" x2="327.6" y2="521.2" stroke="#333" stroke-width="0.9"/>
<line x1="333.5" y1="517.8" x2="333.5" y2="521.2" stroke="#333" stroke-width="0.9"/>
<line x1="338" y1="517.8" x2="338" y2="521.2" stroke="#333" stroke-width="0.9"/>
<line x1="341.8" y1="517.8" x2="341.8" y2="521.2" stroke="#333" stroke-width="0.9"/>
<line x1="344.9" y1="517.8" x2="344.9" y2="521.2" stroke="#333" stroke-width="0.9"/>
<line x1="347.6" y1="517.8" x2="347.6" y2="521.2" stroke="#333" stroke-width="0.9"/>
<line x1="350" y1="517.8" x2="350" y2="521.2" stroke="#333" stroke-width="0.9"/>
<text x="294.3" y="535.9" font-size="14.5" font-weight="bold" fill="#111" textLength="15.3" lengthAdjust="spacingAndGlyphs">10</text>
<text x="308.6" y="527.7" font-size="8.6" font-weight="bold" fill="#111">0</text>
<line x1="352.2" y1="517.8" x2="352.2" y2="522.6" stroke="#111" stroke-width="1.6"/>
<line x1="366.3" y1="517.8" x2="366.3" y2="521.2" stroke="#333" stroke-width="0.9"/>
<line x1="374.6" y1="517.8" x2="374.6" y2="521.2" stroke="#333" stroke-width="0.9"/>
<line x1="380.5" y1="517.8" x2="380.5" y2="521.2" stroke="#333" stroke-width="0.9"/>
<line x1="385" y1="517.8" x2="385" y2="521.2" stroke="#333" stroke-width="0.9"/>
<line x1="388.7" y1="517.8" x2="388.7" y2="521.2" stroke="#333" stroke-width="0.9"/>
<line x1="391.9" y1="517.8" x2="391.9" y2="521.2" stroke="#333" stroke-width="0.9"/>
<line x1="394.6" y1="517.8" x2="394.6" y2="521.2" stroke="#333" stroke-width="0.9"/>
<line x1="397" y1="517.8" x2="397" y2="521.2" stroke="#333" stroke-width="0.9"/>
<text x="341.3" y="535.9" font-size="14.5" font-weight="bold" fill="#111" textLength="15.3" lengthAdjust="spacingAndGlyphs">10</text>
<text x="355.6" y="527.7" font-size="8.6" font-weight="bold" fill="#111">1</text>
<line x1="399.1" y1="517.8" x2="399.1" y2="522.6" stroke="#111" stroke-width="1.6"/>
<line x1="413.3" y1="517.8" x2="413.3" y2="521.2" stroke="#333" stroke-width="0.9"/>
<line x1="421.6" y1="517.8" x2="421.6" y2="521.2" stroke="#333" stroke-width="0.9"/>
<line x1="427.4" y1="517.8" x2="427.4" y2="521.2" stroke="#333" stroke-width="0.9"/>
<line x1="432" y1="517.8" x2="432" y2="521.2" stroke="#333" stroke-width="0.9"/>
<line x1="435.7" y1="517.8" x2="435.7" y2="521.2" stroke="#333" stroke-width="0.9"/>
<line x1="438.8" y1="517.8" x2="438.8" y2="521.2" stroke="#333" stroke-width="0.9"/>
<line x1="441.6" y1="517.8" x2="441.6" y2="521.2" stroke="#333" stroke-width="0.9"/>
<line x1="444" y1="517.8" x2="444" y2="521.2" stroke="#333" stroke-width="0.9"/>
<text x="388.2" y="535.9" font-size="14.5" font-weight="bold" fill="#111" textLength="15.3" lengthAdjust="spacingAndGlyphs">10</text>
<text x="402.5" y="527.7" font-size="8.6" font-weight="bold" fill="#111">2</text>
<line x1="446.1" y1="517.8" x2="446.1" y2="522.6" stroke="#111" stroke-width="1.6"/>
<line x1="460.3" y1="517.8" x2="460.3" y2="521.2" stroke="#333" stroke-width="0.9"/>
<line x1="468.5" y1="517.8" x2="468.5" y2="521.2" stroke="#333" stroke-width="0.9"/>
<line x1="474.4" y1="517.8" x2="474.4" y2="521.2" stroke="#333" stroke-width="0.9"/>
<line x1="479" y1="517.8" x2="479" y2="521.2" stroke="#333" stroke-width="0.9"/>
<line x1="482.7" y1="517.8" x2="482.7" y2="521.2" stroke="#333" stroke-width="0.9"/>
<line x1="485.8" y1="517.8" x2="485.8" y2="521.2" stroke="#333" stroke-width="0.9"/>
<line x1="488.5" y1="517.8" x2="488.5" y2="521.2" stroke="#333" stroke-width="0.9"/>
<line x1="491" y1="517.8" x2="491" y2="521.2" stroke="#333" stroke-width="0.9"/>
<text x="435.2" y="535.9" font-size="14.5" font-weight="bold" fill="#111" textLength="15.3" lengthAdjust="spacingAndGlyphs">10</text>
<text x="449.5" y="527.7" font-size="8.6" font-weight="bold" fill="#111">3</text>
<line x1="493.1" y1="517.8" x2="493.1" y2="522.6" stroke="#111" stroke-width="1.6"/>
<text x="482.2" y="535.9" font-size="14.5" font-weight="bold" fill="#111" textLength="15.3" lengthAdjust="spacingAndGlyphs">10</text>
<text x="496.5" y="527.7" font-size="8.6" font-weight="bold" fill="#111">4</text>
<rect x="546.1" y="326.7" width="24.6" height="191" fill="#a6a6a6" />
<text x="558.1" y="421.4" font-size="15.2" font-weight="bold" fill="#1a1a1a" stroke="#1a1a1a" stroke-width="0.3" text-anchor="middle" dominant-baseline="central" transform="rotate(-90 558.1 421.4)">BSA@FBZ/FCS NPs</text>
<text x="551.6" y="319.9" font-size="22" fill="#000" text-anchor="start" font-weight="bold" stroke="#000" stroke-width="0.3" >E</text>
<path d="M577.5,384.9 L636,384.9 L636,384.9 L636.5,384.8 L637,384.7 L637.5,384.6 L638,384.4 L638.5,384.3 L639,384.1 L639.5,384 L640,383.9 L640.5,383.5 L641,383.3 L641.5,383.2 L642,383 L642.5,382.4 L643,382 L643.5,381.9 L644,381.8 L644.5,381.5 L645,380.9 L645.5,380.3 L646,379.8 L646.5,378.6 L647,377.7 L647.5,377.2 L648,376.8 L648.5,376.9 L649,376.7 L649.5,376.3 L650,375.3 L650.5,373.9 L651,373.4 L651.5,372.7 L652,371.9 L652.5,371 L653,369.7 L653.5,368.6 L654,367.7 L654.5,365.5 L655,363.3 L655.5,362.5 L656,362.6 L656.5,362.2 L657,360.2 L657.5,357.6 L658,357 L658.5,356.5 L659,354.2 L659.5,352.4 L660,352.1 L660.5,351.8 L661,351.2 L661.5,351.3 L662,351 L662.5,349.9 L663,348.5 L663.5,347 L664,345.7 L664.5,345.4 L665,345.3 L665.5,345.4 L666,346 L666.5,345.7 L667,346.2 L667.5,347 L668,347.2 L668.5,347.1 L669,346.5 L669.5,346.5 L670,348.2 L670.5,351.7 L671,353.7 L671.5,353.6 L672,353.3 L672.5,353.6 L673,355.4 L673.5,357.6 L674,357.6 L674.5,357.3 L675,358.1 L675.5,359.3 L676,360.9 L676.5,362.1 L677,362.7 L677.5,363.3 L678,364.2 L678.5,365.5 L679,366.6 L679.5,367 L680,367.2 L680.5,367.4 L681,368.3 L681.5,370.1 L682,371.9 L682.5,372.7 L683,373 L683.5,373.9 L684,375.1 L684.5,375.8 L685,376.3 L685.5,376.7 L686,377.1 L686.5,377.4 L687,378 L687.5,379.2 L688,380.2 L688.5,380.2 L689,380.4 L689.5,381 L690,381.3 L690.5,381.6 L691,382 L691.5,382 L692,382.2 L692.5,382.6 L693,383 L693.5,383.2 L694,383.4 L694.5,383.5 L695,383.5 L695.5,383.6 L696,383.9 L696.5,384.1 L697,384.1 L697.5,384.3 L698,384.6 L698.5,384.7 L699,384.9 L767,384.9 Z" fill="#d9aab1" fill-opacity="0.6" stroke="none"/>
<line x1="577.5" y1="384.9" x2="767" y2="384.9" stroke="#c99aa2" stroke-width="1" stroke-opacity="0.45"/>
<path d="M636,384.9 L636.5,384.8 L637,384.7 L637.5,384.6 L638,384.4 L638.5,384.3 L639,384.1 L639.5,384 L640,383.9 L640.5,383.5 L641,383.3 L641.5,383.2 L642,383 L642.5,382.4 L643,382 L643.5,381.9 L644,381.8 L644.5,381.5 L645,380.9 L645.5,380.3 L646,379.8 L646.5,378.6 L647,377.7 L647.5,377.2 L648,376.8 L648.5,376.9 L649,376.7 L649.5,376.3 L650,375.3 L650.5,373.9 L651,373.4 L651.5,372.7 L652,371.9 L652.5,371 L653,369.7 L653.5,368.6 L654,367.7 L654.5,365.5 L655,363.3 L655.5,362.5 L656,362.6 L656.5,362.2 L657,360.2 L657.5,357.6 L658,357 L658.5,356.5 L659,354.2 L659.5,352.4 L660,352.1 L660.5,351.8 L661,351.2 L661.5,351.3 L662,351 L662.5,349.9 L663,348.5 L663.5,347 L664,345.7 L664.5,345.4 L665,345.3 L665.5,345.4 L666,346 L666.5,345.7 L667,346.2 L667.5,347 L668,347.2 L668.5,347.1 L669,346.5 L669.5,346.5 L670,348.2 L670.5,351.7 L671,353.7 L671.5,353.6 L672,353.3 L672.5,353.6 L673,355.4 L673.5,357.6 L674,357.6 L674.5,357.3 L675,358.1 L675.5,359.3 L676,360.9 L676.5,362.1 L677,362.7 L677.5,363.3 L678,364.2 L678.5,365.5 L679,366.6 L679.5,367 L680,367.2 L680.5,367.4 L681,368.3 L681.5,370.1 L682,371.9 L682.5,372.7 L683,373 L683.5,373.9 L684,375.1 L684.5,375.8 L685,376.3 L685.5,376.7 L686,377.1 L686.5,377.4 L687,378 L687.5,379.2 L688,380.2 L688.5,380.2 L689,380.4 L689.5,381 L690,381.3 L690.5,381.6 L691,382 L691.5,382 L692,382.2 L692.5,382.6 L693,383 L693.5,383.2 L694,383.4 L694.5,383.5 L695,383.5 L695.5,383.6 L696,383.9 L696.5,384.1 L697,384.1 L697.5,384.3 L698,384.6 L698.5,384.7 L699,384.9" fill="none" stroke="#c99aa2" stroke-width="0.9" stroke-opacity="0.9"/>
<path d="M577.5,411.9 L636,411.9 L636,411.9 L636.5,411.8 L637,411.7 L637.5,411.5 L638,411.5 L638.5,411.3 L639,411.2 L639.5,411.1 L640,411.1 L640.5,410.6 L641,409.9 L641.5,409.3 L642,409.2 L642.5,409.1 L643,408.6 L643.5,408.2 L644,407.6 L644.5,407 L645,407 L645.5,406.5 L646,406 L646.5,405 L647,404.3 L647.5,404.1 L648,403.4 L648.5,402.5 L649,402.3 L649.5,402.3 L650,401.5 L650.5,399.6 L651,397.3 L651.5,396.2 L652,396.8 L652.5,395.6 L653,393.1 L653.5,391.6 L654,391.3 L654.5,391.3 L655,390 L655.5,388.6 L656,387.6 L656.5,387.1 L657,386.4 L657.5,383.8 L658,382.3 L658.5,382.4 L659,381.5 L659.5,380.9 L660,380.5 L660.5,378.8 L661,377.3 L661.5,376.5 L662,375.4 L662.5,373.4 L663,371.1 L663.5,370 L664,369.7 L664.5,368.7 L665,368.2 L665.5,368.4 L666,367 L666.5,367.7 L667,368.9 L667.5,370.7 L668,372.8 L668.5,373.6 L669,374.9 L669.5,376 L670,375.8 L670.5,376.4 L671,377.8 L671.5,378.7 L672,379.8 L672.5,381.4 L673,382.1 L673.5,383.1 L674,385.3 L674.5,385.7 L675,386.2 L675.5,388.2 L676,388.8 L676.5,388.7 L677,388.8 L677.5,389.8 L678,392.3 L678.5,393.5 L679,392.7 L679.5,393.3 L680,395.2 L680.5,396 L681,396.5 L681.5,397.4 L682,398 L682.5,399.2 L683,400.8 L683.5,400.9 L684,401.3 L684.5,402.3 L685,403.5 L685.5,404.8 L686,404.8 L686.5,405.1 L687,406 L687.5,406.2 L688,406 L688.5,405.6 L689,406.1 L689.5,407.4 L690,408.3 L690.5,408.8 L691,409.1 L691.5,409.3 L692,409.6 L692.5,409.7 L693,409.8 L693.5,410 L694,410.2 L694.5,410.2 L695,410.2 L695.5,410.7 L696,410.9 L696.5,411 L697,411.1 L697.5,411.3 L698,411.5 L698.5,411.7 L699,411.9 L767,411.9 Z" fill="#7bbe46" fill-opacity="0.6" stroke="none"/>
<line x1="577.5" y1="411.9" x2="767" y2="411.9" stroke="#72b83e" stroke-width="1" stroke-opacity="0.45"/>
<path d="M636,411.9 L636.5,411.8 L637,411.7 L637.5,411.5 L638,411.5 L638.5,411.3 L639,411.2 L639.5,411.1 L640,411.1 L640.5,410.6 L641,409.9 L641.5,409.3 L642,409.2 L642.5,409.1 L643,408.6 L643.5,408.2 L644,407.6 L644.5,407 L645,407 L645.5,406.5 L646,406 L646.5,405 L647,404.3 L647.5,404.1 L648,403.4 L648.5,402.5 L649,402.3 L649.5,402.3 L650,401.5 L650.5,399.6 L651,397.3 L651.5,396.2 L652,396.8 L652.5,395.6 L653,393.1 L653.5,391.6 L654,391.3 L654.5,391.3 L655,390 L655.5,388.6 L656,387.6 L656.5,387.1 L657,386.4 L657.5,383.8 L658,382.3 L658.5,382.4 L659,381.5 L659.5,380.9 L660,380.5 L660.5,378.8 L661,377.3 L661.5,376.5 L662,375.4 L662.5,373.4 L663,371.1 L663.5,370 L664,369.7 L664.5,368.7 L665,368.2 L665.5,368.4 L666,367 L666.5,367.7 L667,368.9 L667.5,370.7 L668,372.8 L668.5,373.6 L669,374.9 L669.5,376 L670,375.8 L670.5,376.4 L671,377.8 L671.5,378.7 L672,379.8 L672.5,381.4 L673,382.1 L673.5,383.1 L674,385.3 L674.5,385.7 L675,386.2 L675.5,388.2 L676,388.8 L676.5,388.7 L677,388.8 L677.5,389.8 L678,392.3 L678.5,393.5 L679,392.7 L679.5,393.3 L680,395.2 L680.5,396 L681,396.5 L681.5,397.4 L682,398 L682.5,399.2 L683,400.8 L683.5,400.9 L684,401.3 L684.5,402.3 L685,403.5 L685.5,404.8 L686,404.8 L686.5,405.1 L687,406 L687.5,406.2 L688,406 L688.5,405.6 L689,406.1 L689.5,407.4 L690,408.3 L690.5,408.8 L691,409.1 L691.5,409.3 L692,409.6 L692.5,409.7 L693,409.8 L693.5,410 L694,410.2 L694.5,410.2 L695,410.2 L695.5,410.7 L696,410.9 L696.5,411 L697,411.1 L697.5,411.3 L698,411.5 L698.5,411.7 L699,411.9" fill="none" stroke="#72b83e" stroke-width="0.9" stroke-opacity="0.9"/>
<path d="M577.5,438.6 L638,438.6 L638,438.6 L638.5,438.5 L639,438.4 L639.5,438.3 L640,438.2 L640.5,438 L641,437.9 L641.5,437.8 L642,437.6 L642.5,437.3 L643,436.9 L643.5,436.3 L644,435.6 L644.5,435.1 L645,435 L645.5,435 L646,434.9 L646.5,434.5 L647,433.7 L647.5,433.3 L648,432.9 L648.5,431.2 L649,429.5 L649.5,429.3 L650,429.7 L650.5,428.7 L651,427.1 L651.5,426.6 L652,426.3 L652.5,424.7 L653,422.1 L653.5,420.9 L654,421.5 L654.5,421.2 L655,420.6 L655.5,420.2 L656,418.6 L656.5,416 L657,413.5 L657.5,412.9 L658,412.3 L658.5,410.2 L659,409.3 L659.5,409 L660,407.4 L660.5,405.8 L661,404.5 L661.5,403.5 L662,402.9 L662.5,400.5 L663,397.6 L663.5,397.4 L664,397.5 L664.5,397.5 L665,398.5 L665.5,397.9 L666,396.7 L666.5,395.9 L667,397.8 L667.5,398.5 L668,398 L668.5,396.8 L669,396.6 L669.5,396.1 L670,396.4 L670.5,398.2 L671,399.8 L671.5,401.7 L672,401.9 L672.5,402.4 L673,404.3 L673.5,405.4 L674,405.7 L674.5,406.1 L675,407.3 L675.5,408.7 L676,409.8 L676.5,411.7 L677,413 L677.5,413.6 L678,415 L678.5,415.7 L679,416.4 L679.5,417.9 L680,418.4 L680.5,418.7 L681,420.5 L681.5,423.4 L682,425.5 L682.5,425.5 L683,425.4 L683.5,426.2 L684,426.9 L684.5,427.3 L685,428.2 L685.5,428.8 L686,429.5 L686.5,430.5 L687,430.4 L687.5,429.7 L688,430.9 L688.5,432.5 L689,432.8 L689.5,432.6 L690,433 L690.5,433.9 L691,434.8 L691.5,435.1 L692,435.1 L692.5,435.4 L693,435.9 L693.5,436.2 L694,436.4 L694.5,436.7 L695,437 L695.5,437.2 L696,437.5 L696.5,437.7 L697,437.8 L697.5,437.9 L698,438.1 L698.5,438.2 L699,438.4 L699.5,438.5 L700,438.6 L767,438.6 Z" fill="#537139" fill-opacity="0.6" stroke="none"/>
<line x1="577.5" y1="438.6" x2="767" y2="438.6" stroke="#456332" stroke-width="1" stroke-opacity="0.45"/>
<path d="M638,438.6 L638.5,438.5 L639,438.4 L639.5,438.3 L640,438.2 L640.5,438 L641,437.9 L641.5,437.8 L642,437.6 L642.5,437.3 L643,436.9 L643.5,436.3 L644,435.6 L644.5,435.1 L645,435 L645.5,435 L646,434.9 L646.5,434.5 L647,433.7 L647.5,433.3 L648,432.9 L648.5,431.2 L649,429.5 L649.5,429.3 L650,429.7 L650.5,428.7 L651,427.1 L651.5,426.6 L652,426.3 L652.5,424.7 L653,422.1 L653.5,420.9 L654,421.5 L654.5,421.2 L655,420.6 L655.5,420.2 L656,418.6 L656.5,416 L657,413.5 L657.5,412.9 L658,412.3 L658.5,410.2 L659,409.3 L659.5,409 L660,407.4 L660.5,405.8 L661,404.5 L661.5,403.5 L662,402.9 L662.5,400.5 L663,397.6 L663.5,397.4 L664,397.5 L664.5,397.5 L665,398.5 L665.5,397.9 L666,396.7 L666.5,395.9 L667,397.8 L667.5,398.5 L668,398 L668.5,396.8 L669,396.6 L669.5,396.1 L670,396.4 L670.5,398.2 L671,399.8 L671.5,401.7 L672,401.9 L672.5,402.4 L673,404.3 L673.5,405.4 L674,405.7 L674.5,406.1 L675,407.3 L675.5,408.7 L676,409.8 L676.5,411.7 L677,413 L677.5,413.6 L678,415 L678.5,415.7 L679,416.4 L679.5,417.9 L680,418.4 L680.5,418.7 L681,420.5 L681.5,423.4 L682,425.5 L682.5,425.5 L683,425.4 L683.5,426.2 L684,426.9 L684.5,427.3 L685,428.2 L685.5,428.8 L686,429.5 L686.5,430.5 L687,430.4 L687.5,429.7 L688,430.9 L688.5,432.5 L689,432.8 L689.5,432.6 L690,433 L690.5,433.9 L691,434.8 L691.5,435.1 L692,435.1 L692.5,435.4 L693,435.9 L693.5,436.2 L694,436.4 L694.5,436.7 L695,437 L695.5,437.2 L696,437.5 L696.5,437.7 L697,437.8 L697.5,437.9 L698,438.1 L698.5,438.2 L699,438.4 L699.5,438.5 L700,438.6" fill="none" stroke="#456332" stroke-width="0.9" stroke-opacity="0.9"/>
<path d="M577.5,465.6 L630,465.6 L630,465.6 L630.5,465.5 L631,465.4 L631.5,465.2 L632,465.1 L632.5,465.1 L633,464.9 L633.5,464.7 L634,464.6 L634.5,464.5 L635,464.3 L635.5,464.1 L636,463.9 L636.5,463.8 L637,463.7 L637.5,463.5 L638,463.2 L638.5,462.8 L639,462.6 L639.5,462.8 L640,462.8 L640.5,462.4 L641,462 L641.5,461.6 L642,460.7 L642.5,460.1 L643,460.1 L643.5,460 L644,459.8 L644.5,460 L645,459.8 L645.5,458.8 L646,459.1 L646.5,459.7 L647,458.7 L647.5,456.3 L648,454.6 L648.5,454.8 L649,455.2 L649.5,455 L650,455 L650.5,454.7 L651,454.4 L651.5,453.4 L652,451.9 L652.5,450.9 L653,450.1 L653.5,449.1 L654,448.5 L654.5,447.5 L655,447.4 L655.5,447.9 L656,446.7 L656.5,445.6 L657,445.1 L657.5,444.6 L658,443.9 L658.5,442.3 L659,440.9 L659.5,439.6 L660,438.2 L660.5,438.5 L661,439.2 L661.5,438.9 L662,438.3 L662.5,437.4 L663,436.2 L663.5,436 L664,435 L664.5,433.1 L665,432.9 L665.5,433 L666,432.5 L666.5,432.3 L667,432 L667.5,432.3 L668,432.4 L668.5,431.1 L669,430.4 L669.5,431 L670,431.5 L670.5,431.7 L671,431.8 L671.5,430.9 L672,429 L672.5,427.4 L673,428.1 L673.5,428.5 L674,427 L674.5,426.9 L675,427.2 L675.5,427.1 L676,427.3 L676.5,427.3 L677,426.8 L677.5,426.9 L678,427.5 L678.5,427.8 L679,427.7 L679.5,427.5 L680,427.3 L680.5,427.8 L681,428.7 L681.5,429.3 L682,429.5 L682.5,431.2 L683,432.8 L683.5,433.8 L684,434.8 L684.5,435 L685,435 L685.5,437.3 L686,440.2 L686.5,441.6 L687,442.2 L687.5,441.8 L688,442.4 L688.5,444.2 L689,445.4 L689.5,446.4 L690,446.7 L690.5,447.3 L691,449.7 L691.5,451.4 L692,451.3 L692.5,451.6 L693,452.3 L693.5,453.5 L694,456 L694.5,457.3 L695,456.9 L695.5,458 L696,459.6 L696.5,459.8 L697,459.6 L697.5,460.1 L698,460.8 L698.5,461.5 L699,462.5 L699.5,463.3 L700,463.9 L700.5,464.1 L701,464.4 L701.5,464.7 L702,465 L702.5,465.3 L703,465.6 L767,465.6 Z" fill="#f39d57" fill-opacity="0.6" stroke="none"/>
<line x1="577.5" y1="465.6" x2="767" y2="465.6" stroke="#ee9145" stroke-width="1" stroke-opacity="0.45"/>
<path d="M630,465.6 L630.5,465.5 L631,465.4 L631.5,465.2 L632,465.1 L632.5,465.1 L633,464.9 L633.5,464.7 L634,464.6 L634.5,464.5 L635,464.3 L635.5,464.1 L636,463.9 L636.5,463.8 L637,463.7 L637.5,463.5 L638,463.2 L638.5,462.8 L639,462.6 L639.5,462.8 L640,462.8 L640.5,462.4 L641,462 L641.5,461.6 L642,460.7 L642.5,460.1 L643,460.1 L643.5,460 L644,459.8 L644.5,460 L645,459.8 L645.5,458.8 L646,459.1 L646.5,459.7 L647,458.7 L647.5,456.3 L648,454.6 L648.5,454.8 L649,455.2 L649.5,455 L650,455 L650.5,454.7 L651,454.4 L651.5,453.4 L652,451.9 L652.5,450.9 L653,450.1 L653.5,449.1 L654,448.5 L654.5,447.5 L655,447.4 L655.5,447.9 L656,446.7 L656.5,445.6 L657,445.1 L657.5,444.6 L658,443.9 L658.5,442.3 L659,440.9 L659.5,439.6 L660,438.2 L660.5,438.5 L661,439.2 L661.5,438.9 L662,438.3 L662.5,437.4 L663,436.2 L663.5,436 L664,435 L664.5,433.1 L665,432.9 L665.5,433 L666,432.5 L666.5,432.3 L667,432 L667.5,432.3 L668,432.4 L668.5,431.1 L669,430.4 L669.5,431 L670,431.5 L670.5,431.7 L671,431.8 L671.5,430.9 L672,429 L672.5,427.4 L673,428.1 L673.5,428.5 L674,427 L674.5,426.9 L675,427.2 L675.5,427.1 L676,427.3 L676.5,427.3 L677,426.8 L677.5,426.9 L678,427.5 L678.5,427.8 L679,427.7 L679.5,427.5 L680,427.3 L680.5,427.8 L681,428.7 L681.5,429.3 L682,429.5 L682.5,431.2 L683,432.8 L683.5,433.8 L684,434.8 L684.5,435 L685,435 L685.5,437.3 L686,440.2 L686.5,441.6 L687,442.2 L687.5,441.8 L688,442.4 L688.5,444.2 L689,445.4 L689.5,446.4 L690,446.7 L690.5,447.3 L691,449.7 L691.5,451.4 L692,451.3 L692.5,451.6 L693,452.3 L693.5,453.5 L694,456 L694.5,457.3 L695,456.9 L695.5,458 L696,459.6 L696.5,459.8 L697,459.6 L697.5,460.1 L698,460.8 L698.5,461.5 L699,462.5 L699.5,463.3 L700,463.9 L700.5,464.1 L701,464.4 L701.5,464.7 L702,465 L702.5,465.3 L703,465.6" fill="none" stroke="#ee9145" stroke-width="0.9" stroke-opacity="0.9"/>
<path d="M577.5,492.7 L641,492.7 L641,492.7 L641.5,492.6 L642,492.4 L642.5,492.3 L643,492.2 L643.5,492 L644,492 L644.5,491.9 L645,491.7 L645.5,491.4 L646,491.1 L646.5,490.7 L647,490.1 L647.5,489.8 L648,489.7 L648.5,489.2 L649,488 L649.5,487.5 L650,487.8 L650.5,487.4 L651,487 L651.5,486.8 L652,486.1 L652.5,484.9 L653,483.4 L653.5,482.6 L654,482.7 L654.5,482.5 L655,481.9 L655.5,480.8 L656,480 L656.5,479.8 L657,479.2 L657.5,478.3 L658,477.5 L658.5,476.6 L659,475.4 L659.5,474.4 L660,473.7 L660.5,472.8 L661,472.8 L661.5,472.5 L662,471.2 L662.5,469.9 L663,468.6 L663.5,467.1 L664,466.2 L664.5,466.3 L665,466.3 L665.5,465.1 L666,463.6 L666.5,463.7 L667,464.4 L667.5,463.7 L668,462 L668.5,460.3 L669,458.8 L669.5,457.3 L670,457 L670.5,457.4 L671,456.6 L671.5,457 L672,458.3 L672.5,459.4 L673,459.6 L673.5,458 L674,456.8 L674.5,457.4 L675,457.6 L675.5,456.1 L676,454.7 L676.5,452.3 L677,450.9 L677.5,450.9 L678,450.6 L678.5,451.1 L679,450.8 L679.5,451.8 L680,453.3 L680.5,452.1 L681,450.6 L681.5,450.6 L682,450.7 L682.5,449.9 L683,449.2 L683.5,449.2 L684,449.8 L684.5,449.7 L685,450.8 L685.5,451.2 L686,451.3 L686.5,452.7 L687,454.2 L687.5,455.5 L688,456.1 L688.5,457 L689,458.9 L689.5,460.5 L690,461.3 L690.5,462.3 L691,463.9 L691.5,466.3 L692,468.4 L692.5,468.7 L693,469 L693.5,470.7 L694,472 L694.5,472.8 L695,474.7 L695.5,476.1 L696,477.2 L696.5,478.6 L697,479.4 L697.5,481.5 L698,484 L698.5,484.3 L699,483 L699.5,483.7 L700,485.9 L700.5,486.4 L701,486.3 L701.5,487.3 L702,488.6 L702.5,489.7 L703,490.3 L703.5,490.4 L704,490.8 L704.5,491.3 L705,491.5 L705.5,491.6 L706,492 L706.5,492.4 L707,492.7 L767,492.7 Z" fill="#1499cf" fill-opacity="0.6" stroke="none"/>
<line x1="577.5" y1="492.7" x2="767" y2="492.7" stroke="#1aa0d4" stroke-width="1" stroke-opacity="0.45"/>
<path d="M641,492.7 L641.5,492.6 L642,492.4 L642.5,492.3 L643,492.2 L643.5,492 L644,492 L644.5,491.9 L645,491.7 L645.5,491.4 L646,491.1 L646.5,490.7 L647,490.1 L647.5,489.8 L648,489.7 L648.5,489.2 L649,488 L649.5,487.5 L650,487.8 L650.5,487.4 L651,487 L651.5,486.8 L652,486.1 L652.5,484.9 L653,483.4 L653.5,482.6 L654,482.7 L654.5,482.5 L655,481.9 L655.5,480.8 L656,480 L656.5,479.8 L657,479.2 L657.5,478.3 L658,477.5 L658.5,476.6 L659,475.4 L659.5,474.4 L660,473.7 L660.5,472.8 L661,472.8 L661.5,472.5 L662,471.2 L662.5,469.9 L663,468.6 L663.5,467.1 L664,466.2 L664.5,466.3 L665,466.3 L665.5,465.1 L666,463.6 L666.5,463.7 L667,464.4 L667.5,463.7 L668,462 L668.5,460.3 L669,458.8 L669.5,457.3 L670,457 L670.5,457.4 L671,456.6 L671.5,457 L672,458.3 L672.5,459.4 L673,459.6 L673.5,458 L674,456.8 L674.5,457.4 L675,457.6 L675.5,456.1 L676,454.7 L676.5,452.3 L677,450.9 L677.5,450.9 L678,450.6 L678.5,451.1 L679,450.8 L679.5,451.8 L680,453.3 L680.5,452.1 L681,450.6 L681.5,450.6 L682,450.7 L682.5,449.9 L683,449.2 L683.5,449.2 L684,449.8 L684.5,449.7 L685,450.8 L685.5,451.2 L686,451.3 L686.5,452.7 L687,454.2 L687.5,455.5 L688,456.1 L688.5,457 L689,458.9 L689.5,460.5 L690,461.3 L690.5,462.3 L691,463.9 L691.5,466.3 L692,468.4 L692.5,468.7 L693,469 L693.5,470.7 L694,472 L694.5,472.8 L695,474.7 L695.5,476.1 L696,477.2 L696.5,478.6 L697,479.4 L697.5,481.5 L698,484 L698.5,484.3 L699,483 L699.5,483.7 L700,485.9 L700.5,486.4 L701,486.3 L701.5,487.3 L702,488.6 L702.5,489.7 L703,490.3 L703.5,490.4 L704,490.8 L704.5,491.3 L705,491.5 L705.5,491.6 L706,492 L706.5,492.4 L707,492.7" fill="none" stroke="#1aa0d4" stroke-width="0.9" stroke-opacity="0.9"/>
<path d="M577.5,518 L644,518 L644,518 L644.5,517.8 L645,517.7 L645.5,517.6 L646,517.5 L646.5,517.2 L647,516.9 L647.5,516.6 L648,516.1 L648.5,515.5 L649,514.9 L649.5,514.6 L650,514.5 L650.5,513.9 L651,513.5 L651.5,513.3 L652,513 L652.5,512.2 L653,511 L653.5,510 L654,509 L654.5,508.4 L655,509 L655.5,508.3 L656,507 L656.5,506.1 L657,504.3 L657.5,503.3 L658,503.2 L658.5,502.5 L659,502.5 L659.5,501.9 L660,499.6 L660.5,497.9 L661,497.6 L661.5,497.8 L662,497.9 L662.5,496.6 L663,494.6 L663.5,492.5 L664,491.1 L664.5,491.5 L665,491.1 L665.5,489.6 L666,489.6 L666.5,489.3 L667,487.9 L667.5,487.9 L668,488.1 L668.5,487.4 L669,485.7 L669.5,484.7 L670,484.7 L670.5,484.7 L671,483.7 L671.5,481.9 L672,481.9 L672.5,483 L673,482.5 L673.5,481.2 L674,481.1 L674.5,481.2 L675,480.1 L675.5,479.8 L676,480.7 L676.5,481.8 L677,482.4 L677.5,480.4 L678,477.9 L678.5,477.3 L679,477.1 L679.5,477.8 L680,478.1 L680.5,477.5 L681,478.3 L681.5,478.9 L682,478.8 L682.5,479.9 L683,480.1 L683.5,480.3 L684,480.5 L684.5,480.7 L685,481.4 L685.5,480.7 L686,479.8 L686.5,480.8 L687,482.5 L687.5,484.1 L688,485 L688.5,486.5 L689,488.1 L689.5,489.9 L690,491.5 L690.5,491.9 L691,492.3 L691.5,494.4 L692,496.5 L692.5,497.7 L693,500.1 L693.5,502.9 L694,504.8 L694.5,505.7 L695,507.1 L695.5,509.6 L696,511.4 L696.5,512 L697,513.1 L697.5,514.1 L698,515.1 L698.5,515.8 L699,516.4 L699.5,517.1 L700,518 L767,518 Z" fill="#df444b" fill-opacity="0.6" stroke="none"/>
<line x1="577.5" y1="518" x2="767" y2="518" stroke="#d8343e" stroke-width="1" stroke-opacity="0.45"/>
<path d="M644,518 L644.5,517.8 L645,517.7 L645.5,517.6 L646,517.5 L646.5,517.2 L647,516.9 L647.5,516.6 L648,516.1 L648.5,515.5 L649,514.9 L649.5,514.6 L650,514.5 L650.5,513.9 L651,513.5 L651.5,513.3 L652,513 L652.5,512.2 L653,511 L653.5,510 L654,509 L654.5,508.4 L655,509 L655.5,508.3 L656,507 L656.5,506.1 L657,504.3 L657.5,503.3 L658,503.2 L658.5,502.5 L659,502.5 L659.5,501.9 L660,499.6 L660.5,497.9 L661,497.6 L661.5,497.8 L662,497.9 L662.5,496.6 L663,494.6 L663.5,492.5 L664,491.1 L664.5,491.5 L665,491.1 L665.5,489.6 L666,489.6 L666.5,489.3 L667,487.9 L667.5,487.9 L668,488.1 L668.5,487.4 L669,485.7 L669.5,484.7 L670,484.7 L670.5,484.7 L671,483.7 L671.5,481.9 L672,481.9 L672.5,483 L673,482.5 L673.5,481.2 L674,481.1 L674.5,481.2 L675,480.1 L675.5,479.8 L676,480.7 L676.5,481.8 L677,482.4 L677.5,480.4 L678,477.9 L678.5,477.3 L679,477.1 L679.5,477.8 L680,478.1 L680.5,477.5 L681,478.3 L681.5,478.9 L682,478.8 L682.5,479.9 L683,480.1 L683.5,480.3 L684,480.5 L684.5,480.7 L685,481.4 L685.5,480.7 L686,479.8 L686.5,480.8 L687,482.5 L687.5,484.1 L688,485 L688.5,486.5 L689,488.1 L689.5,489.9 L690,491.5 L690.5,491.9 L691,492.3 L691.5,494.4 L692,496.5 L692.5,497.7 L693,500.1 L693.5,502.9 L694,504.8 L694.5,505.7 L695,507.1 L695.5,509.6 L696,511.4 L696.5,512 L697,513.1 L697.5,514.1 L698,515.1 L698.5,515.8 L699,516.4 L699.5,517.1 L700,518" fill="none" stroke="#d8343e" stroke-width="0.9" stroke-opacity="0.9"/>
<line x1="674.4" y1="327.3" x2="674.4" y2="517.8" stroke="#111" stroke-width="1.4" stroke-dasharray="14.9,8.1" stroke-dashoffset="8.2"/>
<text x="578.3" y="381.8" font-size="13.5" fill="#111" text-anchor="start" font-weight="bold" stroke="#111" stroke-width="0.3" >Chloramphenicol</text>
<text x="578.3" y="408.5" font-size="13.5" fill="#111" text-anchor="start" font-weight="bold" stroke="#111" stroke-width="0.3" >Cytochalasin</text>
<text x="578.3" y="436" font-size="13.5" fill="#111" text-anchor="start" font-weight="bold" stroke="#111" stroke-width="0.3" >Wortmannin</text>
<text x="578.3" y="463" font-size="13.5" fill="#111" text-anchor="start" font-weight="bold" stroke="#111" stroke-width="0.3" >Filipin</text>
<text x="578.3" y="490" font-size="13.5" fill="#111" text-anchor="start" font-weight="bold" stroke="#111" stroke-width="0.3" >Genistein</text>
<text x="578.3" y="514.5" font-size="13.5" fill="#111" text-anchor="start" font-weight="bold" stroke="#111" stroke-width="0.3" >Control</text>
<rect x="577.5" y="327.3" width="189.5" height="190.5" fill="none" stroke="#111" stroke-width="1.7"/>
<line x1="577.5" y1="517.8" x2="577.5" y2="522.6" stroke="#111" stroke-width="1.6"/>
<line x1="591.6" y1="517.8" x2="591.6" y2="521.2" stroke="#333" stroke-width="0.9"/>
<line x1="599.9" y1="517.8" x2="599.9" y2="521.2" stroke="#333" stroke-width="0.9"/>
<line x1="605.8" y1="517.8" x2="605.8" y2="521.2" stroke="#333" stroke-width="0.9"/>
<line x1="610.3" y1="517.8" x2="610.3" y2="521.2" stroke="#333" stroke-width="0.9"/>
<line x1="614.1" y1="517.8" x2="614.1" y2="521.2" stroke="#333" stroke-width="0.9"/>
<line x1="617.2" y1="517.8" x2="617.2" y2="521.2" stroke="#333" stroke-width="0.9"/>
<line x1="619.9" y1="517.8" x2="619.9" y2="521.2" stroke="#333" stroke-width="0.9"/>
<line x1="622.3" y1="517.8" x2="622.3" y2="521.2" stroke="#333" stroke-width="0.9"/>
<text x="568.6" y="535.9" font-size="14.5" font-weight="bold" fill="#111" textLength="15.3" lengthAdjust="spacingAndGlyphs">10</text>
<text x="582.9" y="527.7" font-size="8.6" font-weight="bold" fill="#111">0</text>
<line x1="624.5" y1="517.8" x2="624.5" y2="522.6" stroke="#111" stroke-width="1.6"/>
<line x1="638.6" y1="517.8" x2="638.6" y2="521.2" stroke="#333" stroke-width="0.9"/>
<line x1="646.9" y1="517.8" x2="646.9" y2="521.2" stroke="#333" stroke-width="0.9"/>
<line x1="652.8" y1="517.8" x2="652.8" y2="521.2" stroke="#333" stroke-width="0.9"/>
<line x1="657.3" y1="517.8" x2="657.3" y2="521.2" stroke="#333" stroke-width="0.9"/>
<line x1="661" y1="517.8" x2="661" y2="521.2" stroke="#333" stroke-width="0.9"/>
<line x1="664.2" y1="517.8" x2="664.2" y2="521.2" stroke="#333" stroke-width="0.9"/>
<line x1="666.9" y1="517.8" x2="666.9" y2="521.2" stroke="#333" stroke-width="0.9"/>
<line x1="669.3" y1="517.8" x2="669.3" y2="521.2" stroke="#333" stroke-width="0.9"/>
<text x="615.6" y="535.9" font-size="14.5" font-weight="bold" fill="#111" textLength="15.3" lengthAdjust="spacingAndGlyphs">10</text>
<text x="629.9" y="527.7" font-size="8.6" font-weight="bold" fill="#111">1</text>
<line x1="671.5" y1="517.8" x2="671.5" y2="522.6" stroke="#111" stroke-width="1.6"/>
<line x1="685.6" y1="517.8" x2="685.6" y2="521.2" stroke="#333" stroke-width="0.9"/>
<line x1="693.9" y1="517.8" x2="693.9" y2="521.2" stroke="#333" stroke-width="0.9"/>
<line x1="699.7" y1="517.8" x2="699.7" y2="521.2" stroke="#333" stroke-width="0.9"/>
<line x1="704.3" y1="517.8" x2="704.3" y2="521.2" stroke="#333" stroke-width="0.9"/>
<line x1="708" y1="517.8" x2="708" y2="521.2" stroke="#333" stroke-width="0.9"/>
<line x1="711.1" y1="517.8" x2="711.1" y2="521.2" stroke="#333" stroke-width="0.9"/>
<line x1="713.9" y1="517.8" x2="713.9" y2="521.2" stroke="#333" stroke-width="0.9"/>
<line x1="716.3" y1="517.8" x2="716.3" y2="521.2" stroke="#333" stroke-width="0.9"/>
<text x="662.6" y="535.9" font-size="14.5" font-weight="bold" fill="#111" textLength="15.3" lengthAdjust="spacingAndGlyphs">10</text>
<text x="676.9" y="527.7" font-size="8.6" font-weight="bold" fill="#111">2</text>
<line x1="718.4" y1="517.8" x2="718.4" y2="522.6" stroke="#111" stroke-width="1.6"/>
<line x1="732.6" y1="517.8" x2="732.6" y2="521.2" stroke="#333" stroke-width="0.9"/>
<line x1="740.8" y1="517.8" x2="740.8" y2="521.2" stroke="#333" stroke-width="0.9"/>
<line x1="746.7" y1="517.8" x2="746.7" y2="521.2" stroke="#333" stroke-width="0.9"/>
<line x1="751.3" y1="517.8" x2="751.3" y2="521.2" stroke="#333" stroke-width="0.9"/>
<line x1="755" y1="517.8" x2="755" y2="521.2" stroke="#333" stroke-width="0.9"/>
<line x1="758.1" y1="517.8" x2="758.1" y2="521.2" stroke="#333" stroke-width="0.9"/>
<line x1="760.8" y1="517.8" x2="760.8" y2="521.2" stroke="#333" stroke-width="0.9"/>
<line x1="763.3" y1="517.8" x2="763.3" y2="521.2" stroke="#333" stroke-width="0.9"/>
<text x="709.5" y="535.9" font-size="14.5" font-weight="bold" fill="#111" textLength="15.3" lengthAdjust="spacingAndGlyphs">10</text>
<text x="723.8" y="527.7" font-size="8.6" font-weight="bold" fill="#111">3</text>
<line x1="765.4" y1="517.8" x2="765.4" y2="522.6" stroke="#111" stroke-width="1.6"/>
<text x="756.5" y="535.9" font-size="14.5" font-weight="bold" fill="#111" textLength="15.3" lengthAdjust="spacingAndGlyphs">10</text>
<text x="770.8" y="527.7" font-size="8.6" font-weight="bold" fill="#111">4</text>
<text x="6" y="579" font-size="22" fill="#000" text-anchor="start" font-weight="bold" stroke="#000" stroke-width="0.3" >F</text>
<rect x="28.2" y="559.3" width="240.2" height="24.4" fill="#c5d9f0" />
<text x="149.2" y="578.9" font-size="15.5" fill="#111" text-anchor="middle" font-weight="bold" stroke="#111" stroke-width="0.3" >0.5h</text>
<g clip-path="url(#c16)"><rect x="109" y="585.5" width="159.4" height="158" fill="#0a0304" /><g transform="translate(109 585.5)"><g filter="url(#rtex)"><ellipse cx="79" cy="40" rx="15" ry="15" fill="#b4161f" fill-opacity="0.5"/><ellipse cx="72" cy="46" rx="17" ry="9" fill="#b4161f" fill-opacity="0.3"/><ellipse cx="86" cy="44" rx="7" ry="9" fill="#b4161f" fill-opacity="0.4"/><ellipse cx="38" cy="31" rx="15" ry="18" fill="#b4161f" fill-opacity="0.1"/><ellipse cx="133" cy="48" rx="9" ry="50" fill="#b4161f" transform="rotate(20 133 48)" fill-opacity="0.3"/><ellipse cx="131" cy="46" rx="13" ry="17" fill="#b4161f" transform="rotate(20 131 46)" fill-opacity="0.3"/><ellipse cx="84" cy="88" rx="3" ry="15" fill="#b4161f" transform="rotate(35 84 88)" fill-opacity="0.4"/><ellipse cx="61" cy="123" rx="19" ry="23" fill="#b4161f" fill-opacity="0.6"/><ellipse cx="48" cy="128" rx="8" ry="13" fill="#b4161f" fill-opacity="0.4"/><ellipse cx="35" cy="145" rx="10" ry="14" fill="#b4161f" fill-opacity="0.4"/><ellipse cx="40" cy="118" rx="3" ry="14" fill="#b4161f" transform="rotate(-30 40 118)" fill-opacity="0.2"/><ellipse cx="150" cy="5" rx="10" ry="10" fill="#b4161f" fill-opacity="0.2"/><ellipse cx="118" cy="90" rx="8" ry="14" fill="#b4161f" transform="rotate(20 118 90)" fill-opacity="0.2"/></g><circle cx="116.6" cy="54.8" r="1.9" fill="#e02030" fill-opacity="0.45" filter="url(#b06)"/><circle cx="118.6" cy="51.6" r="1.4" fill="#e02030" fill-opacity="0.45" filter="url(#b06)"/><circle cx="123" cy="38" r="1.2" fill="#e02030" fill-opacity="0.45" filter="url(#b06)"/><circle cx="125.6" cy="59.3" r="1.3" fill="#e02030" fill-opacity="0.45" filter="url(#b06)"/><circle cx="130.8" cy="56.8" r="1.3" fill="#e02030" fill-opacity="0.45" filter="url(#b06)"/><circle cx="134.6" cy="54.8" r="1.2" fill="#e02030" fill-opacity="0.45" filter="url(#b06)"/><circle cx="141" cy="40.7" r="1.3" fill="#e02030" fill-opacity="0.45" filter="url(#b06)"/><circle cx="145.6" cy="33.6" r="1.4" fill="#e02030" fill-opacity="0.45" filter="url(#b06)"/><circle cx="145" cy="27.8" r="1.2" fill="#e02030" fill-opacity="0.45" filter="url(#b06)"/><circle cx="120.5" cy="42" r="1.1" fill="#e02030" fill-opacity="0.45" filter="url(#b06)"/><circle cx="49" cy="131" r="1.9" fill="#e02030" fill-opacity="0.45" filter="url(#b06)"/><circle cx="54" cy="138.7" r="1.3" fill="#e02030" fill-opacity="0.45" filter="url(#b06)"/><circle cx="63" cy="138.7" r="1.9" fill="#e02030" fill-opacity="0.45" filter="url(#b06)"/><circle cx="51.5" cy="124" r="1.2" fill="#e02030" fill-opacity="0.45" filter="url(#b06)"/><circle cx="59" cy="111.7" r="1.1" fill="#e02030" fill-opacity="0.45" filter="url(#b06)"/><circle cx="82" cy="45" r="0.8" fill="#e02030" fill-opacity="0.45" filter="url(#b06)"/><circle cx="86" cy="35" r="0.8" fill="#e02030" fill-opacity="0.45" filter="url(#b06)"/><circle cx="129.3" cy="60.4" r="1" fill="#e02030" fill-opacity="0.45" filter="url(#b06)"/><circle cx="134" cy="55.1" r="1" fill="#e02030" fill-opacity="0.45" filter="url(#b06)"/><circle cx="140.8" cy="51.6" r="0.6" fill="#e02030" fill-opacity="0.45" filter="url(#b06)"/><circle cx="127.4" cy="35.9" r="0.6" fill="#e02030" fill-opacity="0.45" filter="url(#b06)"/><circle cx="125.4" cy="48.9" r="0.7" fill="#e02030" fill-opacity="0.45" filter="url(#b06)"/><circle cx="130.3" cy="56.3" r="0.8" fill="#e02030" fill-opacity="0.45" filter="url(#b06)"/><circle cx="123.6" cy="45.6" r="0.8" fill="#e02030" fill-opacity="0.45" filter="url(#b06)"/><circle cx="135.3" cy="55.4" r="0.9" fill="#e02030" fill-opacity="0.45" filter="url(#b06)"/><circle cx="121.8" cy="49.2" r="0.6" fill="#e02030" fill-opacity="0.45" filter="url(#b06)"/><circle cx="125" cy="44.8" r="0.6" fill="#e02030" fill-opacity="0.45" filter="url(#b06)"/><circle cx="67.1" cy="116.1" r="0.9" fill="#e02030" fill-opacity="0.45" filter="url(#b06)"/><circle cx="58.8" cy="110.2" r="0.6" fill="#e02030" fill-opacity="0.45" filter="url(#b06)"/><circle cx="50.2" cy="116.9" r="0.6" fill="#e02030" fill-opacity="0.45" filter="url(#b06)"/><circle cx="53.9" cy="114.7" r="0.9" fill="#e02030" fill-opacity="0.45" filter="url(#b06)"/><circle cx="52.7" cy="120.8" r="0.9" fill="#e02030" fill-opacity="0.45" filter="url(#b06)"/><circle cx="67.7" cy="120.5" r="1" fill="#e02030" fill-opacity="0.45" filter="url(#b06)"/><circle cx="45.7" cy="131" r="0.7" fill="#e02030" fill-opacity="0.45" filter="url(#b06)"/><circle cx="67.4" cy="139.4" r="0.6" fill="#e02030" fill-opacity="0.45" filter="url(#b06)"/><circle cx="65.4" cy="136.6" r="0.6" fill="#e02030" fill-opacity="0.45" filter="url(#b06)"/><circle cx="53.7" cy="112.1" r="0.9" fill="#e02030" fill-opacity="0.45" filter="url(#b06)"/><g filter="url(#ntex)" opacity="0.72"><path d="M50,17 Q42,13 35,15 Q27,19 26,31 Q26,42 32,46.5 Q38,49 44,45 Q42,41 43,36 Q44,30 47,27 Q51,24 50,17 Z" fill="url(#nucg)" /><ellipse cx="67" cy="35.5" rx="14.5" ry="10.3" fill="url(#nucg)" transform="rotate(-8 67 35.5)" /><ellipse cx="133" cy="42.5" rx="10" ry="15" fill="url(#nucg)" transform="rotate(20 133 42.5)"  opacity="0.4"/><ellipse cx="65" cy="125.8" rx="12.2" ry="10.3" fill="url(#nucg)" /><ellipse cx="35" cy="149" rx="6" ry="9" fill="url(#nucg)" /></g><circle cx="116.6" cy="54.8" r="1.5" fill="#f0d850" fill-opacity="0.9" filter="url(#b06)"/><circle cx="118.6" cy="51.6" r="1.1" fill="#f0d850" fill-opacity="0.9" filter="url(#b06)"/><circle cx="123" cy="38" r="0.9" fill="#f0d850" fill-opacity="0.9" filter="url(#b06)"/><circle cx="125.6" cy="59.3" r="1" fill="#f0d850" fill-opacity="0.9" filter="url(#b06)"/><circle cx="130.8" cy="56.8" r="1" fill="#f0d850" fill-opacity="0.9" filter="url(#b06)"/><circle cx="134.6" cy="54.8" r="0.9" fill="#f0d850" fill-opacity="0.9" filter="url(#b06)"/><circle cx="141" cy="40.7" r="1" fill="#f0d850" fill-opacity="0.9" filter="url(#b06)"/><circle cx="145.6" cy="33.6" r="1.1" fill="#f0d850" fill-opacity="0.9" filter="url(#b06)"/><circle cx="145" cy="27.8" r="0.9" fill="#f0d850" fill-opacity="0.9" filter="url(#b06)"/><circle cx="120.5" cy="42" r="0.9" fill="#f0d850" fill-opacity="0.9" filter="url(#b06)"/><circle cx="49" cy="131" r="1.5" fill="#f0d850" fill-opacity="0.9" filter="url(#b06)"/><circle cx="54" cy="138.7" r="1" fill="#f0d850" fill-opacity="0.9" filter="url(#b06)"/><circle cx="63" cy="138.7" r="1.5" fill="#f0d850" fill-opacity="0.9" filter="url(#b06)"/><circle cx="51.5" cy="124" r="0.9" fill="#f0d850" fill-opacity="0.9" filter="url(#b06)"/><circle cx="59" cy="111.7" r="0.9" fill="#f0d850" fill-opacity="0.9" filter="url(#b06)"/><circle cx="82" cy="45" r="0.7" fill="#f0d850" fill-opacity="0.9" filter="url(#b06)"/><circle cx="86" cy="35" r="0.7" fill="#f0d850" fill-opacity="0.9" filter="url(#b06)"/><circle cx="129.3" cy="60.4" r="0.8" fill="#48dc48" fill-opacity="0.9" filter="url(#b06)"/><circle cx="134" cy="55.1" r="0.8" fill="#f0d850" fill-opacity="0.9" filter="url(#b06)"/><circle cx="140.8" cy="51.6" r="0.5" fill="#f0d850" fill-opacity="0.9" filter="url(#b06)"/><circle cx="127.4" cy="35.9" r="0.5" fill="#f0d850" fill-opacity="0.9" filter="url(#b06)"/><circle cx="125.4" cy="48.9" r="0.6" fill="#48dc48" fill-opacity="0.9" filter="url(#b06)"/><circle cx="130.3" cy="56.3" r="0.6" fill="#48dc48" fill-opacity="0.9" filter="url(#b06)"/><circle cx="123.6" cy="45.6" r="0.6" fill="#48dc48" fill-opacity="0.9" filter="url(#b06)"/><circle cx="135.3" cy="55.4" r="0.7" fill="#f0d850" fill-opacity="0.9" filter="url(#b06)"/><circle cx="121.8" cy="49.2" r="0.5" fill="#f0d850" fill-opacity="0.9" filter="url(#b06)"/><circle cx="125" cy="44.8" r="0.5" fill="#f0d850" fill-opacity="0.9" filter="url(#b06)"/><circle cx="67.1" cy="116.1" r="0.7" fill="#48dc48" fill-opacity="0.9" filter="url(#b06)"/><circle cx="58.8" cy="110.2" r="0.5" fill="#48dc48" fill-opacity="0.9" filter="url(#b06)"/><circle cx="50.2" cy="116.9" r="0.5" fill="#f0d850" fill-opacity="0.9" filter="url(#b06)"/><circle cx="53.9" cy="114.7" r="0.7" fill="#f0d850" fill-opacity="0.9" filter="url(#b06)"/><circle cx="52.7" cy="120.8" r="0.7" fill="#48dc48" fill-opacity="0.9" filter="url(#b06)"/><circle cx="67.7" cy="120.5" r="0.8" fill="#f0d850" fill-opacity="0.9" filter="url(#b06)"/><circle cx="45.7" cy="131" r="0.5" fill="#f0d850" fill-opacity="0.9" filter="url(#b06)"/><circle cx="67.4" cy="139.4" r="0.5" fill="#f0d850" fill-opacity="0.9" filter="url(#b06)"/><circle cx="65.4" cy="136.6" r="0.5" fill="#f0d850" fill-opacity="0.9" filter="url(#b06)"/><circle cx="53.7" cy="112.1" r="0.7" fill="#f0d850" fill-opacity="0.9" filter="url(#b06)"/></g></g>
<g clip-path="url(#c17)"><rect x="28.2" y="585.5" width="78.3" height="77.7" fill="#0a0304" /><g transform="translate(28.2 585.5) scale(0.4912)"><g filter="url(#rtex)"><ellipse cx="79" cy="40" rx="15" ry="15" fill="#b4161f" fill-opacity="0.5"/><ellipse cx="72" cy="46" rx="17" ry="9" fill="#b4161f" fill-opacity="0.3"/><ellipse cx="86" cy="44" rx="7" ry="9" fill="#b4161f" fill-opacity="0.4"/><ellipse cx="38" cy="31" rx="15" ry="18" fill="#b4161f" fill-opacity="0.1"/><ellipse cx="133" cy="48" rx="9" ry="50" fill="#b4161f" transform="rotate(20 133 48)" fill-opacity="0.3"/><ellipse cx="131" cy="46" rx="13" ry="17" fill="#b4161f" transform="rotate(20 131 46)" fill-opacity="0.3"/><ellipse cx="84" cy="88" rx="3" ry="15" fill="#b4161f" transform="rotate(35 84 88)" fill-opacity="0.4"/><ellipse cx="61" cy="123" rx="19" ry="23" fill="#b4161f" fill-opacity="0.6"/><ellipse cx="48" cy="128" rx="8" ry="13" fill="#b4161f" fill-opacity="0.4"/><ellipse cx="35" cy="145" rx="10" ry="14" fill="#b4161f" fill-opacity="0.4"/><ellipse cx="40" cy="118" rx="3" ry="14" fill="#b4161f" transform="rotate(-30 40 118)" fill-opacity="0.2"/><ellipse cx="150" cy="5" rx="10" ry="10" fill="#b4161f" fill-opacity="0.2"/><ellipse cx="118" cy="90" rx="8" ry="14" fill="#b4161f" transform="rotate(20 118 90)" fill-opacity="0.2"/></g><circle cx="116.6" cy="54.8" r="1.9" fill="#e02030" fill-opacity="0.45" filter="url(#b06)"/><circle cx="118.6" cy="51.6" r="1.4" fill="#e02030" fill-opacity="0.45" filter="url(#b06)"/><circle cx="123" cy="38" r="1.2" fill="#e02030" fill-opacity="0.45" filter="url(#b06)"/><circle cx="125.6" cy="59.3" r="1.3" fill="#e02030" fill-opacity="0.45" filter="url(#b06)"/><circle cx="130.8" cy="56.8" r="1.3" fill="#e02030" fill-opacity="0.45" filter="url(#b06)"/><circle cx="134.6" cy="54.8" r="1.2" fill="#e02030" fill-opacity="0.45" filter="url(#b06)"/><circle cx="141" cy="40.7" r="1.3" fill="#e02030" fill-opacity="0.45" filter="url(#b06)"/><circle cx="145.6" cy="33.6" r="1.4" fill="#e02030" fill-opacity="0.45" filter="url(#b06)"/><circle cx="145" cy="27.8" r="1.2" fill="#e02030" fill-opacity="0.45" filter="url(#b06)"/><circle cx="120.5" cy="42" r="1.1" fill="#e02030" fill-opacity="0.45" filter="url(#b06)"/><circle cx="49" cy="131" r="1.9" fill="#e02030" fill-opacity="0.45" filter="url(#b06)"/><circle cx="54" cy="138.7" r="1.3" fill="#e02030" fill-opacity="0.45" filter="url(#b06)"/><circle cx="63" cy="138.7" r="1.9" fill="#e02030" fill-opacity="0.45" filter="url(#b06)"/><circle cx="51.5" cy="124" r="1.2" fill="#e02030" fill-opacity="0.45" filter="url(#b06)"/><circle cx="59" cy="111.7" r="1.1" fill="#e02030" fill-opacity="0.45" filter="url(#b06)"/><circle cx="82" cy="45" r="0.8" fill="#e02030" fill-opacity="0.45" filter="url(#b06)"/><circle cx="86" cy="35" r="0.8" fill="#e02030" fill-opacity="0.45" filter="url(#b06)"/><circle cx="129.3" cy="60.4" r="1" fill="#e02030" fill-opacity="0.45" filter="url(#b06)"/><circle cx="134" cy="55.1" r="1" fill="#e02030" fill-opacity="0.45" filter="url(#b06)"/><circle cx="140.8" cy="51.6" r="0.6" fill="#e02030" fill-opacity="0.45" filter="url(#b06)"/><circle cx="127.4" cy="35.9" r="0.6" fill="#e02030" fill-opacity="0.45" filter="url(#b06)"/><circle cx="125.4" cy="48.9" r="0.7" fill="#e02030" fill-opacity="0.45" filter="url(#b06)"/><circle cx="130.3" cy="56.3" r="0.8" fill="#e02030" fill-opacity="0.45" filter="url(#b06)"/><circle cx="123.6" cy="45.6" r="0.8" fill="#e02030" fill-opacity="0.45" filter="url(#b06)"/><circle cx="135.3" cy="55.4" r="0.9" fill="#e02030" fill-opacity="0.45" filter="url(#b06)"/><circle cx="121.8" cy="49.2" r="0.6" fill="#e02030" fill-opacity="0.45" filter="url(#b06)"/><circle cx="125" cy="44.8" r="0.6" fill="#e02030" fill-opacity="0.45" filter="url(#b06)"/><circle cx="67.1" cy="116.1" r="0.9" fill="#e02030" fill-opacity="0.45" filter="url(#b06)"/><circle cx="58.8" cy="110.2" r="0.6" fill="#e02030" fill-opacity="0.45" filter="url(#b06)"/><circle cx="50.2" cy="116.9" r="0.6" fill="#e02030" fill-opacity="0.45" filter="url(#b06)"/><circle cx="53.9" cy="114.7" r="0.9" fill="#e02030" fill-opacity="0.45" filter="url(#b06)"/><circle cx="52.7" cy="120.8" r="0.9" fill="#e02030" fill-opacity="0.45" filter="url(#b06)"/><circle cx="67.7" cy="120.5" r="1" fill="#e02030" fill-opacity="0.45" filter="url(#b06)"/><circle cx="45.7" cy="131" r="0.7" fill="#e02030" fill-opacity="0.45" filter="url(#b06)"/><circle cx="67.4" cy="139.4" r="0.6" fill="#e02030" fill-opacity="0.45" filter="url(#b06)"/><circle cx="65.4" cy="136.6" r="0.6" fill="#e02030" fill-opacity="0.45" filter="url(#b06)"/><circle cx="53.7" cy="112.1" r="0.9" fill="#e02030" fill-opacity="0.45" filter="url(#b06)"/><path d="M50,17 Q42,13 35,15 Q27,19 26,31 Q26,42 32,46.5 Q38,49 44,45 Q42,41 43,36 Q44,30 47,27 Q51,24 50,17 Z" fill="#0a0304" fill-opacity="0.8" filter="url(#b1)"/><ellipse cx="67" cy="35.5" rx="13.1" ry="9.3" fill="#0a0304" transform="rotate(-8 67 35.5)" fill-opacity="0.8" filter="url(#b1)"/><ellipse cx="133" cy="42.5" rx="9" ry="13.5" fill="#0a0304" transform="rotate(20 133 42.5)" fill-opacity="0.8" filter="url(#b1)"/><ellipse cx="65" cy="125.8" rx="11" ry="9.3" fill="#0a0304" fill-opacity="0.8" filter="url(#b1)"/><ellipse cx="35" cy="149" rx="5.4" ry="8.1" fill="#0a0304" fill-opacity="0.8" filter="url(#b1)"/></g></g>
<g clip-path="url(#c18)"><rect x="28.2" y="665.6" width="78.3" height="77.9" fill="#0a0304" /><g transform="translate(28.2 665.6) scale(0.4912)"><circle cx="116.6" cy="54.8" r="2.1" fill="#3cd23c" fill-opacity="0.55" filter="url(#b06)"/><circle cx="118.6" cy="51.6" r="1.6" fill="#3cd23c" fill-opacity="0.55" filter="url(#b06)"/><circle cx="123" cy="38" r="1.3" fill="#3cd23c" fill-opacity="0.55" filter="url(#b06)"/><circle cx="125.6" cy="59.3" r="1.4" fill="#3cd23c" fill-opacity="0.55" filter="url(#b06)"/><circle cx="130.8" cy="56.8" r="1.4" fill="#3cd23c" fill-opacity="0.55" filter="url(#b06)"/><circle cx="134.6" cy="54.8" r="1.3" fill="#3cd23c" fill-opacity="0.55" filter="url(#b06)"/><circle cx="141" cy="40.7" r="1.4" fill="#3cd23c" fill-opacity="0.55" filter="url(#b06)"/><circle cx="145.6" cy="33.6" r="1.6" fill="#3cd23c" fill-opacity="0.55" filter="url(#b06)"/><circle cx="145" cy="27.8" r="1.3" fill="#3cd23c" fill-opacity="0.55" filter="url(#b06)"/><circle cx="120.5" cy="42" r="1.2" fill="#3cd23c" fill-opacity="0.55" filter="url(#b06)"/><circle cx="49" cy="131" r="2.1" fill="#3cd23c" fill-opacity="0.55" filter="url(#b06)"/><circle cx="54" cy="138.7" r="1.4" fill="#3cd23c" fill-opacity="0.55" filter="url(#b06)"/><circle cx="63" cy="138.7" r="2.1" fill="#3cd23c" fill-opacity="0.55" filter="url(#b06)"/><circle cx="51.5" cy="124" r="1.3" fill="#3cd23c" fill-opacity="0.55" filter="url(#b06)"/><circle cx="59" cy="111.7" r="1.2" fill="#3cd23c" fill-opacity="0.55" filter="url(#b06)"/><circle cx="82" cy="45" r="0.9" fill="#3cd23c" fill-opacity="0.55" filter="url(#b06)"/><circle cx="86" cy="35" r="0.9" fill="#3cd23c" fill-opacity="0.55" filter="url(#b06)"/><circle cx="129.3" cy="60.4" r="1.1" fill="#3cd23c" fill-opacity="0.55" filter="url(#b06)"/><circle cx="134" cy="55.1" r="1.1" fill="#3cd23c" fill-opacity="0.55" filter="url(#b06)"/><circle cx="140.8" cy="51.6" r="0.7" fill="#3cd23c" fill-opacity="0.55" filter="url(#b06)"/><circle cx="127.4" cy="35.9" r="0.7" fill="#3cd23c" fill-opacity="0.55" filter="url(#b06)"/><circle cx="125.4" cy="48.9" r="0.8" fill="#3cd23c" fill-opacity="0.55" filter="url(#b06)"/><circle cx="130.3" cy="56.3" r="0.9" fill="#3cd23c" fill-opacity="0.55" filter="url(#b06)"/><circle cx="123.6" cy="45.6" r="0.8" fill="#3cd23c" fill-opacity="0.55" filter="url(#b06)"/><circle cx="135.3" cy="55.4" r="1" fill="#3cd23c" fill-opacity="0.55" filter="url(#b06)"/><circle cx="121.8" cy="49.2" r="0.7" fill="#3cd23c" fill-opacity="0.55" filter="url(#b06)"/><circle cx="125" cy="44.8" r="0.7" fill="#3cd23c" fill-opacity="0.55" filter="url(#b06)"/><circle cx="67.1" cy="116.1" r="0.9" fill="#3cd23c" fill-opacity="0.55" filter="url(#b06)"/><circle cx="58.8" cy="110.2" r="0.7" fill="#3cd23c" fill-opacity="0.55" filter="url(#b06)"/><circle cx="50.2" cy="116.9" r="0.7" fill="#3cd23c" fill-opacity="0.55" filter="url(#b06)"/><circle cx="53.9" cy="114.7" r="0.9" fill="#3cd23c" fill-opacity="0.55" filter="url(#b06)"/><circle cx="52.7" cy="120.8" r="0.9" fill="#3cd23c" fill-opacity="0.55" filter="url(#b06)"/><circle cx="67.7" cy="120.5" r="1.1" fill="#3cd23c" fill-opacity="0.55" filter="url(#b06)"/><circle cx="45.7" cy="131" r="0.7" fill="#3cd23c" fill-opacity="0.55" filter="url(#b06)"/><circle cx="67.4" cy="139.4" r="0.7" fill="#3cd23c" fill-opacity="0.55" filter="url(#b06)"/><circle cx="65.4" cy="136.6" r="0.7" fill="#3cd23c" fill-opacity="0.55" filter="url(#b06)"/><circle cx="53.7" cy="112.1" r="1" fill="#3cd23c" fill-opacity="0.55" filter="url(#b06)"/></g></g>
<text x="30.2" y="596.6" font-size="10.5" fill="#c82038" text-anchor="start" font-weight="bold" >Cy5.5</text>
<text x="30.2" y="676.7" font-size="10.5" fill="#46b446" text-anchor="start" font-weight="bold" >Lyso</text>
<text x="111.5" y="596.6" font-size="10.5" fill="#e6e232" text-anchor="start" font-weight="bold" >Merge</text>
<rect x="278.1" y="559.3" width="240.4" height="24.4" fill="#c5d9f0" />
<text x="400.6" y="578.9" font-size="15.5" fill="#111" text-anchor="middle" font-weight="bold" stroke="#111" stroke-width="0.3" >1h</text>
<g clip-path="url(#c19)"><rect x="357.7" y="585.5" width="160.8" height="158" fill="#0a0304" /><g transform="translate(357.7 585.5)"><g filter="url(#rtex)"><ellipse cx="55" cy="27" rx="8" ry="10" fill="#b4161f" fill-opacity="0.5"/><ellipse cx="31" cy="47" rx="12" ry="8" fill="#b4161f" fill-opacity="0.6"/><ellipse cx="80" cy="71" rx="12" ry="6" fill="#b4161f" transform="rotate(-10 80 71)" fill-opacity="0.5"/><ellipse cx="128" cy="37" rx="7" ry="22" fill="#b4161f" fill-opacity="0.6"/><ellipse cx="131" cy="17" rx="9" ry="5" fill="#b4161f" fill-opacity="0.4"/><ellipse cx="143" cy="89" rx="8" ry="13" fill="#b4161f" fill-opacity="0.6"/><ellipse cx="46" cy="138" rx="12" ry="9" fill="#b4161f" fill-opacity="0.6"/><ellipse cx="40" cy="124" rx="5" ry="10" fill="#b4161f" fill-opacity="0.4"/><ellipse cx="138" cy="135" rx="15" ry="6" fill="#b4161f" fill-opacity="0.3"/><ellipse cx="152" cy="35" rx="5" ry="13" fill="#b4161f" fill-opacity="0.3"/><ellipse cx="22" cy="32" rx="4" ry="4" fill="#b4161f" fill-opacity="0.3"/><ellipse cx="37" cy="28.6" rx="16" ry="11" fill="none" transform="rotate(-15 37 28.6)" stroke="#b4161f" stroke-width="4" stroke-opacity="0.2"/><ellipse cx="15.5" cy="56.6" rx="15" ry="15" fill="none" stroke="#b4161f" stroke-width="4" stroke-opacity="0.2"/><ellipse cx="84.5" cy="61.5" rx="16" ry="11.5" fill="none" transform="rotate(-12 84.5 61.5)" stroke="#b4161f" stroke-width="4" stroke-opacity="0.2"/><ellipse cx="112" cy="44.9" rx="12.5" ry="17.8" fill="none" stroke="#b4161f" stroke-width="4" stroke-opacity="0.2"/><ellipse cx="143" cy="32.3" rx="14" ry="15.8" fill="none" stroke="#b4161f" stroke-width="4" stroke-opacity="0.2"/><ellipse cx="127.3" cy="91.7" rx="14" ry="14" fill="none" stroke="#b4161f" stroke-width="4" stroke-opacity="0.2"/><ellipse cx="140.3" cy="121.8" rx="16" ry="13.6" fill="none" stroke="#b4161f" stroke-width="4" stroke-opacity="0.2"/><ellipse cx="56" cy="126.4" rx="14.4" ry="19" fill="none" transform="rotate(8 56 126.4)" stroke="#b4161f" stroke-width="4" stroke-opacity="0.2"/></g><circle cx="22.5" cy="30.4" r="1.9" fill="#e02030" fill-opacity="0.45" filter="url(#b06)"/><circle cx="48.2" cy="19" r="1.2" fill="#e02030" fill-opacity="0.45" filter="url(#b06)"/><circle cx="52.8" cy="24.7" r="1.1" fill="#e02030" fill-opacity="0.45" filter="url(#b06)"/><circle cx="29.2" cy="42.8" r="1.2" fill="#e02030" fill-opacity="0.45" filter="url(#b06)"/><circle cx="33.3" cy="49" r="1.2" fill="#e02030" fill-opacity="0.45" filter="url(#b06)"/><circle cx="30.2" cy="52" r="1.1" fill="#e02030" fill-opacity="0.45" filter="url(#b06)"/><circle cx="40.5" cy="46.9" r="1" fill="#e02030" fill-opacity="0.45" filter="url(#b06)"/><circle cx="76" cy="68" r="1.6" fill="#e02030" fill-opacity="0.45" filter="url(#b06)"/><circle cx="73.5" cy="71.6" r="1.2" fill="#e02030" fill-opacity="0.45" filter="url(#b06)"/><circle cx="80" cy="70" r="1.2" fill="#e02030" fill-opacity="0.45" filter="url(#b06)"/><circle cx="124.7" cy="34.3" r="1.2" fill="#e02030" fill-opacity="0.45" filter="url(#b06)"/><circle cx="126.3" cy="36.4" r="1.1" fill="#e02030" fill-opacity="0.45" filter="url(#b06)"/><circle cx="131" cy="46" r="1.1" fill="#e02030" fill-opacity="0.45" filter="url(#b06)"/><circle cx="134.2" cy="53.3" r="1.3" fill="#e02030" fill-opacity="0.45" filter="url(#b06)"/><circle cx="136.3" cy="17.4" r="1.1" fill="#e02030" fill-opacity="0.45" filter="url(#b06)"/><circle cx="124.7" cy="18.5" r="1" fill="#e02030" fill-opacity="0.45" filter="url(#b06)"/><circle cx="133.1" cy="22.7" r="1" fill="#e02030" fill-opacity="0.45" filter="url(#b06)"/><circle cx="47.2" cy="113.5" r="1.3" fill="#e02030" fill-opacity="0.45" filter="url(#b06)"/><circle cx="41.5" cy="126.4" r="1.2" fill="#e02030" fill-opacity="0.45" filter="url(#b06)"/><circle cx="43.6" cy="122.8" r="1" fill="#e02030" fill-opacity="0.45" filter="url(#b06)"/><circle cx="44.6" cy="134.1" r="1.3" fill="#e02030" fill-opacity="0.45" filter="url(#b06)"/><circle cx="46.7" cy="137.2" r="1.4" fill="#e02030" fill-opacity="0.45" filter="url(#b06)"/><circle cx="51.8" cy="140.3" r="1.7" fill="#e02030" fill-opacity="0.45" filter="url(#b06)"/><circle cx="53.4" cy="142.9" r="1.4" fill="#e02030" fill-opacity="0.45" filter="url(#b06)"/><circle cx="55.4" cy="140.3" r="1.2" fill="#e02030" fill-opacity="0.45" filter="url(#b06)"/><circle cx="138.9" cy="83.8" r="1.9" fill="#e02030" fill-opacity="0.45" filter="url(#b06)"/><circle cx="140.5" cy="82.2" r="1.4" fill="#e02030" fill-opacity="0.45" filter="url(#b06)"/><circle cx="148.4" cy="88.1" r="1.3" fill="#e02030" fill-opacity="0.45" filter="url(#b06)"/><circle cx="142.6" cy="89.1" r="1.1" fill="#e02030" fill-opacity="0.45" filter="url(#b06)"/><circle cx="143.7" cy="95.4" r="1.1" fill="#e02030" fill-opacity="0.45" filter="url(#b06)"/><circle cx="124.7" cy="123.9" r="1.2" fill="#e02030" fill-opacity="0.45" filter="url(#b06)"/><circle cx="129.4" cy="131.8" r="1.2" fill="#e02030" fill-opacity="0.45" filter="url(#b06)"/><circle cx="125.7" cy="131.8" r="1" fill="#e02030" fill-opacity="0.45" filter="url(#b06)"/><circle cx="37.1" cy="48.3" r="0.9" fill="#e02030" fill-opacity="0.45" filter="url(#b06)"/><circle cx="32.4" cy="50.3" r="0.7" fill="#e02030" fill-opacity="0.45" filter="url(#b06)"/><circle cx="28.3" cy="51.7" r="0.6" fill="#e02030" fill-opacity="0.45" filter="url(#b06)"/><circle cx="34.9" cy="49.9" r="0.8" fill="#e02030" fill-opacity="0.45" filter="url(#b06)"/><circle cx="31.5" cy="41.1" r="1" fill="#e02030" fill-opacity="0.45" filter="url(#b06)"/><circle cx="24.2" cy="49.9" r="0.7" fill="#e02030" fill-opacity="0.45" filter="url(#b06)"/><circle cx="38" cy="44.2" r="0.8" fill="#e02030" fill-opacity="0.45" filter="url(#b06)"/><circle cx="29.1" cy="51" r="0.8" fill="#e02030" fill-opacity="0.45" filter="url(#b06)"/><circle cx="129" cy="50.9" r="0.8" fill="#e02030" fill-opacity="0.45" filter="url(#b06)"/><circle cx="129.7" cy="48.6" r="0.7" fill="#e02030" fill-opacity="0.45" filter="url(#b06)"/><circle cx="128.9" cy="53.5" r="0.6" fill="#e02030" fill-opacity="0.45" filter="url(#b06)"/><circle cx="129.8" cy="22" r="0.7" fill="#e02030" fill-opacity="0.45" filter="url(#b06)"/><circle cx="128.7" cy="19.4" r="0.9" fill="#e02030" fill-opacity="0.45" filter="url(#b06)"/><circle cx="128.5" cy="21.2" r="0.8" fill="#e02030" fill-opacity="0.45" filter="url(#b06)"/><circle cx="124.2" cy="43.7" r="0.9" fill="#e02030" fill-opacity="0.45" filter="url(#b06)"/><circle cx="132.4" cy="28.7" r="0.9" fill="#e02030" fill-opacity="0.45" filter="url(#b06)"/><circle cx="131.2" cy="39.1" r="1" fill="#e02030" fill-opacity="0.45" filter="url(#b06)"/><circle cx="124.9" cy="36.4" r="0.8" fill="#e02030" fill-opacity="0.45" filter="url(#b06)"/><circle cx="137.1" cy="87.9" r="1" fill="#e02030" fill-opacity="0.45" filter="url(#b06)"/><circle cx="144" cy="97.7" r="0.7" fill="#e02030" fill-opacity="0.45" filter="url(#b06)"/><circle cx="139.6" cy="83.8" r="0.6" fill="#e02030" fill-opacity="0.45" filter="url(#b06)"/><circle cx="146.2" cy="84.3" r="0.9" fill="#e02030" fill-opacity="0.45" filter="url(#b06)"/><circle cx="145" cy="84.1" r="0.7" fill="#e02030" fill-opacity="0.45" filter="url(#b06)"/><circle cx="145.3" cy="81.3" r="0.7" fill="#e02030" fill-opacity="0.45" filter="url(#b06)"/><circle cx="146.5" cy="86.8" r="0.8" fill="#e02030" fill-opacity="0.45" filter="url(#b06)"/><circle cx="146.2" cy="83.3" r="1" fill="#e02030" fill-opacity="0.45" filter="url(#b06)"/><circle cx="54.7" cy="136.7" r="1.1" fill="#e02030" fill-opacity="0.45" filter="url(#b06)"/><circle cx="41.8" cy="142.2" r="1.1" fill="#e02030" fill-opacity="0.45" filter="url(#b06)"/><circle cx="51.4" cy="141.4" r="0.8" fill="#e02030" fill-opacity="0.45" filter="url(#b06)"/><circle cx="44.8" cy="132.4" r="0.9" fill="#e02030" fill-opacity="0.45" filter="url(#b06)"/><circle cx="43.5" cy="133.6" r="0.9" fill="#e02030" fill-opacity="0.45" filter="url(#b06)"/><circle cx="50.6" cy="134.4" r="0.9" fill="#e02030" fill-opacity="0.45" filter="url(#b06)"/><circle cx="55.5" cy="136.9" r="1.1" fill="#e02030" fill-opacity="0.45" filter="url(#b06)"/><circle cx="42.4" cy="135.3" r="0.8" fill="#e02030" fill-opacity="0.45" filter="url(#b06)"/><circle cx="85.2" cy="68.5" r="0.7" fill="#e02030" fill-opacity="0.45" filter="url(#b06)"/><circle cx="75.3" cy="72.3" r="0.9" fill="#e02030" fill-opacity="0.45" filter="url(#b06)"/><circle cx="73.7" cy="70" r="0.8" fill="#e02030" fill-opacity="0.45" filter="url(#b06)"/><circle cx="72.8" cy="72.1" r="0.7" fill="#e02030" fill-opacity="0.45" filter="url(#b06)"/><circle cx="76.3" cy="74.2" r="0.8" fill="#e02030" fill-opacity="0.45" filter="url(#b06)"/><circle cx="72.7" cy="71.4" r="0.8" fill="#e02030" fill-opacity="0.45" filter="url(#b06)"/><circle cx="53.3" cy="31.1" r="1" fill="#e02030" fill-opacity="0.45" filter="url(#b06)"/><circle cx="57.7" cy="21.2" r="0.7" fill="#e02030" fill-opacity="0.45" filter="url(#b06)"/><circle cx="54.7" cy="19.7" r="0.7" fill="#e02030" fill-opacity="0.45" filter="url(#b06)"/><circle cx="53.9" cy="32.1" r="0.7" fill="#e02030" fill-opacity="0.45" filter="url(#b06)"/><circle cx="60.7" cy="23.2" r="0.9" fill="#e02030" fill-opacity="0.45" filter="url(#b06)"/><circle cx="52.2" cy="19.6" r="1.1" fill="#e02030" fill-opacity="0.45" filter="url(#b06)"/><g filter="url(#ntex)" opacity="0.72"><ellipse cx="37" cy="28.6" rx="14" ry="9" fill="url(#nucg)" transform="rotate(-15 37 28.6)" /><ellipse cx="15.5" cy="56.6" rx="13" ry="13" fill="url(#nucg)" /><ellipse cx="84.5" cy="61.5" rx="14" ry="9.5" fill="url(#nucg)" transform="rotate(-12 84.5 61.5)" /><ellipse cx="112" cy="44.9" rx="10.5" ry="15.8" fill="url(#nucg)" /><ellipse cx="143" cy="32.3" rx="12" ry="13.8" fill="url(#nucg)" /><ellipse cx="127.3" cy="91.7" rx="12.1" ry="12.1" fill="url(#nucg)" /><ellipse cx="140.3" cy="121.8" rx="14" ry="11.6" fill="url(#nucg)" /><ellipse cx="56" cy="126.4" rx="12.4" ry="17" fill="url(#nucg)" transform="rotate(8 56 126.4)" /></g><circle cx="22.5" cy="30.4" r="1.5" fill="#f0d850" fill-opacity="0.9" filter="url(#b06)"/><circle cx="48.2" cy="19" r="0.9" fill="#f0d850" fill-opacity="0.9" filter="url(#b06)"/><circle cx="52.8" cy="24.7" r="0.9" fill="#f0d850" fill-opacity="0.9" filter="url(#b06)"/><circle cx="29.2" cy="42.8" r="0.9" fill="#f0d850" fill-opacity="0.9" filter="url(#b06)"/><circle cx="33.3" cy="49" r="0.9" fill="#f0d850" fill-opacity="0.9" filter="url(#b06)"/><circle cx="30.2" cy="52" r="0.9" fill="#f0d850" fill-opacity="0.9" filter="url(#b06)"/><circle cx="40.5" cy="46.9" r="0.8" fill="#f0d850" fill-opacity="0.9" filter="url(#b06)"/><circle cx="76" cy="68" r="1.2" fill="#f0d850" fill-opacity="0.9" filter="url(#b06)"/><circle cx="73.5" cy="71.6" r="0.9" fill="#f0d850" fill-opacity="0.9" filter="url(#b06)"/><circle cx="80" cy="70" r="0.9" fill="#f0d850" fill-opacity="0.9" filter="url(#b06)"/><circle cx="124.7" cy="34.3" r="0.9" fill="#f0d850" fill-opacity="0.9" filter="url(#b06)"/><circle cx="126.3" cy="36.4" r="0.9" fill="#f0d850" fill-opacity="0.9" filter="url(#b06)"/><circle cx="131" cy="46" r="0.9" fill="#f0d850" fill-opacity="0.9" filter="url(#b06)"/><circle cx="134.2" cy="53.3" r="1" fill="#f0d850" fill-opacity="0.9" filter="url(#b06)"/><circle cx="136.3" cy="17.4" r="0.9" fill="#f0d850" fill-opacity="0.9" filter="url(#b06)"/><circle cx="124.7" cy="18.5" r="0.8" fill="#f0d850" fill-opacity="0.9" filter="url(#b06)"/><circle cx="133.1" cy="22.7" r="0.8" fill="#f0d850" fill-opacity="0.9" filter="url(#b06)"/><circle cx="47.2" cy="113.5" r="1" fill="#f0d850" fill-opacity="0.9" filter="url(#b06)"/><circle cx="41.5" cy="126.4" r="0.9" fill="#f0d850" fill-opacity="0.9" filter="url(#b06)"/><circle cx="43.6" cy="122.8" r="0.8" fill="#f0d850" fill-opacity="0.9" filter="url(#b06)"/><circle cx="44.6" cy="134.1" r="1" fill="#f0d850" fill-opacity="0.9" filter="url(#b06)"/><circle cx="46.7" cy="137.2" r="1.1" fill="#f0d850" fill-opacity="0.9" filter="url(#b06)"/><circle cx="51.8" cy="140.3" r="1.3" fill="#f0d850" fill-opacity="0.9" filter="url(#b06)"/><circle cx="53.4" cy="142.9" r="1.1" fill="#48dc48" fill-opacity="0.9" filter="url(#b06)"/><circle cx="55.4" cy="140.3" r="0.9" fill="#f0d850" fill-opacity="0.9" filter="url(#b06)"/><circle cx="138.9" cy="83.8" r="1.5" fill="#f0d850" fill-opacity="0.9" filter="url(#b06)"/><circle cx="140.5" cy="82.2" r="1.1" fill="#f0d850" fill-opacity="0.9" filter="url(#b06)"/><circle cx="148.4" cy="88.1" r="1" fill="#f0d850" fill-opacity="0.9" filter="url(#b06)"/><circle cx="142.6" cy="89.1" r="0.9" fill="#f0d850" fill-opacity="0.9" filter="url(#b06)"/><circle cx="143.7" cy="95.4" r="0.9" fill="#f0d850" fill-opacity="0.9" filter="url(#b06)"/><circle cx="124.7" cy="123.9" r="0.9" fill="#f0d850" fill-opacity="0.9" filter="url(#b06)"/><circle cx="129.4" cy="131.8" r="0.9" fill="#f0d850" fill-opacity="0.9" filter="url(#b06)"/><circle cx="125.7" cy="131.8" r="0.8" fill="#48dc48" fill-opacity="0.9" filter="url(#b06)"/><circle cx="37.1" cy="48.3" r="0.7" fill="#f0d850" fill-opacity="0.9" filter="url(#b06)"/><circle cx="32.4" cy="50.3" r="0.6" fill="#f0d850" fill-opacity="0.9" filter="url(#b06)"/><circle cx="28.3" cy="51.7" r="0.5" fill="#48dc48" fill-opacity="0.9" filter="url(#b06)"/><circle cx="34.9" cy="49.9" r="0.7" fill="#48dc48" fill-opacity="0.9" filter="url(#b06)"/><circle cx="31.5" cy="41.1" r="0.8" fill="#f0d850" fill-opacity="0.9" filter="url(#b06)"/><circle cx="24.2" cy="49.9" r="0.6" fill="#48dc48" fill-opacity="0.9" filter="url(#b06)"/><circle cx="38" cy="44.2" r="0.7" fill="#f0d850" fill-opacity="0.9" filter="url(#b06)"/><circle cx="29.1" cy="51" r="0.6" fill="#f0d850" fill-opacity="0.9" filter="url(#b06)"/><circle cx="129" cy="50.9" r="0.6" fill="#48dc48" fill-opacity="0.9" filter="url(#b06)"/><circle cx="129.7" cy="48.6" r="0.6" fill="#f0d850" fill-opacity="0.9" filter="url(#b06)"/><circle cx="128.9" cy="53.5" r="0.5" fill="#f0d850" fill-opacity="0.9" filter="url(#b06)"/><circle cx="129.8" cy="22" r="0.5" fill="#f0d850" fill-opacity="0.9" filter="url(#b06)"/><circle cx="128.7" cy="19.4" r="0.7" fill="#f0d850" fill-opacity="0.9" filter="url(#b06)"/><circle cx="128.5" cy="21.2" r="0.6" fill="#f0d850" fill-opacity="0.9" filter="url(#b06)"/><circle cx="124.2" cy="43.7" r="0.7" fill="#f0d850" fill-opacity="0.9" filter="url(#b06)"/><circle cx="132.4" cy="28.7" r="0.7" fill="#48dc48" fill-opacity="0.9" filter="url(#b06)"/><circle cx="131.2" cy="39.1" r="0.8" fill="#f0d850" fill-opacity="0.9" filter="url(#b06)"/><circle cx="124.9" cy="36.4" r="0.7" fill="#f0d850" fill-opacity="0.9" filter="url(#b06)"/><circle cx="137.1" cy="87.9" r="0.8" fill="#f0d850" fill-opacity="0.9" filter="url(#b06)"/><circle cx="144" cy="97.7" r="0.5" fill="#f0d850" fill-opacity="0.9" filter="url(#b06)"/><circle cx="139.6" cy="83.8" r="0.5" fill="#48dc48" fill-opacity="0.9" filter="url(#b06)"/><circle cx="146.2" cy="84.3" r="0.7" fill="#48dc48" fill-opacity="0.9" filter="url(#b06)"/><circle cx="145" cy="84.1" r="0.6" fill="#f0d850" fill-opacity="0.9" filter="url(#b06)"/><circle cx="145.3" cy="81.3" r="0.5" fill="#f0d850" fill-opacity="0.9" filter="url(#b06)"/><circle cx="146.5" cy="86.8" r="0.6" fill="#f0d850" fill-opacity="0.9" filter="url(#b06)"/><circle cx="146.2" cy="83.3" r="0.8" fill="#f0d850" fill-opacity="0.9" filter="url(#b06)"/><circle cx="54.7" cy="136.7" r="0.9" fill="#f0d850" fill-opacity="0.9" filter="url(#b06)"/><circle cx="41.8" cy="142.2" r="0.9" fill="#f0d850" fill-opacity="0.9" filter="url(#b06)"/><circle cx="51.4" cy="141.4" r="0.6" fill="#f0d850" fill-opacity="0.9" filter="url(#b06)"/><circle cx="44.8" cy="132.4" r="0.7" fill="#f0d850" fill-opacity="0.9" filter="url(#b06)"/><circle cx="43.5" cy="133.6" r="0.7" fill="#48dc48" fill-opacity="0.9" filter="url(#b06)"/><circle cx="50.6" cy="134.4" r="0.7" fill="#f0d850" fill-opacity="0.9" filter="url(#b06)"/><circle cx="55.5" cy="136.9" r="0.8" fill="#f0d850" fill-opacity="0.9" filter="url(#b06)"/><circle cx="42.4" cy="135.3" r="0.7" fill="#48dc48" fill-opacity="0.9" filter="url(#b06)"/><circle cx="85.2" cy="68.5" r="0.6" fill="#f0d850" fill-opacity="0.9" filter="url(#b06)"/><circle cx="75.3" cy="72.3" r="0.7" fill="#f0d850" fill-opacity="0.9" filter="url(#b06)"/><circle cx="73.7" cy="70" r="0.6" fill="#f0d850" fill-opacity="0.9" filter="url(#b06)"/><circle cx="72.8" cy="72.1" r="0.5" fill="#f0d850" fill-opacity="0.9" filter="url(#b06)"/><circle cx="76.3" cy="74.2" r="0.6" fill="#48dc48" fill-opacity="0.9" filter="url(#b06)"/><circle cx="72.7" cy="71.4" r="0.6" fill="#48dc48" fill-opacity="0.9" filter="url(#b06)"/><circle cx="53.3" cy="31.1" r="0.8" fill="#48dc48" fill-opacity="0.9" filter="url(#b06)"/><circle cx="57.7" cy="21.2" r="0.6" fill="#f0d850" fill-opacity="0.9" filter="url(#b06)"/><circle cx="54.7" cy="19.7" r="0.5" fill="#f0d850" fill-opacity="0.9" filter="url(#b06)"/><circle cx="53.9" cy="32.1" r="0.6" fill="#f0d850" fill-opacity="0.9" filter="url(#b06)"/><circle cx="60.7" cy="23.2" r="0.7" fill="#f0d850" fill-opacity="0.9" filter="url(#b06)"/><circle cx="52.2" cy="19.6" r="0.9" fill="#f0d850" fill-opacity="0.9" filter="url(#b06)"/></g></g>
<g clip-path="url(#c20)"><rect x="278.1" y="585.5" width="77" height="77.7" fill="#0a0304" /><g transform="translate(278.1 585.5) scale(0.4789)"><g filter="url(#rtex)"><ellipse cx="55" cy="27" rx="8" ry="10" fill="#b4161f" fill-opacity="0.5"/><ellipse cx="31" cy="47" rx="12" ry="8" fill="#b4161f" fill-opacity="0.6"/><ellipse cx="80" cy="71" rx="12" ry="6" fill="#b4161f" transform="rotate(-10 80 71)" fill-opacity="0.5"/><ellipse cx="128" cy="37" rx="7" ry="22" fill="#b4161f" fill-opacity="0.6"/><ellipse cx="131" cy="17" rx="9" ry="5" fill="#b4161f" fill-opacity="0.4"/><ellipse cx="143" cy="89" rx="8" ry="13" fill="#b4161f" fill-opacity="0.6"/><ellipse cx="46" cy="138" rx="12" ry="9" fill="#b4161f" fill-opacity="0.6"/><ellipse cx="40" cy="124" rx="5" ry="10" fill="#b4161f" fill-opacity="0.4"/><ellipse cx="138" cy="135" rx="15" ry="6" fill="#b4161f" fill-opacity="0.3"/><ellipse cx="152" cy="35" rx="5" ry="13" fill="#b4161f" fill-opacity="0.3"/><ellipse cx="22" cy="32" rx="4" ry="4" fill="#b4161f" fill-opacity="0.3"/><ellipse cx="37" cy="28.6" rx="16" ry="11" fill="none" transform="rotate(-15 37 28.6)" stroke="#b4161f" stroke-width="4" stroke-opacity="0.2"/><ellipse cx="15.5" cy="56.6" rx="15" ry="15" fill="none" stroke="#b4161f" stroke-width="4" stroke-opacity="0.2"/><ellipse cx="84.5" cy="61.5" rx="16" ry="11.5" fill="none" transform="rotate(-12 84.5 61.5)" stroke="#b4161f" stroke-width="4" stroke-opacity="0.2"/><ellipse cx="112" cy="44.9" rx="12.5" ry="17.8" fill="none" stroke="#b4161f" stroke-width="4" stroke-opacity="0.2"/><ellipse cx="143" cy="32.3" rx="14" ry="15.8" fill="none" stroke="#b4161f" stroke-width="4" stroke-opacity="0.2"/><ellipse cx="127.3" cy="91.7" rx="14" ry="14" fill="none" stroke="#b4161f" stroke-width="4" stroke-opacity="0.2"/><ellipse cx="140.3" cy="121.8" rx="16" ry="13.6" fill="none" stroke="#b4161f" stroke-width="4" stroke-opacity="0.2"/><ellipse cx="56" cy="126.4" rx="14.4" ry="19" fill="none" transform="rotate(8 56 126.4)" stroke="#b4161f" stroke-width="4" stroke-opacity="0.2"/></g><circle cx="22.5" cy="30.4" r="1.9" fill="#e02030" fill-opacity="0.45" filter="url(#b06)"/><circle cx="48.2" cy="19" r="1.2" fill="#e02030" fill-opacity="0.45" filter="url(#b06)"/><circle cx="52.8" cy="24.7" r="1.1" fill="#e02030" fill-opacity="0.45" filter="url(#b06)"/><circle cx="29.2" cy="42.8" r="1.2" fill="#e02030" fill-opacity="0.45" filter="url(#b06)"/><circle cx="33.3" cy="49" r="1.2" fill="#e02030" fill-opacity="0.45" filter="url(#b06)"/><circle cx="30.2" cy="52" r="1.1" fill="#e02030" fill-opacity="0.45" filter="url(#b06)"/><circle cx="40.5" cy="46.9" r="1" fill="#e02030" fill-opacity="0.45" filter="url(#b06)"/><circle cx="76" cy="68" r="1.6" fill="#e02030" fill-opacity="0.45" filter="url(#b06)"/><circle cx="73.5" cy="71.6" r="1.2" fill="#e02030" fill-opacity="0.45" filter="url(#b06)"/><circle cx="80" cy="70" r="1.2" fill="#e02030" fill-opacity="0.45" filter="url(#b06)"/><circle cx="124.7" cy="34.3" r="1.2" fill="#e02030" fill-opacity="0.45" filter="url(#b06)"/><circle cx="126.3" cy="36.4" r="1.1" fill="#e02030" fill-opacity="0.45" filter="url(#b06)"/><circle cx="131" cy="46" r="1.1" fill="#e02030" fill-opacity="0.45" filter="url(#b06)"/><circle cx="134.2" cy="53.3" r="1.3" fill="#e02030" fill-opacity="0.45" filter="url(#b06)"/><circle cx="136.3" cy="17.4" r="1.1" fill="#e02030" fill-opacity="0.45" filter="url(#b06)"/><circle cx="124.7" cy="18.5" r="1" fill="#e02030" fill-opacity="0.45" filter="url(#b06)"/><circle cx="133.1" cy="22.7" r="1" fill="#e02030" fill-opacity="0.45" filter="url(#b06)"/><circle cx="47.2" cy="113.5" r="1.3" fill="#e02030" fill-opacity="0.45" filter="url(#b06)"/><circle cx="41.5" cy="126.4" r="1.2" fill="#e02030" fill-opacity="0.45" filter="url(#b06)"/><circle cx="43.6" cy="122.8" r="1" fill="#e02030" fill-opacity="0.45" filter="url(#b06)"/><circle cx="44.6" cy="134.1" r="1.3" fill="#e02030" fill-opacity="0.45" filter="url(#b06)"/><circle cx="46.7" cy="137.2" r="1.4" fill="#e02030" fill-opacity="0.45" filter="url(#b06)"/><circle cx="51.8" cy="140.3" r="1.7" fill="#e02030" fill-opacity="0.45" filter="url(#b06)"/><circle cx="53.4" cy="142.9" r="1.4" fill="#e02030" fill-opacity="0.45" filter="url(#b06)"/><circle cx="55.4" cy="140.3" r="1.2" fill="#e02030" fill-opacity="0.45" filter="url(#b06)"/><circle cx="138.9" cy="83.8" r="1.9" fill="#e02030" fill-opacity="0.45" filter="url(#b06)"/><circle cx="140.5" cy="82.2" r="1.4" fill="#e02030" fill-opacity="0.45" filter="url(#b06)"/><circle cx="148.4" cy="88.1" r="1.3" fill="#e02030" fill-opacity="0.45" filter="url(#b06)"/><circle cx="142.6" cy="89.1" r="1.1" fill="#e02030" fill-opacity="0.45" filter="url(#b06)"/><circle cx="143.7" cy="95.4" r="1.1" fill="#e02030" fill-opacity="0.45" filter="url(#b06)"/><circle cx="124.7" cy="123.9" r="1.2" fill="#e02030" fill-opacity="0.45" filter="url(#b06)"/><circle cx="129.4" cy="131.8" r="1.2" fill="#e02030" fill-opacity="0.45" filter="url(#b06)"/><circle cx="125.7" cy="131.8" r="1" fill="#e02030" fill-opacity="0.45" filter="url(#b06)"/><circle cx="37.1" cy="48.3" r="0.9" fill="#e02030" fill-opacity="0.45" filter="url(#b06)"/><circle cx="32.4" cy="50.3" r="0.7" fill="#e02030" fill-opacity="0.45" filter="url(#b06)"/><circle cx="28.3" cy="51.7" r="0.6" fill="#e02030" fill-opacity="0.45" filter="url(#b06)"/><circle cx="34.9" cy="49.9" r="0.8" fill="#e02030" fill-opacity="0.45" filter="url(#b06)"/><circle cx="31.5" cy="41.1" r="1" fill="#e02030" fill-opacity="0.45" filter="url(#b06)"/><circle cx="24.2" cy="49.9" r="0.7" fill="#e02030" fill-opacity="0.45" filter="url(#b06)"/><circle cx="38" cy="44.2" r="0.8" fill="#e02030" fill-opacity="0.45" filter="url(#b06)"/><circle cx="29.1" cy="51" r="0.8" fill="#e02030" fill-opacity="0.45" filter="url(#b06)"/><circle cx="129" cy="50.9" r="0.8" fill="#e02030" fill-opacity="0.45" filter="url(#b06)"/><circle cx="129.7" cy="48.6" r="0.7" fill="#e02030" fill-opacity="0.45" filter="url(#b06)"/><circle cx="128.9" cy="53.5" r="0.6" fill="#e02030" fill-opacity="0.45" filter="url(#b06)"/><circle cx="129.8" cy="22" r="0.7" fill="#e02030" fill-opacity="0.45" filter="url(#b06)"/><circle cx="128.7" cy="19.4" r="0.9" fill="#e02030" fill-opacity="0.45" filter="url(#b06)"/><circle cx="128.5" cy="21.2" r="0.8" fill="#e02030" fill-opacity="0.45" filter="url(#b06)"/><circle cx="124.2" cy="43.7" r="0.9" fill="#e02030" fill-opacity="0.45" filter="url(#b06)"/><circle cx="132.4" cy="28.7" r="0.9" fill="#e02030" fill-opacity="0.45" filter="url(#b06)"/><circle cx="131.2" cy="39.1" r="1" fill="#e02030" fill-opacity="0.45" filter="url(#b06)"/><circle cx="124.9" cy="36.4" r="0.8" fill="#e02030" fill-opacity="0.45" filter="url(#b06)"/><circle cx="137.1" cy="87.9" r="1" fill="#e02030" fill-opacity="0.45" filter="url(#b06)"/><circle cx="144" cy="97.7" r="0.7" fill="#e02030" fill-opacity="0.45" filter="url(#b06)"/><circle cx="139.6" cy="83.8" r="0.6" fill="#e02030" fill-opacity="0.45" filter="url(#b06)"/><circle cx="146.2" cy="84.3" r="0.9" fill="#e02030" fill-opacity="0.45" filter="url(#b06)"/><circle cx="145" cy="84.1" r="0.7" fill="#e02030" fill-opacity="0.45" filter="url(#b06)"/><circle cx="145.3" cy="81.3" r="0.7" fill="#e02030" fill-opacity="0.45" filter="url(#b06)"/><circle cx="146.5" cy="86.8" r="0.8" fill="#e02030" fill-opacity="0.45" filter="url(#b06)"/><circle cx="146.2" cy="83.3" r="1" fill="#e02030" fill-opacity="0.45" filter="url(#b06)"/><circle cx="54.7" cy="136.7" r="1.1" fill="#e02030" fill-opacity="0.45" filter="url(#b06)"/><circle cx="41.8" cy="142.2" r="1.1" fill="#e02030" fill-opacity="0.45" filter="url(#b06)"/><circle cx="51.4" cy="141.4" r="0.8" fill="#e02030" fill-opacity="0.45" filter="url(#b06)"/><circle cx="44.8" cy="132.4" r="0.9" fill="#e02030" fill-opacity="0.45" filter="url(#b06)"/><circle cx="43.5" cy="133.6" r="0.9" fill="#e02030" fill-opacity="0.45" filter="url(#b06)"/><circle cx="50.6" cy="134.4" r="0.9" fill="#e02030" fill-opacity="0.45" filter="url(#b06)"/><circle cx="55.5" cy="136.9" r="1.1" fill="#e02030" fill-opacity="0.45" filter="url(#b06)"/><circle cx="42.4" cy="135.3" r="0.8" fill="#e02030" fill-opacity="0.45" filter="url(#b06)"/><circle cx="85.2" cy="68.5" r="0.7" fill="#e02030" fill-opacity="0.45" filter="url(#b06)"/><circle cx="75.3" cy="72.3" r="0.9" fill="#e02030" fill-opacity="0.45" filter="url(#b06)"/><circle cx="73.7" cy="70" r="0.8" fill="#e02030" fill-opacity="0.45" filter="url(#b06)"/><circle cx="72.8" cy="72.1" r="0.7" fill="#e02030" fill-opacity="0.45" filter="url(#b06)"/><circle cx="76.3" cy="74.2" r="0.8" fill="#e02030" fill-opacity="0.45" filter="url(#b06)"/><circle cx="72.7" cy="71.4" r="0.8" fill="#e02030" fill-opacity="0.45" filter="url(#b06)"/><circle cx="53.3" cy="31.1" r="1" fill="#e02030" fill-opacity="0.45" filter="url(#b06)"/><circle cx="57.7" cy="21.2" r="0.7" fill="#e02030" fill-opacity="0.45" filter="url(#b06)"/><circle cx="54.7" cy="19.7" r="0.7" fill="#e02030" fill-opacity="0.45" filter="url(#b06)"/><circle cx="53.9" cy="32.1" r="0.7" fill="#e02030" fill-opacity="0.45" filter="url(#b06)"/><circle cx="60.7" cy="23.2" r="0.9" fill="#e02030" fill-opacity="0.45" filter="url(#b06)"/><circle cx="52.2" cy="19.6" r="1.1" fill="#e02030" fill-opacity="0.45" filter="url(#b06)"/><ellipse cx="37" cy="28.6" rx="12.6" ry="8.1" fill="#0a0304" transform="rotate(-15 37 28.6)" fill-opacity="0.8" filter="url(#b1)"/><ellipse cx="15.5" cy="56.6" rx="11.7" ry="11.7" fill="#0a0304" fill-opacity="0.8" filter="url(#b1)"/><ellipse cx="84.5" cy="61.5" rx="12.6" ry="8.6" fill="#0a0304" transform="rotate(-12 84.5 61.5)" fill-opacity="0.8" filter="url(#b1)"/><ellipse cx="112" cy="44.9" rx="9.5" ry="14.2" fill="#0a0304" fill-opacity="0.8" filter="url(#b1)"/><ellipse cx="143" cy="32.3" rx="10.8" ry="12.4" fill="#0a0304" fill-opacity="0.8" filter="url(#b1)"/><ellipse cx="127.3" cy="91.7" rx="10.9" ry="10.9" fill="#0a0304" fill-opacity="0.8" filter="url(#b1)"/><ellipse cx="140.3" cy="121.8" rx="12.6" ry="10.4" fill="#0a0304" fill-opacity="0.8" filter="url(#b1)"/><ellipse cx="56" cy="126.4" rx="11.2" ry="15.3" fill="#0a0304" transform="rotate(8 56 126.4)" fill-opacity="0.8" filter="url(#b1)"/></g></g>
<g clip-path="url(#c21)"><rect x="278.1" y="665.6" width="77" height="77.9" fill="#0a0304" /><g transform="translate(278.1 665.6) scale(0.4789)"><circle cx="22.5" cy="30.4" r="2.1" fill="#3cd23c" fill-opacity="0.7" filter="url(#b06)"/><circle cx="48.2" cy="19" r="1.3" fill="#3cd23c" fill-opacity="0.7" filter="url(#b06)"/><circle cx="52.8" cy="24.7" r="1.2" fill="#3cd23c" fill-opacity="0.7" filter="url(#b06)"/><circle cx="29.2" cy="42.8" r="1.3" fill="#3cd23c" fill-opacity="0.7" filter="url(#b06)"/><circle cx="33.3" cy="49" r="1.3" fill="#3cd23c" fill-opacity="0.7" filter="url(#b06)"/><circle cx="30.2" cy="52" r="1.2" fill="#3cd23c" fill-opacity="0.7" filter="url(#b06)"/><circle cx="40.5" cy="46.9" r="1" fill="#3cd23c" fill-opacity="0.7" filter="url(#b06)"/><circle cx="76" cy="68" r="1.7" fill="#3cd23c" fill-opacity="0.7" filter="url(#b06)"/><circle cx="73.5" cy="71.6" r="1.3" fill="#3cd23c" fill-opacity="0.7" filter="url(#b06)"/><circle cx="80" cy="70" r="1.3" fill="#3cd23c" fill-opacity="0.7" filter="url(#b06)"/><circle cx="124.7" cy="34.3" r="1.3" fill="#3cd23c" fill-opacity="0.7" filter="url(#b06)"/><circle cx="126.3" cy="36.4" r="1.2" fill="#3cd23c" fill-opacity="0.7" filter="url(#b06)"/><circle cx="131" cy="46" r="1.2" fill="#3cd23c" fill-opacity="0.7" filter="url(#b06)"/><circle cx="134.2" cy="53.3" r="1.4" fill="#3cd23c" fill-opacity="0.7" filter="url(#b06)"/><circle cx="136.3" cy="17.4" r="1.2" fill="#3cd23c" fill-opacity="0.7" filter="url(#b06)"/><circle cx="124.7" cy="18.5" r="1" fill="#3cd23c" fill-opacity="0.7" filter="url(#b06)"/><circle cx="133.1" cy="22.7" r="1" fill="#3cd23c" fill-opacity="0.7" filter="url(#b06)"/><circle cx="47.2" cy="113.5" r="1.4" fill="#3cd23c" fill-opacity="0.7" filter="url(#b06)"/><circle cx="41.5" cy="126.4" r="1.3" fill="#3cd23c" fill-opacity="0.7" filter="url(#b06)"/><circle cx="43.6" cy="122.8" r="1" fill="#3cd23c" fill-opacity="0.7" filter="url(#b06)"/><circle cx="44.6" cy="134.1" r="1.4" fill="#3cd23c" fill-opacity="0.7" filter="url(#b06)"/><circle cx="46.7" cy="137.2" r="1.6" fill="#3cd23c" fill-opacity="0.7" filter="url(#b06)"/><circle cx="51.8" cy="140.3" r="1.8" fill="#3cd23c" fill-opacity="0.7" filter="url(#b06)"/><circle cx="53.4" cy="142.9" r="1.6" fill="#3cd23c" fill-opacity="0.7" filter="url(#b06)"/><circle cx="55.4" cy="140.3" r="1.3" fill="#3cd23c" fill-opacity="0.7" filter="url(#b06)"/><circle cx="138.9" cy="83.8" r="2.1" fill="#3cd23c" fill-opacity="0.7" filter="url(#b06)"/><circle cx="140.5" cy="82.2" r="1.6" fill="#3cd23c" fill-opacity="0.7" filter="url(#b06)"/><circle cx="148.4" cy="88.1" r="1.4" fill="#3cd23c" fill-opacity="0.7" filter="url(#b06)"/><circle cx="142.6" cy="89.1" r="1.2" fill="#3cd23c" fill-opacity="0.7" filter="url(#b06)"/><circle cx="143.7" cy="95.4" r="1.2" fill="#3cd23c" fill-opacity="0.7" filter="url(#b06)"/><circle cx="124.7" cy="123.9" r="1.3" fill="#3cd23c" fill-opacity="0.7" filter="url(#b06)"/><circle cx="129.4" cy="131.8" r="1.3" fill="#3cd23c" fill-opacity="0.7" filter="url(#b06)"/><circle cx="125.7" cy="131.8" r="1" fill="#3cd23c" fill-opacity="0.7" filter="url(#b06)"/><circle cx="37.1" cy="48.3" r="1" fill="#3cd23c" fill-opacity="0.7" filter="url(#b06)"/><circle cx="32.4" cy="50.3" r="0.8" fill="#3cd23c" fill-opacity="0.7" filter="url(#b06)"/><circle cx="28.3" cy="51.7" r="0.7" fill="#3cd23c" fill-opacity="0.7" filter="url(#b06)"/><circle cx="34.9" cy="49.9" r="0.9" fill="#3cd23c" fill-opacity="0.7" filter="url(#b06)"/><circle cx="31.5" cy="41.1" r="1" fill="#3cd23c" fill-opacity="0.7" filter="url(#b06)"/><circle cx="24.2" cy="49.9" r="0.8" fill="#3cd23c" fill-opacity="0.7" filter="url(#b06)"/><circle cx="38" cy="44.2" r="0.9" fill="#3cd23c" fill-opacity="0.7" filter="url(#b06)"/><circle cx="29.1" cy="51" r="0.8" fill="#3cd23c" fill-opacity="0.7" filter="url(#b06)"/><circle cx="129" cy="50.9" r="0.9" fill="#3cd23c" fill-opacity="0.7" filter="url(#b06)"/><circle cx="129.7" cy="48.6" r="0.8" fill="#3cd23c" fill-opacity="0.7" filter="url(#b06)"/><circle cx="128.9" cy="53.5" r="0.7" fill="#3cd23c" fill-opacity="0.7" filter="url(#b06)"/><circle cx="129.8" cy="22" r="0.7" fill="#3cd23c" fill-opacity="0.7" filter="url(#b06)"/><circle cx="128.7" cy="19.4" r="1" fill="#3cd23c" fill-opacity="0.7" filter="url(#b06)"/><circle cx="128.5" cy="21.2" r="0.9" fill="#3cd23c" fill-opacity="0.7" filter="url(#b06)"/><circle cx="124.2" cy="43.7" r="1" fill="#3cd23c" fill-opacity="0.7" filter="url(#b06)"/><circle cx="132.4" cy="28.7" r="1" fill="#3cd23c" fill-opacity="0.7" filter="url(#b06)"/><circle cx="131.2" cy="39.1" r="1.1" fill="#3cd23c" fill-opacity="0.7" filter="url(#b06)"/><circle cx="124.9" cy="36.4" r="0.9" fill="#3cd23c" fill-opacity="0.7" filter="url(#b06)"/><circle cx="137.1" cy="87.9" r="1" fill="#3cd23c" fill-opacity="0.7" filter="url(#b06)"/><circle cx="144" cy="97.7" r="0.7" fill="#3cd23c" fill-opacity="0.7" filter="url(#b06)"/><circle cx="139.6" cy="83.8" r="0.7" fill="#3cd23c" fill-opacity="0.7" filter="url(#b06)"/><circle cx="146.2" cy="84.3" r="1" fill="#3cd23c" fill-opacity="0.7" filter="url(#b06)"/><circle cx="145" cy="84.1" r="0.8" fill="#3cd23c" fill-opacity="0.7" filter="url(#b06)"/><circle cx="145.3" cy="81.3" r="0.7" fill="#3cd23c" fill-opacity="0.7" filter="url(#b06)"/><circle cx="146.5" cy="86.8" r="0.9" fill="#3cd23c" fill-opacity="0.7" filter="url(#b06)"/><circle cx="146.2" cy="83.3" r="1.1" fill="#3cd23c" fill-opacity="0.7" filter="url(#b06)"/><circle cx="54.7" cy="136.7" r="1.2" fill="#3cd23c" fill-opacity="0.7" filter="url(#b06)"/><circle cx="41.8" cy="142.2" r="1.2" fill="#3cd23c" fill-opacity="0.7" filter="url(#b06)"/><circle cx="51.4" cy="141.4" r="0.8" fill="#3cd23c" fill-opacity="0.7" filter="url(#b06)"/><circle cx="44.8" cy="132.4" r="0.9" fill="#3cd23c" fill-opacity="0.7" filter="url(#b06)"/><circle cx="43.5" cy="133.6" r="0.9" fill="#3cd23c" fill-opacity="0.7" filter="url(#b06)"/><circle cx="50.6" cy="134.4" r="1" fill="#3cd23c" fill-opacity="0.7" filter="url(#b06)"/><circle cx="55.5" cy="136.9" r="1.1" fill="#3cd23c" fill-opacity="0.7" filter="url(#b06)"/><circle cx="42.4" cy="135.3" r="0.9" fill="#3cd23c" fill-opacity="0.7" filter="url(#b06)"/><circle cx="85.2" cy="68.5" r="0.8" fill="#3cd23c" fill-opacity="0.7" filter="url(#b06)"/><circle cx="75.3" cy="72.3" r="1" fill="#3cd23c" fill-opacity="0.7" filter="url(#b06)"/><circle cx="73.7" cy="70" r="0.9" fill="#3cd23c" fill-opacity="0.7" filter="url(#b06)"/><circle cx="72.8" cy="72.1" r="0.7" fill="#3cd23c" fill-opacity="0.7" filter="url(#b06)"/><circle cx="76.3" cy="74.2" r="0.8" fill="#3cd23c" fill-opacity="0.7" filter="url(#b06)"/><circle cx="72.7" cy="71.4" r="0.8" fill="#3cd23c" fill-opacity="0.7" filter="url(#b06)"/><circle cx="53.3" cy="31.1" r="1" fill="#3cd23c" fill-opacity="0.7" filter="url(#b06)"/><circle cx="57.7" cy="21.2" r="0.8" fill="#3cd23c" fill-opacity="0.7" filter="url(#b06)"/><circle cx="54.7" cy="19.7" r="0.7" fill="#3cd23c" fill-opacity="0.7" filter="url(#b06)"/><circle cx="53.9" cy="32.1" r="0.8" fill="#3cd23c" fill-opacity="0.7" filter="url(#b06)"/><circle cx="60.7" cy="23.2" r="0.9" fill="#3cd23c" fill-opacity="0.7" filter="url(#b06)"/><circle cx="52.2" cy="19.6" r="1.2" fill="#3cd23c" fill-opacity="0.7" filter="url(#b06)"/></g></g>
<text x="280.1" y="596.6" font-size="10.5" fill="#c82038" text-anchor="start" font-weight="bold" >Cy5.5</text>
<text x="280.1" y="676.7" font-size="10.5" fill="#46b446" text-anchor="start" font-weight="bold" >Lyso</text>
<text x="360.2" y="596.6" font-size="10.5" fill="#e6e232" text-anchor="start" font-weight="bold" >Merge</text>
<rect x="529.1" y="559.3" width="239.9" height="24.4" fill="#c5d9f0" />
<text x="651.5" y="578.9" font-size="15.5" fill="#111" text-anchor="middle" font-weight="bold" stroke="#111" stroke-width="0.3" >2h</text>
<g clip-path="url(#c22)"><rect x="609.8" y="585.5" width="159.2" height="158" fill="#0a0304" /><g transform="translate(609.8 585.5)"><g filter="url(#rtex)"><ellipse cx="28" cy="78" rx="18.5" ry="19" fill="none" stroke="#b4161f" stroke-width="5" stroke-opacity="0.4"/><ellipse cx="56.4" cy="101.2" rx="14.5" ry="18" fill="none" stroke="#b4161f" stroke-width="5" stroke-opacity="0.4"/><ellipse cx="98" cy="77.5" rx="19.5" ry="18.5" fill="none" stroke="#b4161f" stroke-width="5" stroke-opacity="0.4"/><ellipse cx="99.3" cy="108.4" rx="16.5" ry="15.5" fill="none" stroke="#b4161f" stroke-width="5" stroke-opacity="0.4"/><ellipse cx="133" cy="51.5" rx="16.5" ry="24.5" fill="none" transform="rotate(15 133 51.5)" stroke="#b4161f" stroke-width="5" stroke-opacity="0.4"/><ellipse cx="77" cy="92" rx="8" ry="58" fill="#b4161f" transform="rotate(5 77 92)" fill-opacity="0.3"/><ellipse cx="88" cy="38" rx="10" ry="24" fill="#b4161f" fill-opacity="0.2"/><ellipse cx="75" cy="100" rx="35" ry="45" fill="#b4161f" fill-opacity="0.1"/><ellipse cx="15" cy="122" rx="22" ry="20" fill="#b4161f" transform="rotate(-15 15 122)" fill-opacity="0.3"/><ellipse cx="72" cy="138" rx="14" ry="16" fill="#b4161f" fill-opacity="0.2"/><ellipse cx="140" cy="105" rx="10" ry="8" fill="#b4161f" fill-opacity="0.1"/></g><circle cx="151.3" cy="41.7" r="2.8" fill="#e02030" fill-opacity="0.45" filter="url(#b06)"/><circle cx="144.1" cy="71.6" r="1.6" fill="#e02030" fill-opacity="0.45" filter="url(#b06)"/><circle cx="141" cy="73.6" r="1.4" fill="#e02030" fill-opacity="0.45" filter="url(#b06)"/><circle cx="141" cy="76.7" r="2.4" fill="#e02030" fill-opacity="0.45" filter="url(#b06)"/><circle cx="145.1" cy="63.4" r="1.2" fill="#e02030" fill-opacity="0.45" filter="url(#b06)"/><circle cx="147.2" cy="59.2" r="1.2" fill="#e02030" fill-opacity="0.45" filter="url(#b06)"/><circle cx="90" cy="61.3" r="1.4" fill="#e02030" fill-opacity="0.45" filter="url(#b06)"/><circle cx="70.3" cy="99.1" r="2.6" fill="#e02030" fill-opacity="0.45" filter="url(#b06)"/><circle cx="60" cy="121.8" r="2.9" fill="#e02030" fill-opacity="0.45" filter="url(#b06)"/><circle cx="44.5" cy="89.9" r="1.6" fill="#e02030" fill-opacity="0.45" filter="url(#b06)"/><circle cx="46.6" cy="83.7" r="1.4" fill="#e02030" fill-opacity="0.45" filter="url(#b06)"/><circle cx="45.5" cy="80.6" r="1.4" fill="#e02030" fill-opacity="0.45" filter="url(#b06)"/><circle cx="42" cy="93" r="1.3" fill="#e02030" fill-opacity="0.45" filter="url(#b06)"/><circle cx="59" cy="78.5" r="1.9" fill="#e02030" fill-opacity="0.45" filter="url(#b06)"/><circle cx="54.3" cy="119.2" r="1.3" fill="#e02030" fill-opacity="0.45" filter="url(#b06)"/><circle cx="63" cy="120.8" r="1.3" fill="#e02030" fill-opacity="0.45" filter="url(#b06)"/><circle cx="63" cy="85.7" r="1.3" fill="#e02030" fill-opacity="0.45" filter="url(#b06)"/><circle cx="27.5" cy="99.6" r="1.2" fill="#e02030" fill-opacity="0.45" filter="url(#b06)"/><circle cx="5.9" cy="108.9" r="1.2" fill="#e02030" fill-opacity="0.45" filter="url(#b06)"/><circle cx="12.6" cy="110.5" r="1.2" fill="#e02030" fill-opacity="0.45" filter="url(#b06)"/><circle cx="13.1" cy="118.7" r="1.2" fill="#e02030" fill-opacity="0.45" filter="url(#b06)"/><circle cx="20.3" cy="123.8" r="1.2" fill="#e02030" fill-opacity="0.45" filter="url(#b06)"/><circle cx="21.9" cy="132.1" r="1.4" fill="#e02030" fill-opacity="0.45" filter="url(#b06)"/><circle cx="16.7" cy="133.6" r="1.2" fill="#e02030" fill-opacity="0.45" filter="url(#b06)"/><circle cx="14.7" cy="138.3" r="1.2" fill="#e02030" fill-opacity="0.45" filter="url(#b06)"/><circle cx="13.1" cy="72.9" r="1.2" fill="#e02030" fill-opacity="0.45" filter="url(#b06)"/><circle cx="22.7" cy="61.2" r="1.2" fill="#e02030" fill-opacity="0.45" filter="url(#b06)"/><circle cx="28" cy="58" r="1.2" fill="#e02030" fill-opacity="0.45" filter="url(#b06)"/><circle cx="34" cy="60" r="1.2" fill="#e02030" fill-opacity="0.45" filter="url(#b06)"/><circle cx="38" cy="62" r="1.2" fill="#e02030" fill-opacity="0.45" filter="url(#b06)"/><circle cx="89.6" cy="61.2" r="1.3" fill="#e02030" fill-opacity="0.45" filter="url(#b06)"/><circle cx="78" cy="84" r="1.4" fill="#e02030" fill-opacity="0.45" filter="url(#b06)"/><circle cx="48" cy="74" r="1.6" fill="#e02030" fill-opacity="0.45" filter="url(#b06)"/><circle cx="81" cy="110" r="1.2" fill="#e02030" fill-opacity="0.45" filter="url(#b06)"/><circle cx="84" cy="116" r="1.2" fill="#e02030" fill-opacity="0.45" filter="url(#b06)"/><circle cx="79" cy="122" r="1.2" fill="#e02030" fill-opacity="0.45" filter="url(#b06)"/><circle cx="87" cy="101" r="1.2" fill="#e02030" fill-opacity="0.45" filter="url(#b06)"/><circle cx="47.1" cy="96.1" r="1" fill="#e02030" fill-opacity="0.45" filter="url(#b06)"/><circle cx="38.7" cy="94.2" r="0.7" fill="#e02030" fill-opacity="0.45" filter="url(#b06)"/><circle cx="53" cy="82.6" r="1.2" fill="#e02030" fill-opacity="0.45" filter="url(#b06)"/><circle cx="51.7" cy="78.6" r="0.8" fill="#e02030" fill-opacity="0.45" filter="url(#b06)"/><circle cx="50.5" cy="89.3" r="0.9" fill="#e02030" fill-opacity="0.45" filter="url(#b06)"/><circle cx="45.5" cy="73.1" r="0.9" fill="#e02030" fill-opacity="0.45" filter="url(#b06)"/><circle cx="49.1" cy="94.2" r="1.1" fill="#e02030" fill-opacity="0.45" filter="url(#b06)"/><circle cx="51.7" cy="92.4" r="1" fill="#e02030" fill-opacity="0.45" filter="url(#b06)"/><circle cx="43.5" cy="74.7" r="1.1" fill="#e02030" fill-opacity="0.45" filter="url(#b06)"/><circle cx="51.6" cy="87" r="0.9" fill="#e02030" fill-opacity="0.45" filter="url(#b06)"/><circle cx="51.2" cy="92.6" r="0.8" fill="#e02030" fill-opacity="0.45" filter="url(#b06)"/><circle cx="50.8" cy="92.9" r="1.2" fill="#e02030" fill-opacity="0.45" filter="url(#b06)"/><circle cx="47" cy="75.2" r="1.1" fill="#e02030" fill-opacity="0.45" filter="url(#b06)"/><circle cx="48.4" cy="98.9" r="1.2" fill="#e02030" fill-opacity="0.45" filter="url(#b06)"/><circle cx="53.2" cy="89.9" r="0.9" fill="#e02030" fill-opacity="0.45" filter="url(#b06)"/><circle cx="44.2" cy="72.5" r="1" fill="#e02030" fill-opacity="0.45" filter="url(#b06)"/><circle cx="47.9" cy="74.3" r="1.1" fill="#e02030" fill-opacity="0.45" filter="url(#b06)"/><circle cx="39.4" cy="75.7" r="0.9" fill="#e02030" fill-opacity="0.45" filter="url(#b06)"/><circle cx="37.2" cy="65.7" r="0.9" fill="#e02030" fill-opacity="0.45" filter="url(#b06)"/><circle cx="43.5" cy="62.4" r="1.3" fill="#e02030" fill-opacity="0.45" filter="url(#b06)"/><circle cx="38.5" cy="61.2" r="0.9" fill="#e02030" fill-opacity="0.45" filter="url(#b06)"/><circle cx="42.5" cy="60.4" r="0.7" fill="#e02030" fill-opacity="0.45" filter="url(#b06)"/><circle cx="19.4" cy="60.7" r="1.2" fill="#e02030" fill-opacity="0.45" filter="url(#b06)"/><circle cx="30.7" cy="59.2" r="0.8" fill="#e02030" fill-opacity="0.45" filter="url(#b06)"/><circle cx="25.5" cy="66.1" r="1" fill="#e02030" fill-opacity="0.45" filter="url(#b06)"/><circle cx="26.9" cy="66.4" r="1.1" fill="#e02030" fill-opacity="0.45" filter="url(#b06)"/><circle cx="23" cy="66.3" r="1.1" fill="#e02030" fill-opacity="0.45" filter="url(#b06)"/><circle cx="31.4" cy="57.3" r="1" fill="#e02030" fill-opacity="0.45" filter="url(#b06)"/><circle cx="66.9" cy="102.6" r="1.2" fill="#e02030" fill-opacity="0.45" filter="url(#b06)"/><circle cx="72.2" cy="110.1" r="1.1" fill="#e02030" fill-opacity="0.45" filter="url(#b06)"/><circle cx="61.5" cy="102.2" r="0.7" fill="#e02030" fill-opacity="0.45" filter="url(#b06)"/><circle cx="73.1" cy="116.8" r="0.9" fill="#e02030" fill-opacity="0.45" filter="url(#b06)"/><circle cx="65.8" cy="122.3" r="0.7" fill="#e02030" fill-opacity="0.45" filter="url(#b06)"/><circle cx="71.1" cy="109" r="0.9" fill="#e02030" fill-opacity="0.45" filter="url(#b06)"/><circle cx="70.6" cy="113.6" r="1.1" fill="#e02030" fill-opacity="0.45" filter="url(#b06)"/><circle cx="73.2" cy="112.7" r="1.2" fill="#e02030" fill-opacity="0.45" filter="url(#b06)"/><circle cx="62.4" cy="102.6" r="1" fill="#e02030" fill-opacity="0.45" filter="url(#b06)"/><circle cx="71.5" cy="112" r="1.1" fill="#e02030" fill-opacity="0.45" filter="url(#b06)"/><circle cx="79.4" cy="106.7" r="1.2" fill="#e02030" fill-opacity="0.45" filter="url(#b06)"/><circle cx="82.2" cy="122.7" r="1" fill="#e02030" fill-opacity="0.45" filter="url(#b06)"/><circle cx="80.7" cy="105.4" r="1.2" fill="#e02030" fill-opacity="0.45" filter="url(#b06)"/><circle cx="81.3" cy="105.9" r="1.1" fill="#e02030" fill-opacity="0.45" filter="url(#b06)"/><circle cx="87.4" cy="103.1" r="1.2" fill="#e02030" fill-opacity="0.45" filter="url(#b06)"/><circle cx="86.1" cy="100.9" r="0.9" fill="#e02030" fill-opacity="0.45" filter="url(#b06)"/><circle cx="82.4" cy="98.2" r="1.1" fill="#e02030" fill-opacity="0.45" filter="url(#b06)"/><circle cx="85.5" cy="118.6" r="1.3" fill="#e02030" fill-opacity="0.45" filter="url(#b06)"/><circle cx="83.9" cy="98.6" r="1.2" fill="#e02030" fill-opacity="0.45" filter="url(#b06)"/><circle cx="79.8" cy="116.7" r="1" fill="#e02030" fill-opacity="0.45" filter="url(#b06)"/><circle cx="81.3" cy="119.5" r="0.9" fill="#e02030" fill-opacity="0.45" filter="url(#b06)"/><circle cx="82" cy="122.6" r="0.9" fill="#e02030" fill-opacity="0.45" filter="url(#b06)"/><circle cx="19" cy="114.6" r="0.8" fill="#e02030" fill-opacity="0.45" filter="url(#b06)"/><circle cx="15" cy="133.3" r="0.9" fill="#e02030" fill-opacity="0.45" filter="url(#b06)"/><circle cx="20.2" cy="128.2" r="1.3" fill="#e02030" fill-opacity="0.45" filter="url(#b06)"/><circle cx="14.5" cy="108.9" r="1.2" fill="#e02030" fill-opacity="0.45" filter="url(#b06)"/><circle cx="18.3" cy="129" r="0.7" fill="#e02030" fill-opacity="0.45" filter="url(#b06)"/><circle cx="22" cy="121.9" r="1.2" fill="#e02030" fill-opacity="0.45" filter="url(#b06)"/><circle cx="8.2" cy="121.2" r="0.8" fill="#e02030" fill-opacity="0.45" filter="url(#b06)"/><circle cx="20.1" cy="130.9" r="0.9" fill="#e02030" fill-opacity="0.45" filter="url(#b06)"/><circle cx="13" cy="113" r="1.1" fill="#e02030" fill-opacity="0.45" filter="url(#b06)"/><circle cx="10.7" cy="127.1" r="1" fill="#e02030" fill-opacity="0.45" filter="url(#b06)"/><circle cx="143.7" cy="75.7" r="1.1" fill="#e02030" fill-opacity="0.45" filter="url(#b06)"/><circle cx="140.8" cy="72.2" r="1.1" fill="#e02030" fill-opacity="0.45" filter="url(#b06)"/><circle cx="147.4" cy="71" r="1.1" fill="#e02030" fill-opacity="0.45" filter="url(#b06)"/><circle cx="142.5" cy="58.4" r="0.9" fill="#e02030" fill-opacity="0.45" filter="url(#b06)"/><circle cx="141.7" cy="57" r="0.8" fill="#e02030" fill-opacity="0.45" filter="url(#b06)"/><circle cx="146.5" cy="74" r="1.1" fill="#e02030" fill-opacity="0.45" filter="url(#b06)"/><circle cx="141.9" cy="72.3" r="1.2" fill="#e02030" fill-opacity="0.45" filter="url(#b06)"/><circle cx="143.5" cy="55" r="0.8" fill="#e02030" fill-opacity="0.45" filter="url(#b06)"/><g filter="url(#ntex)" opacity="0.72"><ellipse cx="28" cy="78.2" rx="15.4" ry="15.9" fill="url(#nucg)" /><ellipse cx="56.4" cy="101.2" rx="11.8" ry="15.5" fill="url(#nucg)" /><ellipse cx="98" cy="77.5" rx="16.5" ry="15.5" fill="url(#nucg)" /><ellipse cx="99.3" cy="108.4" rx="13.9" ry="13.4" fill="url(#nucg)" /><ellipse cx="133" cy="51.5" rx="14" ry="22" fill="url(#nucg)" transform="rotate(15 133 51.5)" /><ellipse cx="6" cy="125.5" rx="8.5" ry="16" fill="url(#nucg)" /></g><circle cx="151.3" cy="41.7" r="2.2" fill="#48dc48" fill-opacity="0.9" filter="url(#b06)"/><circle cx="144.1" cy="71.6" r="1.2" fill="#f0d850" fill-opacity="0.9" filter="url(#b06)"/><circle cx="141" cy="73.6" r="1.1" fill="#f0d850" fill-opacity="0.9" filter="url(#b06)"/><circle cx="141" cy="76.7" r="1.9" fill="#48dc48" fill-opacity="0.9" filter="url(#b06)"/><circle cx="145.1" cy="63.4" r="0.9" fill="#f0d850" fill-opacity="0.9" filter="url(#b06)"/><circle cx="147.2" cy="59.2" r="0.9" fill="#f0d850" fill-opacity="0.9" filter="url(#b06)"/><circle cx="90" cy="61.3" r="1.1" fill="#f0d850" fill-opacity="0.9" filter="url(#b06)"/><circle cx="70.3" cy="99.1" r="2.1" fill="#48dc48" fill-opacity="0.9" filter="url(#b06)"/><circle cx="60" cy="121.8" r="2.3" fill="#48dc48" fill-opacity="0.9" filter="url(#b06)"/><circle cx="44.5" cy="89.9" r="1.2" fill="#48dc48" fill-opacity="0.9" filter="url(#b06)"/><circle cx="46.6" cy="83.7" r="1.1" fill="#48dc48" fill-opacity="0.9" filter="url(#b06)"/><circle cx="45.5" cy="80.6" r="1.1" fill="#48dc48" fill-opacity="0.9" filter="url(#b06)"/><circle cx="42" cy="93" r="1" fill="#48dc48" fill-opacity="0.9" filter="url(#b06)"/><circle cx="59" cy="78.5" r="1.5" fill="#48dc48" fill-opacity="0.9" filter="url(#b06)"/><circle cx="54.3" cy="119.2" r="1" fill="#f0d850" fill-opacity="0.9" filter="url(#b06)"/><circle cx="63" cy="120.8" r="1" fill="#f0d850" fill-opacity="0.9" filter="url(#b06)"/><circle cx="63" cy="85.7" r="1" fill="#f0d850" fill-opacity="0.9" filter="url(#b06)"/><circle cx="27.5" cy="99.6" r="0.9" fill="#f0d850" fill-opacity="0.9" filter="url(#b06)"/><circle cx="5.9" cy="108.9" r="0.9" fill="#f0d850" fill-opacity="0.9" filter="url(#b06)"/><circle cx="12.6" cy="110.5" r="0.9" fill="#f0d850" fill-opacity="0.9" filter="url(#b06)"/><circle cx="13.1" cy="118.7" r="0.9" fill="#f0d850" fill-opacity="0.9" filter="url(#b06)"/><circle cx="20.3" cy="123.8" r="0.9" fill="#f0d850" fill-opacity="0.9" filter="url(#b06)"/><circle cx="21.9" cy="132.1" r="1.1" fill="#f0d850" fill-opacity="0.9" filter="url(#b06)"/><circle cx="16.7" cy="133.6" r="0.9" fill="#f0d850" fill-opacity="0.9" filter="url(#b06)"/><circle cx="14.7" cy="138.3" r="0.9" fill="#f0d850" fill-opacity="0.9" filter="url(#b06)"/><circle cx="13.1" cy="72.9" r="0.9" fill="#48dc48" fill-opacity="0.9" filter="url(#b06)"/><circle cx="22.7" cy="61.2" r="0.9" fill="#48dc48" fill-opacity="0.9" filter="url(#b06)"/><circle cx="28" cy="58" r="0.9" fill="#48dc48" fill-opacity="0.9" filter="url(#b06)"/><circle cx="34" cy="60" r="0.9" fill="#48dc48" fill-opacity="0.9" filter="url(#b06)"/><circle cx="38" cy="62" r="0.9" fill="#f0d850" fill-opacity="0.9" filter="url(#b06)"/><circle cx="89.6" cy="61.2" r="1" fill="#48dc48" fill-opacity="0.9" filter="url(#b06)"/><circle cx="78" cy="84" r="1.1" fill="#48dc48" fill-opacity="0.9" filter="url(#b06)"/><circle cx="48" cy="74" r="1.2" fill="#48dc48" fill-opacity="0.9" filter="url(#b06)"/><circle cx="81" cy="110" r="0.9" fill="#f0d850" fill-opacity="0.9" filter="url(#b06)"/><circle cx="84" cy="116" r="0.9" fill="#f0d850" fill-opacity="0.9" filter="url(#b06)"/><circle cx="79" cy="122" r="0.9" fill="#f0d850" fill-opacity="0.9" filter="url(#b06)"/><circle cx="87" cy="101" r="0.9" fill="#f0d850" fill-opacity="0.9" filter="url(#b06)"/><circle cx="47.1" cy="96.1" r="0.8" fill="#48dc48" fill-opacity="0.9" filter="url(#b06)"/><circle cx="38.7" cy="94.2" r="0.6" fill="#48dc48" fill-opacity="0.9" filter="url(#b06)"/><circle cx="53" cy="82.6" r="0.9" fill="#48dc48" fill-opacity="0.9" filter="url(#b06)"/><circle cx="51.7" cy="78.6" r="0.6" fill="#48dc48" fill-opacity="0.9" filter="url(#b06)"/><circle cx="50.5" cy="89.3" r="0.7" fill="#48dc48" fill-opacity="0.9" filter="url(#b06)"/><circle cx="45.5" cy="73.1" r="0.7" fill="#48dc48" fill-opacity="0.9" filter="url(#b06)"/><circle cx="49.1" cy="94.2" r="0.9" fill="#48dc48" fill-opacity="0.9" filter="url(#b06)"/><circle cx="51.7" cy="92.4" r="0.8" fill="#f0d850" fill-opacity="0.9" filter="url(#b06)"/><circle cx="43.5" cy="74.7" r="0.8" fill="#f0d850" fill-opacity="0.9" filter="url(#b06)"/><circle cx="51.6" cy="87" r="0.7" fill="#f0d850" fill-opacity="0.9" filter="url(#b06)"/><circle cx="51.2" cy="92.6" r="0.6" fill="#48dc48" fill-opacity="0.9" filter="url(#b06)"/><circle cx="50.8" cy="92.9" r="0.9" fill="#f0d850" fill-opacity="0.9" filter="url(#b06)"/><circle cx="47" cy="75.2" r="0.9" fill="#48dc48" fill-opacity="0.9" filter="url(#b06)"/><circle cx="48.4" cy="98.9" r="0.9" fill="#48dc48" fill-opacity="0.9" filter="url(#b06)"/><circle cx="53.2" cy="89.9" r="0.7" fill="#48dc48" fill-opacity="0.9" filter="url(#b06)"/><circle cx="44.2" cy="72.5" r="0.8" fill="#48dc48" fill-opacity="0.9" filter="url(#b06)"/><circle cx="47.9" cy="74.3" r="0.9" fill="#f0d850" fill-opacity="0.9" filter="url(#b06)"/><circle cx="39.4" cy="75.7" r="0.7" fill="#48dc48" fill-opacity="0.9" filter="url(#b06)"/><circle cx="37.2" cy="65.7" r="0.7" fill="#48dc48" fill-opacity="0.9" filter="url(#b06)"/><circle cx="43.5" cy="62.4" r="1" fill="#48dc48" fill-opacity="0.9" filter="url(#b06)"/><circle cx="38.5" cy="61.2" r="0.7" fill="#48dc48" fill-opacity="0.9" filter="url(#b06)"/><circle cx="42.5" cy="60.4" r="0.6" fill="#48dc48" fill-opacity="0.9" filter="url(#b06)"/><circle cx="19.4" cy="60.7" r="0.9" fill="#48dc48" fill-opacity="0.9" filter="url(#b06)"/><circle cx="30.7" cy="59.2" r="0.6" fill="#48dc48" fill-opacity="0.9" filter="url(#b06)"/><circle cx="25.5" cy="66.1" r="0.8" fill="#f0d850" fill-opacity="0.9" filter="url(#b06)"/><circle cx="26.9" cy="66.4" r="0.9" fill="#48dc48" fill-opacity="0.9" filter="url(#b06)"/><circle cx="23" cy="66.3" r="0.9" fill="#f0d850" fill-opacity="0.9" filter="url(#b06)"/><circle cx="31.4" cy="57.3" r="0.8" fill="#48dc48" fill-opacity="0.9" filter="url(#b06)"/><circle cx="66.9" cy="102.6" r="1" fill="#48dc48" fill-opacity="0.9" filter="url(#b06)"/><circle cx="72.2" cy="110.1" r="0.9" fill="#48dc48" fill-opacity="0.9" filter="url(#b06)"/><circle cx="61.5" cy="102.2" r="0.6" fill="#f0d850" fill-opacity="0.9" filter="url(#b06)"/><circle cx="73.1" cy="116.8" r="0.7" fill="#f0d850" fill-opacity="0.9" filter="url(#b06)"/><circle cx="65.8" cy="122.3" r="0.6" fill="#f0d850" fill-opacity="0.9" filter="url(#b06)"/><circle cx="71.1" cy="109" r="0.7" fill="#48dc48" fill-opacity="0.9" filter="url(#b06)"/><circle cx="70.6" cy="113.6" r="0.9" fill="#48dc48" fill-opacity="0.9" filter="url(#b06)"/><circle cx="73.2" cy="112.7" r="1" fill="#f0d850" fill-opacity="0.9" filter="url(#b06)"/><circle cx="62.4" cy="102.6" r="0.8" fill="#48dc48" fill-opacity="0.9" filter="url(#b06)"/><circle cx="71.5" cy="112" r="0.9" fill="#f0d850" fill-opacity="0.9" filter="url(#b06)"/><circle cx="79.4" cy="106.7" r="1" fill="#f0d850" fill-opacity="0.9" filter="url(#b06)"/><circle cx="82.2" cy="122.7" r="0.8" fill="#f0d850" fill-opacity="0.9" filter="url(#b06)"/><circle cx="80.7" cy="105.4" r="1" fill="#f0d850" fill-opacity="0.9" filter="url(#b06)"/><circle cx="81.3" cy="105.9" r="0.9" fill="#f0d850" fill-opacity="0.9" filter="url(#b06)"/><circle cx="87.4" cy="103.1" r="0.9" fill="#48dc48" fill-opacity="0.9" filter="url(#b06)"/><circle cx="86.1" cy="100.9" r="0.7" fill="#f0d850" fill-opacity="0.9" filter="url(#b06)"/><circle cx="82.4" cy="98.2" r="0.9" fill="#f0d850" fill-opacity="0.9" filter="url(#b06)"/><circle cx="85.5" cy="118.6" r="1" fill="#f0d850" fill-opacity="0.9" filter="url(#b06)"/><circle cx="83.9" cy="98.6" r="0.9" fill="#f0d850" fill-opacity="0.9" filter="url(#b06)"/><circle cx="79.8" cy="116.7" r="0.8" fill="#f0d850" fill-opacity="0.9" filter="url(#b06)"/><circle cx="81.3" cy="119.5" r="0.7" fill="#f0d850" fill-opacity="0.9" filter="url(#b06)"/><circle cx="82" cy="122.6" r="0.7" fill="#f0d850" fill-opacity="0.9" filter="url(#b06)"/><circle cx="19" cy="114.6" r="0.6" fill="#f0d850" fill-opacity="0.9" filter="url(#b06)"/><circle cx="15" cy="133.3" r="0.7" fill="#f0d850" fill-opacity="0.9" filter="url(#b06)"/><circle cx="20.2" cy="128.2" r="1" fill="#f0d850" fill-opacity="0.9" filter="url(#b06)"/><circle cx="14.5" cy="108.9" r="1" fill="#f0d850" fill-opacity="0.9" filter="url(#b06)"/><circle cx="18.3" cy="129" r="0.6" fill="#f0d850" fill-opacity="0.9" filter="url(#b06)"/><circle cx="22" cy="121.9" r="0.9" fill="#f0d850" fill-opacity="0.9" filter="url(#b06)"/><circle cx="8.2" cy="121.2" r="0.6" fill="#f0d850" fill-opacity="0.9" filter="url(#b06)"/><circle cx="20.1" cy="130.9" r="0.7" fill="#f0d850" fill-opacity="0.9" filter="url(#b06)"/><circle cx="13" cy="113" r="0.9" fill="#f0d850" fill-opacity="0.9" filter="url(#b06)"/><circle cx="10.7" cy="127.1" r="0.8" fill="#f0d850" fill-opacity="0.9" filter="url(#b06)"/><circle cx="143.7" cy="75.7" r="0.8" fill="#f0d850" fill-opacity="0.9" filter="url(#b06)"/><circle cx="140.8" cy="72.2" r="0.9" fill="#f0d850" fill-opacity="0.9" filter="url(#b06)"/><circle cx="147.4" cy="71" r="0.8" fill="#f0d850" fill-opacity="0.9" filter="url(#b06)"/><circle cx="142.5" cy="58.4" r="0.7" fill="#f0d850" fill-opacity="0.9" filter="url(#b06)"/><circle cx="141.7" cy="57" r="0.7" fill="#f0d850" fill-opacity="0.9" filter="url(#b06)"/><circle cx="146.5" cy="74" r="0.8" fill="#f0d850" fill-opacity="0.9" filter="url(#b06)"/><circle cx="141.9" cy="72.3" r="0.9" fill="#f0d850" fill-opacity="0.9" filter="url(#b06)"/><circle cx="143.5" cy="55" r="0.6" fill="#f0d850" fill-opacity="0.9" filter="url(#b06)"/></g></g>
<g clip-path="url(#c23)"><rect x="529.1" y="585.5" width="77.9" height="77.7" fill="#0a0304" /><g transform="translate(529.1 585.5) scale(0.4893)"><g filter="url(#rtex)"><ellipse cx="28" cy="78" rx="18.5" ry="19" fill="none" stroke="#b4161f" stroke-width="5" stroke-opacity="0.4"/><ellipse cx="56.4" cy="101.2" rx="14.5" ry="18" fill="none" stroke="#b4161f" stroke-width="5" stroke-opacity="0.4"/><ellipse cx="98" cy="77.5" rx="19.5" ry="18.5" fill="none" stroke="#b4161f" stroke-width="5" stroke-opacity="0.4"/><ellipse cx="99.3" cy="108.4" rx="16.5" ry="15.5" fill="none" stroke="#b4161f" stroke-width="5" stroke-opacity="0.4"/><ellipse cx="133" cy="51.5" rx="16.5" ry="24.5" fill="none" transform="rotate(15 133 51.5)" stroke="#b4161f" stroke-width="5" stroke-opacity="0.4"/><ellipse cx="77" cy="92" rx="8" ry="58" fill="#b4161f" transform="rotate(5 77 92)" fill-opacity="0.3"/><ellipse cx="88" cy="38" rx="10" ry="24" fill="#b4161f" fill-opacity="0.2"/><ellipse cx="75" cy="100" rx="35" ry="45" fill="#b4161f" fill-opacity="0.1"/><ellipse cx="15" cy="122" rx="22" ry="20" fill="#b4161f" transform="rotate(-15 15 122)" fill-opacity="0.3"/><ellipse cx="72" cy="138" rx="14" ry="16" fill="#b4161f" fill-opacity="0.2"/><ellipse cx="140" cy="105" rx="10" ry="8" fill="#b4161f" fill-opacity="0.1"/></g><circle cx="151.3" cy="41.7" r="2.8" fill="#e02030" fill-opacity="0.45" filter="url(#b06)"/><circle cx="144.1" cy="71.6" r="1.6" fill="#e02030" fill-opacity="0.45" filter="url(#b06)"/><circle cx="141" cy="73.6" r="1.4" fill="#e02030" fill-opacity="0.45" filter="url(#b06)"/><circle cx="141" cy="76.7" r="2.4" fill="#e02030" fill-opacity="0.45" filter="url(#b06)"/><circle cx="145.1" cy="63.4" r="1.2" fill="#e02030" fill-opacity="0.45" filter="url(#b06)"/><circle cx="147.2" cy="59.2" r="1.2" fill="#e02030" fill-opacity="0.45" filter="url(#b06)"/><circle cx="90" cy="61.3" r="1.4" fill="#e02030" fill-opacity="0.45" filter="url(#b06)"/><circle cx="70.3" cy="99.1" r="2.6" fill="#e02030" fill-opacity="0.45" filter="url(#b06)"/><circle cx="60" cy="121.8" r="2.9" fill="#e02030" fill-opacity="0.45" filter="url(#b06)"/><circle cx="44.5" cy="89.9" r="1.6" fill="#e02030" fill-opacity="0.45" filter="url(#b06)"/><circle cx="46.6" cy="83.7" r="1.4" fill="#e02030" fill-opacity="0.45" filter="url(#b06)"/><circle cx="45.5" cy="80.6" r="1.4" fill="#e02030" fill-opacity="0.45" filter="url(#b06)"/><circle cx="42" cy="93" r="1.3" fill="#e02030" fill-opacity="0.45" filter="url(#b06)"/><circle cx="59" cy="78.5" r="1.9" fill="#e02030" fill-opacity="0.45" filter="url(#b06)"/><circle cx="54.3" cy="119.2" r="1.3" fill="#e02030" fill-opacity="0.45" filter="url(#b06)"/><circle cx="63" cy="120.8" r="1.3" fill="#e02030" fill-opacity="0.45" filter="url(#b06)"/><circle cx="63" cy="85.7" r="1.3" fill="#e02030" fill-opacity="0.45" filter="url(#b06)"/><circle cx="27.5" cy="99.6" r="1.2" fill="#e02030" fill-opacity="0.45" filter="url(#b06)"/><circle cx="5.9" cy="108.9" r="1.2" fill="#e02030" fill-opacity="0.45" filter="url(#b06)"/><circle cx="12.6" cy="110.5" r="1.2" fill="#e02030" fill-opacity="0.45" filter="url(#b06)"/><circle cx="13.1" cy="118.7" r="1.2" fill="#e02030" fill-opacity="0.45" filter="url(#b06)"/><circle cx="20.3" cy="123.8" r="1.2" fill="#e02030" fill-opacity="0.45" filter="url(#b06)"/><circle cx="21.9" cy="132.1" r="1.4" fill="#e02030" fill-opacity="0.45" filter="url(#b06)"/><circle cx="16.7" cy="133.6" r="1.2" fill="#e02030" fill-opacity="0.45" filter="url(#b06)"/><circle cx="14.7" cy="138.3" r="1.2" fill="#e02030" fill-opacity="0.45" filter="url(#b06)"/><circle cx="13.1" cy="72.9" r="1.2" fill="#e02030" fill-opacity="0.45" filter="url(#b06)"/><circle cx="22.7" cy="61.2" r="1.2" fill="#e02030" fill-opacity="0.45" filter="url(#b06)"/><circle cx="28" cy="58" r="1.2" fill="#e02030" fill-opacity="0.45" filter="url(#b06)"/><circle cx="34" cy="60" r="1.2" fill="#e02030" fill-opacity="0.45" filter="url(#b06)"/><circle cx="38" cy="62" r="1.2" fill="#e02030" fill-opacity="0.45" filter="url(#b06)"/><circle cx="89.6" cy="61.2" r="1.3" fill="#e02030" fill-opacity="0.45" filter="url(#b06)"/><circle cx="78" cy="84" r="1.4" fill="#e02030" fill-opacity="0.45" filter="url(#b06)"/><circle cx="48" cy="74" r="1.6" fill="#e02030" fill-opacity="0.45" filter="url(#b06)"/><circle cx="81" cy="110" r="1.2" fill="#e02030" fill-opacity="0.45" filter="url(#b06)"/><circle cx="84" cy="116" r="1.2" fill="#e02030" fill-opacity="0.45" filter="url(#b06)"/><circle cx="79" cy="122" r="1.2" fill="#e02030" fill-opacity="0.45" filter="url(#b06)"/><circle cx="87" cy="101" r="1.2" fill="#e02030" fill-opacity="0.45" filter="url(#b06)"/><circle cx="47.1" cy="96.1" r="1" fill="#e02030" fill-opacity="0.45" filter="url(#b06)"/><circle cx="38.7" cy="94.2" r="0.7" fill="#e02030" fill-opacity="0.45" filter="url(#b06)"/><circle cx="53" cy="82.6" r="1.2" fill="#e02030" fill-opacity="0.45" filter="url(#b06)"/><circle cx="51.7" cy="78.6" r="0.8" fill="#e02030" fill-opacity="0.45" filter="url(#b06)"/><circle cx="50.5" cy="89.3" r="0.9" fill="#e02030" fill-opacity="0.45" filter="url(#b06)"/><circle cx="45.5" cy="73.1" r="0.9" fill="#e02030" fill-opacity="0.45" filter="url(#b06)"/><circle cx="49.1" cy="94.2" r="1.1" fill="#e02030" fill-opacity="0.45" filter="url(#b06)"/><circle cx="51.7" cy="92.4" r="1" fill="#e02030" fill-opacity="0.45" filter="url(#b06)"/><circle cx="43.5" cy="74.7" r="1.1" fill="#e02030" fill-opacity="0.45" filter="url(#b06)"/><circle cx="51.6" cy="87" r="0.9" fill="#e02030" fill-opacity="0.45" filter="url(#b06)"/><circle cx="51.2" cy="92.6" r="0.8" fill="#e02030" fill-opacity="0.45" filter="url(#b06)"/><circle cx="50.8" cy="92.9" r="1.2" fill="#e02030" fill-opacity="0.45" filter="url(#b06)"/><circle cx="47" cy="75.2" r="1.1" fill="#e02030" fill-opacity="0.45" filter="url(#b06)"/><circle cx="48.4" cy="98.9" r="1.2" fill="#e02030" fill-opacity="0.45" filter="url(#b06)"/><circle cx="53.2" cy="89.9" r="0.9" fill="#e02030" fill-opacity="0.45" filter="url(#b06)"/><circle cx="44.2" cy="72.5" r="1" fill="#e02030" fill-opacity="0.45" filter="url(#b06)"/><circle cx="47.9" cy="74.3" r="1.1" fill="#e02030" fill-opacity="0.45" filter="url(#b06)"/><circle cx="39.4" cy="75.7" r="0.9" fill="#e02030" fill-opacity="0.45" filter="url(#b06)"/><circle cx="37.2" cy="65.7" r="0.9" fill="#e02030" fill-opacity="0.45" filter="url(#b06)"/><circle cx="43.5" cy="62.4" r="1.3" fill="#e02030" fill-opacity="0.45" filter="url(#b06)"/><circle cx="38.5" cy="61.2" r="0.9" fill="#e02030" fill-opacity="0.45" filter="url(#b06)"/><circle cx="42.5" cy="60.4" r="0.7" fill="#e02030" fill-opacity="0.45" filter="url(#b06)"/><circle cx="19.4" cy="60.7" r="1.2" fill="#e02030" fill-opacity="0.45" filter="url(#b06)"/><circle cx="30.7" cy="59.2" r="0.8" fill="#e02030" fill-opacity="0.45" filter="url(#b06)"/><circle cx="25.5" cy="66.1" r="1" fill="#e02030" fill-opacity="0.45" filter="url(#b06)"/><circle cx="26.9" cy="66.4" r="1.1" fill="#e02030" fill-opacity="0.45" filter="url(#b06)"/><circle cx="23" cy="66.3" r="1.1" fill="#e02030" fill-opacity="0.45" filter="url(#b06)"/><circle cx="31.4" cy="57.3" r="1" fill="#e02030" fill-opacity="0.45" filter="url(#b06)"/><circle cx="66.9" cy="102.6" r="1.2" fill="#e02030" fill-opacity="0.45" filter="url(#b06)"/><circle cx="72.2" cy="110.1" r="1.1" fill="#e02030" fill-opacity="0.45" filter="url(#b06)"/><circle cx="61.5" cy="102.2" r="0.7" fill="#e02030" fill-opacity="0.45" filter="url(#b06)"/><circle cx="73.1" cy="116.8" r="0.9" fill="#e02030" fill-opacity="0.45" filter="url(#b06)"/><circle cx="65.8" cy="122.3" r="0.7" fill="#e02030" fill-opacity="0.45" filter="url(#b06)"/><circle cx="71.1" cy="109" r="0.9" fill="#e02030" fill-opacity="0.45" filter="url(#b06)"/><circle cx="70.6" cy="113.6" r="1.1" fill="#e02030" fill-opacity="0.45" filter="url(#b06)"/><circle cx="73.2" cy="112.7" r="1.2" fill="#e02030" fill-opacity="0.45" filter="url(#b06)"/><circle cx="62.4" cy="102.6" r="1" fill="#e02030" fill-opacity="0.45" filter="url(#b06)"/><circle cx="71.5" cy="112" r="1.1" fill="#e02030" fill-opacity="0.45" filter="url(#b06)"/><circle cx="79.4" cy="106.7" r="1.2" fill="#e02030" fill-opacity="0.45" filter="url(#b06)"/><circle cx="82.2" cy="122.7" r="1" fill="#e02030" fill-opacity="0.45" filter="url(#b06)"/><circle cx="80.7" cy="105.4" r="1.2" fill="#e02030" fill-opacity="0.45" filter="url(#b06)"/><circle cx="81.3" cy="105.9" r="1.1" fill="#e02030" fill-opacity="0.45" filter="url(#b06)"/><circle cx="87.4" cy="103.1" r="1.2" fill="#e02030" fill-opacity="0.45" filter="url(#b06)"/><circle cx="86.1" cy="100.9" r="0.9" fill="#e02030" fill-opacity="0.45" filter="url(#b06)"/><circle cx="82.4" cy="98.2" r="1.1" fill="#e02030" fill-opacity="0.45" filter="url(#b06)"/><circle cx="85.5" cy="118.6" r="1.3" fill="#e02030" fill-opacity="0.45" filter="url(#b06)"/><circle cx="83.9" cy="98.6" r="1.2" fill="#e02030" fill-opacity="0.45" filter="url(#b06)"/><circle cx="79.8" cy="116.7" r="1" fill="#e02030" fill-opacity="0.45" filter="url(#b06)"/><circle cx="81.3" cy="119.5" r="0.9" fill="#e02030" fill-opacity="0.45" filter="url(#b06)"/><circle cx="82" cy="122.6" r="0.9" fill="#e02030" fill-opacity="0.45" filter="url(#b06)"/><circle cx="19" cy="114.6" r="0.8" fill="#e02030" fill-opacity="0.45" filter="url(#b06)"/><circle cx="15" cy="133.3" r="0.9" fill="#e02030" fill-opacity="0.45" filter="url(#b06)"/><circle cx="20.2" cy="128.2" r="1.3" fill="#e02030" fill-opacity="0.45" filter="url(#b06)"/><circle cx="14.5" cy="108.9" r="1.2" fill="#e02030" fill-opacity="0.45" filter="url(#b06)"/><circle cx="18.3" cy="129" r="0.7" fill="#e02030" fill-opacity="0.45" filter="url(#b06)"/><circle cx="22" cy="121.9" r="1.2" fill="#e02030" fill-opacity="0.45" filter="url(#b06)"/><circle cx="8.2" cy="121.2" r="0.8" fill="#e02030" fill-opacity="0.45" filter="url(#b06)"/><circle cx="20.1" cy="130.9" r="0.9" fill="#e02030" fill-opacity="0.45" filter="url(#b06)"/><circle cx="13" cy="113" r="1.1" fill="#e02030" fill-opacity="0.45" filter="url(#b06)"/><circle cx="10.7" cy="127.1" r="1" fill="#e02030" fill-opacity="0.45" filter="url(#b06)"/><circle cx="143.7" cy="75.7" r="1.1" fill="#e02030" fill-opacity="0.45" filter="url(#b06)"/><circle cx="140.8" cy="72.2" r="1.1" fill="#e02030" fill-opacity="0.45" filter="url(#b06)"/><circle cx="147.4" cy="71" r="1.1" fill="#e02030" fill-opacity="0.45" filter="url(#b06)"/><circle cx="142.5" cy="58.4" r="0.9" fill="#e02030" fill-opacity="0.45" filter="url(#b06)"/><circle cx="141.7" cy="57" r="0.8" fill="#e02030" fill-opacity="0.45" filter="url(#b06)"/><circle cx="146.5" cy="74" r="1.1" fill="#e02030" fill-opacity="0.45" filter="url(#b06)"/><circle cx="141.9" cy="72.3" r="1.2" fill="#e02030" fill-opacity="0.45" filter="url(#b06)"/><circle cx="143.5" cy="55" r="0.8" fill="#e02030" fill-opacity="0.45" filter="url(#b06)"/><ellipse cx="28" cy="78.2" rx="13.9" ry="14.3" fill="#0a0304" fill-opacity="0.8" filter="url(#b1)"/><ellipse cx="56.4" cy="101.2" rx="10.6" ry="14" fill="#0a0304" fill-opacity="0.8" filter="url(#b1)"/><ellipse cx="98" cy="77.5" rx="14.8" ry="14" fill="#0a0304" fill-opacity="0.8" filter="url(#b1)"/><ellipse cx="99.3" cy="108.4" rx="12.5" ry="12.1" fill="#0a0304" fill-opacity="0.8" filter="url(#b1)"/><ellipse cx="133" cy="51.5" rx="12.6" ry="19.8" fill="#0a0304" transform="rotate(15 133 51.5)" fill-opacity="0.8" filter="url(#b1)"/><ellipse cx="6" cy="125.5" rx="7.7" ry="14.4" fill="#0a0304" fill-opacity="0.8" filter="url(#b1)"/></g></g>
<g clip-path="url(#c24)"><rect x="529.1" y="665.6" width="77.9" height="77.9" fill="#0a0304" /><g transform="translate(529.1 665.6) scale(0.4893)"><circle cx="151.3" cy="41.7" r="3" fill="#3cd23c" fill-opacity="0.9" filter="url(#b06)"/><circle cx="144.1" cy="71.6" r="1.7" fill="#3cd23c" fill-opacity="0.9" filter="url(#b06)"/><circle cx="141" cy="73.6" r="1.6" fill="#3cd23c" fill-opacity="0.9" filter="url(#b06)"/><circle cx="141" cy="76.7" r="2.6" fill="#3cd23c" fill-opacity="0.9" filter="url(#b06)"/><circle cx="145.1" cy="63.4" r="1.3" fill="#3cd23c" fill-opacity="0.9" filter="url(#b06)"/><circle cx="147.2" cy="59.2" r="1.3" fill="#3cd23c" fill-opacity="0.9" filter="url(#b06)"/><circle cx="90" cy="61.3" r="1.6" fill="#3cd23c" fill-opacity="0.9" filter="url(#b06)"/><circle cx="70.3" cy="99.1" r="2.9" fill="#3cd23c" fill-opacity="0.9" filter="url(#b06)"/><circle cx="60" cy="121.8" r="3.1" fill="#3cd23c" fill-opacity="0.9" filter="url(#b06)"/><circle cx="44.5" cy="89.9" r="1.7" fill="#3cd23c" fill-opacity="0.9" filter="url(#b06)"/><circle cx="46.6" cy="83.7" r="1.6" fill="#3cd23c" fill-opacity="0.9" filter="url(#b06)"/><circle cx="45.5" cy="80.6" r="1.6" fill="#3cd23c" fill-opacity="0.9" filter="url(#b06)"/><circle cx="42" cy="93" r="1.4" fill="#3cd23c" fill-opacity="0.9" filter="url(#b06)"/><circle cx="59" cy="78.5" r="2.1" fill="#3cd23c" fill-opacity="0.9" filter="url(#b06)"/><circle cx="54.3" cy="119.2" r="1.4" fill="#3cd23c" fill-opacity="0.9" filter="url(#b06)"/><circle cx="63" cy="120.8" r="1.4" fill="#3cd23c" fill-opacity="0.9" filter="url(#b06)"/><circle cx="63" cy="85.7" r="1.4" fill="#3cd23c" fill-opacity="0.9" filter="url(#b06)"/><circle cx="27.5" cy="99.6" r="1.3" fill="#3cd23c" fill-opacity="0.9" filter="url(#b06)"/><circle cx="5.9" cy="108.9" r="1.3" fill="#3cd23c" fill-opacity="0.9" filter="url(#b06)"/><circle cx="12.6" cy="110.5" r="1.3" fill="#3cd23c" fill-opacity="0.9" filter="url(#b06)"/><circle cx="13.1" cy="118.7" r="1.3" fill="#3cd23c" fill-opacity="0.9" filter="url(#b06)"/><circle cx="20.3" cy="123.8" r="1.3" fill="#3cd23c" fill-opacity="0.9" filter="url(#b06)"/><circle cx="21.9" cy="132.1" r="1.6" fill="#3cd23c" fill-opacity="0.9" filter="url(#b06)"/><circle cx="16.7" cy="133.6" r="1.3" fill="#3cd23c" fill-opacity="0.9" filter="url(#b06)"/><circle cx="14.7" cy="138.3" r="1.3" fill="#3cd23c" fill-opacity="0.9" filter="url(#b06)"/><circle cx="13.1" cy="72.9" r="1.3" fill="#3cd23c" fill-opacity="0.9" filter="url(#b06)"/><circle cx="22.7" cy="61.2" r="1.3" fill="#3cd23c" fill-opacity="0.9" filter="url(#b06)"/><circle cx="28" cy="58" r="1.3" fill="#3cd23c" fill-opacity="0.9" filter="url(#b06)"/><circle cx="34" cy="60" r="1.3" fill="#3cd23c" fill-opacity="0.9" filter="url(#b06)"/><circle cx="38" cy="62" r="1.3" fill="#3cd23c" fill-opacity="0.9" filter="url(#b06)"/><circle cx="89.6" cy="61.2" r="1.4" fill="#3cd23c" fill-opacity="0.9" filter="url(#b06)"/><circle cx="78" cy="84" r="1.6" fill="#3cd23c" fill-opacity="0.9" filter="url(#b06)"/><circle cx="48" cy="74" r="1.7" fill="#3cd23c" fill-opacity="0.9" filter="url(#b06)"/><circle cx="81" cy="110" r="1.3" fill="#3cd23c" fill-opacity="0.9" filter="url(#b06)"/><circle cx="84" cy="116" r="1.3" fill="#3cd23c" fill-opacity="0.9" filter="url(#b06)"/><circle cx="79" cy="122" r="1.3" fill="#3cd23c" fill-opacity="0.9" filter="url(#b06)"/><circle cx="87" cy="101" r="1.3" fill="#3cd23c" fill-opacity="0.9" filter="url(#b06)"/><circle cx="47.1" cy="96.1" r="1.1" fill="#3cd23c" fill-opacity="0.9" filter="url(#b06)"/><circle cx="38.7" cy="94.2" r="0.8" fill="#3cd23c" fill-opacity="0.9" filter="url(#b06)"/><circle cx="53" cy="82.6" r="1.3" fill="#3cd23c" fill-opacity="0.9" filter="url(#b06)"/><circle cx="51.7" cy="78.6" r="0.9" fill="#3cd23c" fill-opacity="0.9" filter="url(#b06)"/><circle cx="50.5" cy="89.3" r="1" fill="#3cd23c" fill-opacity="0.9" filter="url(#b06)"/><circle cx="45.5" cy="73.1" r="1" fill="#3cd23c" fill-opacity="0.9" filter="url(#b06)"/><circle cx="49.1" cy="94.2" r="1.2" fill="#3cd23c" fill-opacity="0.9" filter="url(#b06)"/><circle cx="51.7" cy="92.4" r="1" fill="#3cd23c" fill-opacity="0.9" filter="url(#b06)"/><circle cx="43.5" cy="74.7" r="1.1" fill="#3cd23c" fill-opacity="0.9" filter="url(#b06)"/><circle cx="51.6" cy="87" r="0.9" fill="#3cd23c" fill-opacity="0.9" filter="url(#b06)"/><circle cx="51.2" cy="92.6" r="0.8" fill="#3cd23c" fill-opacity="0.9" filter="url(#b06)"/><circle cx="50.8" cy="92.9" r="1.3" fill="#3cd23c" fill-opacity="0.9" filter="url(#b06)"/><circle cx="47" cy="75.2" r="1.2" fill="#3cd23c" fill-opacity="0.9" filter="url(#b06)"/><circle cx="48.4" cy="98.9" r="1.3" fill="#3cd23c" fill-opacity="0.9" filter="url(#b06)"/><circle cx="53.2" cy="89.9" r="1" fill="#3cd23c" fill-opacity="0.9" filter="url(#b06)"/><circle cx="44.2" cy="72.5" r="1" fill="#3cd23c" fill-opacity="0.9" filter="url(#b06)"/><circle cx="47.9" cy="74.3" r="1.2" fill="#3cd23c" fill-opacity="0.9" filter="url(#b06)"/><circle cx="39.4" cy="75.7" r="1" fill="#3cd23c" fill-opacity="0.9" filter="url(#b06)"/><circle cx="37.2" cy="65.7" r="1" fill="#3cd23c" fill-opacity="0.9" filter="url(#b06)"/><circle cx="43.5" cy="62.4" r="1.4" fill="#3cd23c" fill-opacity="0.9" filter="url(#b06)"/><circle cx="38.5" cy="61.2" r="1" fill="#3cd23c" fill-opacity="0.9" filter="url(#b06)"/><circle cx="42.5" cy="60.4" r="0.8" fill="#3cd23c" fill-opacity="0.9" filter="url(#b06)"/><circle cx="19.4" cy="60.7" r="1.3" fill="#3cd23c" fill-opacity="0.9" filter="url(#b06)"/><circle cx="30.7" cy="59.2" r="0.9" fill="#3cd23c" fill-opacity="0.9" filter="url(#b06)"/><circle cx="25.5" cy="66.1" r="1.1" fill="#3cd23c" fill-opacity="0.9" filter="url(#b06)"/><circle cx="26.9" cy="66.4" r="1.2" fill="#3cd23c" fill-opacity="0.9" filter="url(#b06)"/><circle cx="23" cy="66.3" r="1.2" fill="#3cd23c" fill-opacity="0.9" filter="url(#b06)"/><circle cx="31.4" cy="57.3" r="1" fill="#3cd23c" fill-opacity="0.9" filter="url(#b06)"/><circle cx="66.9" cy="102.6" r="1.3" fill="#3cd23c" fill-opacity="0.9" filter="url(#b06)"/><circle cx="72.2" cy="110.1" r="1.2" fill="#3cd23c" fill-opacity="0.9" filter="url(#b06)"/><circle cx="61.5" cy="102.2" r="0.8" fill="#3cd23c" fill-opacity="0.9" filter="url(#b06)"/><circle cx="73.1" cy="116.8" r="1" fill="#3cd23c" fill-opacity="0.9" filter="url(#b06)"/><circle cx="65.8" cy="122.3" r="0.8" fill="#3cd23c" fill-opacity="0.9" filter="url(#b06)"/><circle cx="71.1" cy="109" r="1" fill="#3cd23c" fill-opacity="0.9" filter="url(#b06)"/><circle cx="70.6" cy="113.6" r="1.2" fill="#3cd23c" fill-opacity="0.9" filter="url(#b06)"/><circle cx="73.2" cy="112.7" r="1.3" fill="#3cd23c" fill-opacity="0.9" filter="url(#b06)"/><circle cx="62.4" cy="102.6" r="1.1" fill="#3cd23c" fill-opacity="0.9" filter="url(#b06)"/><circle cx="71.5" cy="112" r="1.2" fill="#3cd23c" fill-opacity="0.9" filter="url(#b06)"/><circle cx="79.4" cy="106.7" r="1.3" fill="#3cd23c" fill-opacity="0.9" filter="url(#b06)"/><circle cx="82.2" cy="122.7" r="1.1" fill="#3cd23c" fill-opacity="0.9" filter="url(#b06)"/><circle cx="80.7" cy="105.4" r="1.3" fill="#3cd23c" fill-opacity="0.9" filter="url(#b06)"/><circle cx="81.3" cy="105.9" r="1.2" fill="#3cd23c" fill-opacity="0.9" filter="url(#b06)"/><circle cx="87.4" cy="103.1" r="1.3" fill="#3cd23c" fill-opacity="0.9" filter="url(#b06)"/><circle cx="86.1" cy="100.9" r="1" fill="#3cd23c" fill-opacity="0.9" filter="url(#b06)"/><circle cx="82.4" cy="98.2" r="1.2" fill="#3cd23c" fill-opacity="0.9" filter="url(#b06)"/><circle cx="85.5" cy="118.6" r="1.4" fill="#3cd23c" fill-opacity="0.9" filter="url(#b06)"/><circle cx="83.9" cy="98.6" r="1.3" fill="#3cd23c" fill-opacity="0.9" filter="url(#b06)"/><circle cx="79.8" cy="116.7" r="1.1" fill="#3cd23c" fill-opacity="0.9" filter="url(#b06)"/><circle cx="81.3" cy="119.5" r="1" fill="#3cd23c" fill-opacity="0.9" filter="url(#b06)"/><circle cx="82" cy="122.6" r="1" fill="#3cd23c" fill-opacity="0.9" filter="url(#b06)"/><circle cx="19" cy="114.6" r="0.8" fill="#3cd23c" fill-opacity="0.9" filter="url(#b06)"/><circle cx="15" cy="133.3" r="1" fill="#3cd23c" fill-opacity="0.9" filter="url(#b06)"/><circle cx="20.2" cy="128.2" r="1.4" fill="#3cd23c" fill-opacity="0.9" filter="url(#b06)"/><circle cx="14.5" cy="108.9" r="1.3" fill="#3cd23c" fill-opacity="0.9" filter="url(#b06)"/><circle cx="18.3" cy="129" r="0.8" fill="#3cd23c" fill-opacity="0.9" filter="url(#b06)"/><circle cx="22" cy="121.9" r="1.3" fill="#3cd23c" fill-opacity="0.9" filter="url(#b06)"/><circle cx="8.2" cy="121.2" r="0.9" fill="#3cd23c" fill-opacity="0.9" filter="url(#b06)"/><circle cx="20.1" cy="130.9" r="1" fill="#3cd23c" fill-opacity="0.9" filter="url(#b06)"/><circle cx="13" cy="113" r="1.2" fill="#3cd23c" fill-opacity="0.9" filter="url(#b06)"/><circle cx="10.7" cy="127.1" r="1" fill="#3cd23c" fill-opacity="0.9" filter="url(#b06)"/><circle cx="143.7" cy="75.7" r="1.1" fill="#3cd23c" fill-opacity="0.9" filter="url(#b06)"/><circle cx="140.8" cy="72.2" r="1.2" fill="#3cd23c" fill-opacity="0.9" filter="url(#b06)"/><circle cx="147.4" cy="71" r="1.1" fill="#3cd23c" fill-opacity="0.9" filter="url(#b06)"/><circle cx="142.5" cy="58.4" r="0.9" fill="#3cd23c" fill-opacity="0.9" filter="url(#b06)"/><circle cx="141.7" cy="57" r="0.9" fill="#3cd23c" fill-opacity="0.9" filter="url(#b06)"/><circle cx="146.5" cy="74" r="1.1" fill="#3cd23c" fill-opacity="0.9" filter="url(#b06)"/><circle cx="141.9" cy="72.3" r="1.3" fill="#3cd23c" fill-opacity="0.9" filter="url(#b06)"/><circle cx="143.5" cy="55" r="0.8" fill="#3cd23c" fill-opacity="0.9" filter="url(#b06)"/></g></g>
<text x="531.1" y="596.6" font-size="10.5" fill="#c82038" text-anchor="start" font-weight="bold" >Cy5.5</text>
<text x="531.1" y="676.7" font-size="10.5" fill="#46b446" text-anchor="start" font-weight="bold" >Lyso</text>
<text x="612.3" y="596.6" font-size="10.5" fill="#e6e232" text-anchor="start" font-weight="bold" >Merge</text>
<rect x="3.9" y="585.5" width="21.6" height="158.3" fill="#a6a6a6" />
<text x="14.7" y="670.5" font-size="15.3" font-weight="bold" fill="#1a1a1a" stroke="#1a1a1a" stroke-width="0.3" text-anchor="middle" dominant-baseline="central" transform="rotate(-90 14.7 670.5)">BSA/FCS NPs</text>
<line x1="733.8" y1="726" x2="767" y2="726" stroke="#fff" stroke-width="1.4"/>
<text x="749" y="739.6" font-size="12" fill="#fff" text-anchor="middle" font-weight="bold" >5μm</text>
<polyline points="69.9,888.1 72.1,887.6 74.2,887.2 76.4,887.6 78.6,888.1 80.8,888.2 82.9,888.2 85.1,888.1 87.3,888.2 89.4,876.4 91.6,869.7 93.8,866.9 95.9,874.4 98.1,885.1 100.3,887.6 102.5,888.1 104.6,888.1 106.8,888.2 109,888.1 111.1,888.1 113.3,888.1 115.5,887.6 117.6,883.1 119.8,887.2 122,888.1 124.2,887.6 126.3,887.8 128.5,888.1 130.7,887.6 132.8,887.6 135,885.6 137.2,886.3 139.3,887.6 141.5,888.1 143.7,887.6 145.9,887.8 148,888.1 150.2,887.6 152.4,887.6 154.5,887.2 156.7,887.2 158.9,886.8 161,886.5 163.2,886.5 165.4,886.8 167.6,888.1 169.7,887.8 171.9,887.6 174.1,887.8 176.2,888.1 178.4,887.6 180.6,888.1 182.7,886.5 184.9,874 187.1,850.7 189.2,838.2 191.4,836.3 193.6,836.3 195.8,847.6 197.9,866.2 200.1,882.6 202.3,887.3 204.4,886.5 206.6,881.8 208.8,870.9 210.9,856.8 213.1,844.4 215.3,842.1 217.5,858.4 219.6,874 221.8,877.4 224,878.7 226.1,883.4 228.3,887.3 230.5,888.1 232.7,886.5 234.8,878.7 237,852.2 239.2,810.2 241.3,797.7 243.5,795.3 245.7,796.1 247.8,836.6 250,838.2 252.2,869.4 254.3,884.9 256.5,887.3 258.7,887.3" fill="none" stroke="#3aa33a" stroke-width="1.5" stroke-linejoin="round"/>
<polyline points="69.9,866.9 72.1,868.3 74.2,873.8 76.4,875.7 78.6,879 80.8,879 82.9,874.4 85.1,875.7 87.3,871.7 89.4,857.5 91.6,845.4 93.8,843.4 95.9,852.1 98.1,864.9 100.3,868.3 102.5,873.8 104.6,875.1 106.8,877.7 109,873.8 111.1,873 113.3,872 115.5,867.7 117.6,863.6 119.8,866.9 122,870.3 124.2,874.4 126.3,873.8 128.5,876.4 130.7,873.8 132.8,871.7 135,869 137.2,869 139.3,871 141.5,873 143.7,875.1 145.9,877.7 148,879.3 150.2,878.4 152.4,877.5 154.5,875.7 156.7,877.7 158.9,879 161,878.4 163.2,878.4 165.4,879.5 167.6,877.9 169.7,875.6 171.9,874.4 174.1,872.5 176.2,868.6 178.4,865.4 180.6,863.1 182.7,858.4 184.9,841.3 187.1,819.5 189.2,813.3 191.4,809.4 193.6,808.9 195.8,816.3 197.9,830.4 200.1,844.4 202.3,850.7 204.4,847.6 206.6,841.3 208.8,833.5 210.9,825.7 213.1,818.7 215.3,814.8 217.5,827.3 219.6,842.9 221.8,849.1 224,849.5 226.1,851.5 228.3,854.5 230.5,856.6 232.7,856.8 234.8,847.6 237,821 239.2,782.1 241.3,762.7 243.5,766.2 245.7,770.8 247.8,817.9 250,818.7 252.2,846 254.3,854.5 256.5,852.2 258.7,849.9 260.9,884.9 263,886.5" fill="none" stroke="#e2384a" stroke-width="1.5" stroke-linejoin="round"/>
<rect x="69.9" y="758.4" width="196" height="130.1" fill="none" stroke="#111" stroke-width="1.7"/>
<line x1="64.9" y1="888.5" x2="69.9" y2="888.5" stroke="#111" stroke-width="1.6"/>
<text x="63.4" y="893" font-size="13" fill="#111" text-anchor="end" font-weight="bold" stroke="#111" stroke-width="0.3" >0</text>
<line x1="64.9" y1="845.1" x2="69.9" y2="845.1" stroke="#111" stroke-width="1.6"/>
<text x="63.4" y="849.6" font-size="13" fill="#111" text-anchor="end" font-weight="bold" stroke="#111" stroke-width="0.3" >50</text>
<line x1="64.9" y1="801.8" x2="69.9" y2="801.8" stroke="#111" stroke-width="1.6"/>
<text x="63.4" y="806.3" font-size="13" fill="#111" text-anchor="end" font-weight="bold" stroke="#111" stroke-width="0.3" >100</text>
<line x1="64.9" y1="758.4" x2="69.9" y2="758.4" stroke="#111" stroke-width="1.6"/>
<text x="63.4" y="762.9" font-size="13" fill="#111" text-anchor="end" font-weight="bold" stroke="#111" stroke-width="0.3" >150</text>
<line x1="69.9" y1="888.5" x2="69.9" y2="893.5" stroke="#111" stroke-width="1.6"/>
<text x="71.1" y="908.8" font-size="13" fill="#111" text-anchor="middle" font-weight="bold" stroke="#111" stroke-width="0.3" >0</text>
<line x1="113.3" y1="888.5" x2="113.3" y2="893.5" stroke="#111" stroke-width="1.6"/>
<text x="114.5" y="908.8" font-size="13" fill="#111" text-anchor="middle" font-weight="bold" stroke="#111" stroke-width="0.3" >20</text>
<line x1="156.7" y1="888.5" x2="156.7" y2="893.5" stroke="#111" stroke-width="1.6"/>
<text x="157.9" y="908.8" font-size="13" fill="#111" text-anchor="middle" font-weight="bold" stroke="#111" stroke-width="0.3" >40</text>
<line x1="200.1" y1="888.5" x2="200.1" y2="893.5" stroke="#111" stroke-width="1.6"/>
<text x="201.3" y="908.8" font-size="13" fill="#111" text-anchor="middle" font-weight="bold" stroke="#111" stroke-width="0.3" >60</text>
<line x1="243.5" y1="888.5" x2="243.5" y2="893.5" stroke="#111" stroke-width="1.6"/>
<text x="244.7" y="908.8" font-size="13" fill="#111" text-anchor="middle" font-weight="bold" stroke="#111" stroke-width="0.3" >80</text>
<text x="116.7" y="923.3" font-size="13.6" fill="#111" text-anchor="start" font-weight="bold" stroke="#111" stroke-width="0.3" textLength="107" lengthAdjust="spacingAndGlyphs">Distance(pixels)</text>
<text x="37.1" y="821.2" font-size="13.3" font-weight="bold" fill="#111" stroke="#111" stroke-width="0.3" text-anchor="middle" textLength="56" lengthAdjust="spacingAndGlyphs" transform="rotate(-90 37.1 821.2)">Intensity</text>
<line x1="96.5" y1="768.7" x2="117.5" y2="768.7" stroke="#3aa33a" stroke-width="1.6"/>
<text x="124.3" y="772.9" font-size="13.5" fill="#3aa33a" text-anchor="start" font-weight="bold" >lyso</text>
<line x1="159.5" y1="768.7" x2="179.5" y2="768.7" stroke="#e2384a" stroke-width="1.6"/>
<text x="185" y="772.9" font-size="13.5" fill="#e2384a" text-anchor="start" font-weight="bold" >Cy5.5</text>
<polyline points="320.4,885.2 322.6,879.6 324.8,881.1 326.9,885.2 329.1,878.1 331.3,883.1 333.5,883.7 335.7,884.1 337.8,881.1 340,884.6 342.2,880.1 344.4,881.3 346.6,882.1 348.7,882.7 350.9,882.7 353.1,875.8 355.3,868.3 357.5,851.7 359.6,836.7 361.8,842.7 364,856.2 366.2,850.3 368.4,842 370.5,840.5 372.7,851.7 374.9,852.5 377.1,860.7 379.3,863.8 381.4,845.8 383.6,833.6 385.8,836.7 388,844.2 390.2,853.3 392.3,842 394.5,842 396.7,845.8 398.9,857.8 401.1,861.5 403.2,866.8 405.4,869.1 407.6,851.7 409.8,833.6 412,826.1 414.1,824.6 416.3,812.6 418.5,798.1 420.7,818.5 422.9,841.1 425,840.3 427.2,830.5 429.4,841.8 431.6,825.9 433.8,820 435.9,842.6 438.1,859.1 440.3,867.4 442.5,872.7 444.7,878.7 446.8,881.4 449,883.3 451.2,883.3 453.4,886.2 455.6,887 457.7,887.4 459.9,887.8 462.1,887 464.3,886.2 466.5,884.7 468.6,884 470.8,884.5 473,884 475.2,883.5 477.4,882.9 479.5,884 481.7,884 483.9,883.3 486.1,882.9 488.3,886.2 490.4,887 492.6,885.5 494.8,884" fill="none" stroke="#3aa33a" stroke-width="1.5" stroke-linejoin="round"/>
<polyline points="320.4,884.1 322.6,880.1 324.8,880.4 326.9,885.2 329.1,877.6 331.3,883.1 333.5,883.7 335.7,884.6 337.8,880.7 340,884.9 342.2,880.1 344.4,880.7 346.6,876.6 348.7,872.1 350.9,866.8 353.1,860.7 355.3,853.3 357.5,839.7 359.6,812.6 361.8,815.6 364,827.7 366.2,830.7 368.4,830.4 370.5,830.7 372.7,841.2 374.9,835.2 377.1,841.2 379.3,842.7 381.4,826.1 383.6,814.1 385.8,821.6 388,835.2 390.2,835.2 392.3,821.6 394.5,824.6 396.7,833.6 398.9,841.2 401.1,841.4 403.2,845.8 405.4,850.3 407.6,839.7 409.8,829.1 412,821.6 414.1,814.1 416.3,803.6 418.5,781.7 420.7,799 422.9,807.9 425,803.4 427.2,798.1 429.4,823 431.6,818.5 433.8,824.5 435.9,845.6 438.1,862.1 440.3,865.2 442.5,864.4 444.7,869.7 446.8,875.7 449,880.2 451.2,882.7 453.4,883.3 455.6,882.1 457.7,882.9 459.9,883.3 462.1,881.4 464.3,880.2 466.5,879.5 468.6,875.7 470.8,874.2 473,873.9 475.2,871.9 477.4,871.9 479.5,872.7 481.7,874.2 483.9,871.9 486.1,872.7 488.3,879.5 490.4,881 492.6,878.7 494.8,880.2 497,882.5 499.2,884.5 501.3,886.2 503.5,885.9 505.7,886.2 507.9,886.6 510.1,887.2 512.2,887.4 514.4,887.9" fill="none" stroke="#e2384a" stroke-width="1.5" stroke-linejoin="round"/>
<rect x="320.4" y="758.3" width="196.7" height="129.9" fill="none" stroke="#111" stroke-width="1.7"/>
<line x1="315.4" y1="888.2" x2="320.4" y2="888.2" stroke="#111" stroke-width="1.6"/>
<text x="313.9" y="892.7" font-size="13" fill="#111" text-anchor="end" font-weight="bold" stroke="#111" stroke-width="0.3" >0</text>
<line x1="315.4" y1="844.9" x2="320.4" y2="844.9" stroke="#111" stroke-width="1.6"/>
<text x="313.9" y="849.4" font-size="13" fill="#111" text-anchor="end" font-weight="bold" stroke="#111" stroke-width="0.3" >50</text>
<line x1="315.4" y1="801.6" x2="320.4" y2="801.6" stroke="#111" stroke-width="1.6"/>
<text x="313.9" y="806.1" font-size="13" fill="#111" text-anchor="end" font-weight="bold" stroke="#111" stroke-width="0.3" >100</text>
<line x1="315.4" y1="758.3" x2="320.4" y2="758.3" stroke="#111" stroke-width="1.6"/>
<text x="313.9" y="762.8" font-size="13" fill="#111" text-anchor="end" font-weight="bold" stroke="#111" stroke-width="0.3" >150</text>
<line x1="320.4" y1="888.2" x2="320.4" y2="893.2" stroke="#111" stroke-width="1.6"/>
<text x="321.6" y="908.5" font-size="13" fill="#111" text-anchor="middle" font-weight="bold" stroke="#111" stroke-width="0.3" >0</text>
<line x1="364" y1="888.2" x2="364" y2="893.2" stroke="#111" stroke-width="1.6"/>
<text x="365.2" y="908.5" font-size="13" fill="#111" text-anchor="middle" font-weight="bold" stroke="#111" stroke-width="0.3" >20</text>
<line x1="407.6" y1="888.2" x2="407.6" y2="893.2" stroke="#111" stroke-width="1.6"/>
<text x="408.8" y="908.5" font-size="13" fill="#111" text-anchor="middle" font-weight="bold" stroke="#111" stroke-width="0.3" >40</text>
<line x1="451.2" y1="888.2" x2="451.2" y2="893.2" stroke="#111" stroke-width="1.6"/>
<text x="452.4" y="908.5" font-size="13" fill="#111" text-anchor="middle" font-weight="bold" stroke="#111" stroke-width="0.3" >60</text>
<line x1="494.8" y1="888.2" x2="494.8" y2="893.2" stroke="#111" stroke-width="1.6"/>
<text x="496" y="908.5" font-size="13" fill="#111" text-anchor="middle" font-weight="bold" stroke="#111" stroke-width="0.3" >80</text>
<text x="365.6" y="923.3" font-size="13.6" fill="#111" text-anchor="start" font-weight="bold" stroke="#111" stroke-width="0.3" textLength="107" lengthAdjust="spacingAndGlyphs">Distance(pixels)</text>
<text x="285.8" y="821" font-size="13.3" font-weight="bold" fill="#111" stroke="#111" stroke-width="0.3" text-anchor="middle" textLength="56" lengthAdjust="spacingAndGlyphs" transform="rotate(-90 285.8 821)">Intensity</text>
<line x1="355.8" y1="768.6" x2="376.8" y2="768.6" stroke="#3aa33a" stroke-width="1.6"/>
<text x="383.6" y="772.8" font-size="13.5" fill="#3aa33a" text-anchor="start" font-weight="bold" >lyso</text>
<line x1="418.8" y1="768.6" x2="438.8" y2="768.6" stroke="#e2384a" stroke-width="1.6"/>
<text x="444.3" y="772.8" font-size="13.5" fill="#e2384a" text-anchor="start" font-weight="bold" >Cy5.5</text>
<polyline points="570.8,859.2 573,859.9 575.2,866.7 577.4,865.2 579.6,875.7 581.7,877.2 583.9,884 586.1,883.2 588.3,882.9 590.5,884 592.7,882.9 594.9,884 597.1,880.3 599.2,865.2 601.4,865.2 603.6,845.6 605.8,846.4 608,850.9 610.2,850.9 612.4,820 614.6,821.6 616.7,808.7 618.9,808.3 621.1,808.3 623.3,799 625.5,802 627.7,795.2 629.9,799 632.1,823.1 634.3,851.6 636.4,875.7 638.6,880.9 640.8,881.5 643,881.5 645.2,880.9 647.4,868.2 649.6,860.7 651.8,865.9 653.9,872.7 656.1,878.7 658.3,877.5 660.5,876.4 662.7,875.7 664.9,875 667.1,877.2 669.3,880.3 671.4,879 673.6,878.7 675.8,877 678,877 680.2,877.2 682.4,878 684.6,859.2 686.8,861.4 689,855.4 691.1,859.2 693.3,851.6 695.5,843.4 697.7,847.9 699.9,848.7 702.1,848.7 704.3,874.2 706.5,875.7 708.6,875.4 710.8,875 713,878 715.2,880.3 717.4,875.7 719.6,872.7 721.8,871.9 724,860.6 726.1,844.1 728.3,823.1 730.5,824.5 732.7,814.8 734.9,822.3 737.1,830.6 739.3,844.1 741.5,844.8 743.7,857.7 745.8,863.7 748,874.2 750.2,875.7 752.4,875 754.6,878 756.8,884 759,883.2 761.2,884.4 763.3,884 765.5,885 767.7,885.5" fill="none" stroke="#3aa33a" stroke-width="1.5" stroke-linejoin="round"/>
<polyline points="570.8,805 573,804.3 575.2,812.5 577.4,811 579.6,821.6 581.7,823.1 583.9,825.3 586.1,826.9 588.3,829 590.5,832.9 592.7,830.6 594.9,837.4 597.1,837.4 599.2,824.5 601.4,824.5 603.6,808.7 605.8,810.3 608,818.5 610.2,825.3 612.4,820 614.6,828.3 616.7,818.5 618.9,811.8 621.1,811.8 623.3,799 625.5,791.5 627.7,773.4 629.9,773.4 632.1,791.5 634.3,812.5 636.4,817.8 638.6,815.5 640.8,813.2 643,809.5 645.2,803.5 647.4,784.7 649.6,781.7 651.8,784.7 653.9,792.2 656.1,802 658.3,805.8 660.5,808 662.7,805 664.9,802.7 667.1,805.8 669.3,810.3 671.4,806.5 673.6,809.5 675.8,811.8 678,812.5 680.2,808.7 682.4,808 684.6,790 686.8,792.9 689,789.2 691.1,797.4 693.3,797.4 695.5,799 697.7,807.3 699.9,809.5 702.1,811 704.3,827.6 706.5,821.6 708.6,814.8 710.8,820 713,829 715.2,837.4 717.4,836.6 719.6,840.3 721.8,840.3 724,836.6 726.1,832.1 728.3,826.9 730.5,833.6 732.7,832.9 734.9,835.1 737.1,826.1 739.3,826.1 741.5,825.7 743.7,825.3 745.8,819.3 748,823.8 750.2,826.9 752.4,830.6 754.6,837.4 756.8,844.8 759,846.4 761.2,849.4 763.3,851.6 765.5,860.6 767.7,865.2" fill="none" stroke="#e2384a" stroke-width="1.5" stroke-linejoin="round"/>
<rect x="570.8" y="758.3" width="196.8" height="130.2" fill="none" stroke="#111" stroke-width="1.7"/>
<line x1="565.8" y1="888.5" x2="570.8" y2="888.5" stroke="#111" stroke-width="1.6"/>
<text x="564.3" y="893" font-size="13" fill="#111" text-anchor="end" font-weight="bold" stroke="#111" stroke-width="0.3" >0</text>
<line x1="565.8" y1="845.1" x2="570.8" y2="845.1" stroke="#111" stroke-width="1.6"/>
<text x="564.3" y="849.6" font-size="13" fill="#111" text-anchor="end" font-weight="bold" stroke="#111" stroke-width="0.3" >50</text>
<line x1="565.8" y1="801.7" x2="570.8" y2="801.7" stroke="#111" stroke-width="1.6"/>
<text x="564.3" y="806.2" font-size="13" fill="#111" text-anchor="end" font-weight="bold" stroke="#111" stroke-width="0.3" >100</text>
<line x1="565.8" y1="758.3" x2="570.8" y2="758.3" stroke="#111" stroke-width="1.6"/>
<text x="564.3" y="762.8" font-size="13" fill="#111" text-anchor="end" font-weight="bold" stroke="#111" stroke-width="0.3" >150</text>
<line x1="570.8" y1="888.5" x2="570.8" y2="893.5" stroke="#111" stroke-width="1.6"/>
<text x="572" y="908.8" font-size="13" fill="#111" text-anchor="middle" font-weight="bold" stroke="#111" stroke-width="0.3" >0</text>
<line x1="614.6" y1="888.5" x2="614.6" y2="893.5" stroke="#111" stroke-width="1.6"/>
<text x="615.8" y="908.8" font-size="13" fill="#111" text-anchor="middle" font-weight="bold" stroke="#111" stroke-width="0.3" >20</text>
<line x1="658.3" y1="888.5" x2="658.3" y2="893.5" stroke="#111" stroke-width="1.6"/>
<text x="659.5" y="908.8" font-size="13" fill="#111" text-anchor="middle" font-weight="bold" stroke="#111" stroke-width="0.3" >40</text>
<line x1="702.1" y1="888.5" x2="702.1" y2="893.5" stroke="#111" stroke-width="1.6"/>
<text x="703.3" y="908.8" font-size="13" fill="#111" text-anchor="middle" font-weight="bold" stroke="#111" stroke-width="0.3" >60</text>
<line x1="745.8" y1="888.5" x2="745.8" y2="893.5" stroke="#111" stroke-width="1.6"/>
<text x="747" y="908.8" font-size="13" fill="#111" text-anchor="middle" font-weight="bold" stroke="#111" stroke-width="0.3" >80</text>
<text x="617" y="923.3" font-size="13.6" fill="#111" text-anchor="start" font-weight="bold" stroke="#111" stroke-width="0.3" textLength="107" lengthAdjust="spacingAndGlyphs">Distance(pixels)</text>
<text x="535.8" y="821.2" font-size="13.3" font-weight="bold" fill="#111" stroke="#111" stroke-width="0.3" text-anchor="middle" textLength="56" lengthAdjust="spacingAndGlyphs" transform="rotate(-90 535.8 821.2)">Intensity</text>
<line x1="610.8" y1="768.6" x2="631.8" y2="768.6" stroke="#3aa33a" stroke-width="1.6"/>
<text x="638.6" y="772.8" font-size="13.5" fill="#3aa33a" text-anchor="start" font-weight="bold" >lyso</text>
<line x1="673.8" y1="768.6" x2="693.8" y2="768.6" stroke="#e2384a" stroke-width="1.6"/>
<text x="699.3" y="772.8" font-size="13.5" fill="#e2384a" text-anchor="start" font-weight="bold" >Cy5.5</text>
</svg>
</body></html>
